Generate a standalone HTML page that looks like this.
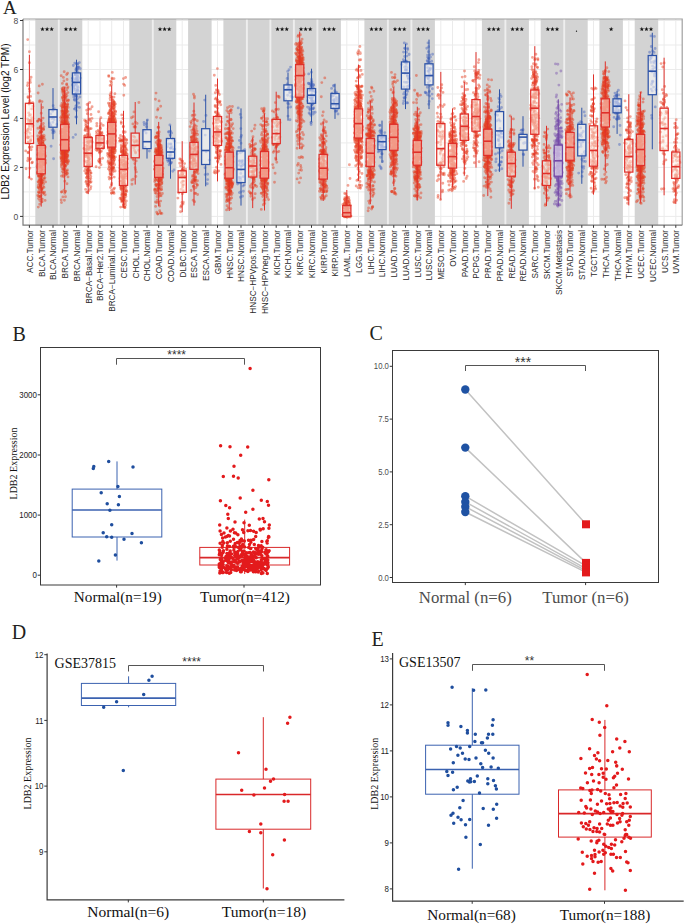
<!DOCTYPE html>
<html><head><meta charset="utf-8"><style>
html,body{margin:0;padding:0;background:#ffffff;width:685px;height:924px;overflow:hidden}
svg{display:block}
</style></head><body><svg width="685" height="924" viewBox="0 0 685 924"><rect x="23" y="19" width="659.2" height="206.2" fill="#ffffff"/><path d="M23 216.4H682.2M23 191.9H682.2M23 167.4H682.2M23 142.9H682.2M23 118.4H682.2M23 94H682.2M23 69.5H682.2M23 45H682.2M23 20.5H682.2M29.4 19V225.2M41.2 19V225.2M53 19V225.2M64.7 19V225.2M76.5 19V225.2M88.2 19V225.2M100 19V225.2M111.7 19V225.2M123.5 19V225.2M135.2 19V225.2M147 19V225.2M158.7 19V225.2M170.5 19V225.2M182.2 19V225.2M194 19V225.2M205.7 19V225.2M217.5 19V225.2M229.2 19V225.2M241 19V225.2M252.7 19V225.2M264.5 19V225.2M276.2 19V225.2M288 19V225.2M299.7 19V225.2M311.5 19V225.2M323.2 19V225.2M335 19V225.2M346.8 19V225.2M358.5 19V225.2M370.3 19V225.2M382 19V225.2M393.8 19V225.2M405.5 19V225.2M417.3 19V225.2M429 19V225.2M440.8 19V225.2M452.5 19V225.2M464.3 19V225.2M476 19V225.2M487.8 19V225.2M499.5 19V225.2M511.3 19V225.2M523 19V225.2M534.8 19V225.2M546.5 19V225.2M558.3 19V225.2M570 19V225.2M581.8 19V225.2M593.5 19V225.2M605.3 19V225.2M617.1 19V225.2M628.8 19V225.2M640.6 19V225.2M652.3 19V225.2M664.1 19V225.2M675.8 19V225.2" stroke="#ebebeb" stroke-width="1" fill="none"/><rect x="35.3" y="19" width="23.5" height="206.2" fill="#d3d3d3"/><rect x="58.8" y="19" width="23.5" height="206.2" fill="#d3d3d3"/><rect x="129.3" y="19" width="23.5" height="206.2" fill="#d3d3d3"/><rect x="152.8" y="19" width="23.5" height="206.2" fill="#d3d3d3"/><rect x="188.1" y="19" width="23.5" height="206.2" fill="#d3d3d3"/><rect x="223.4" y="19" width="23.5" height="206.2" fill="#d3d3d3"/><rect x="246.9" y="19" width="23.5" height="206.2" fill="#d3d3d3"/><rect x="270.4" y="19" width="23.5" height="206.2" fill="#d3d3d3"/><rect x="293.9" y="19" width="23.5" height="206.2" fill="#d3d3d3"/><rect x="317.4" y="19" width="23.5" height="206.2" fill="#d3d3d3"/><rect x="364.4" y="19" width="23.5" height="206.2" fill="#d3d3d3"/><rect x="387.9" y="19" width="23.5" height="206.2" fill="#d3d3d3"/><rect x="411.4" y="19" width="23.5" height="206.2" fill="#d3d3d3"/><rect x="481.9" y="19" width="23.5" height="206.2" fill="#d3d3d3"/><rect x="505.4" y="19" width="23.5" height="206.2" fill="#d3d3d3"/><rect x="540.7" y="19" width="23.5" height="206.2" fill="#d3d3d3"/><rect x="564.2" y="19" width="23.5" height="206.2" fill="#d3d3d3"/><rect x="599.4" y="19" width="23.5" height="206.2" fill="#d3d3d3"/><rect x="634.7" y="19" width="23.5" height="206.2" fill="#d3d3d3"/><path d="M58.8 19V225.2M152.8 19V225.2M246.9 19V225.2M270.4 19V225.2M293.9 19V225.2M317.4 19V225.2M387.9 19V225.2M411.4 19V225.2M505.4 19V225.2M564.2 19V225.2" stroke="#eeeeee" stroke-width="1.9" fill="none"/><path d="M30.5 123.8h0M31.7 122h0M29.9 120.6h0M31.4 179.1h0M28.2 129.3h0M28.5 152.3h0M30.5 140.8h0M30.4 82.4h0M29.8 100.6h0M32.9 125.8h0M32 119.9h0M32.4 162.3h0M29.3 102.8h0M26 132.7h0" stroke="#e5381a" stroke-opacity="0.46" stroke-width="2.9" stroke-linecap="round" fill="none"/><path d="M30.5 114.7h0M27.9 82.9h0M25.7 150.9h0M29.1 177.4h0M30.9 139.5h0M30 147.3h0M29.4 127.1h0M26.1 168.8h0M30.6 158.7h0M29.2 103.5h0M28.1 158.3h0M32 146.9h0M30.1 133.3h0M29.4 51.7h0" stroke="#e5381a" stroke-opacity="0.46" stroke-width="2.9" stroke-linecap="round" fill="none"/><path d="M28.1 131.8h0M27.7 138.1h0M29.6 124.7h0M26.7 130.7h0M29.2 125.2h0M29.8 91.4h0M29.8 120.5h0M28.1 97.6h0M30.8 121.6h0M30.1 79.9h0M30.6 140.7h0M28.9 104.1h0M26.9 134.5h0M27.7 39.6h0" stroke="#e5381a" stroke-opacity="0.46" stroke-width="2.9" stroke-linecap="round" fill="none"/><path d="M31.1 149.7h0M28.3 141.9h0M32.8 102.6h0M27.7 160.7h0M28.3 120.4h0M29.3 147.3h0M28.4 121.9h0M30.6 120.2h0M32.9 106.2h0M29.7 143.5h0M30.9 129.5h0M27.9 137.3h0M27.1 131.1h0" stroke="#e5381a" stroke-opacity="0.46" stroke-width="2.9" stroke-linecap="round" fill="none"/><path d="M28.2 137h0M31.7 108.9h0M31.8 162.9h0M29.2 115.5h0M29.9 168.3h0M32.2 124.8h0M29.6 159.4h0M28.1 142.5h0M27.9 129.3h0M31.6 117.6h0M30.7 96.4h0M32.2 126.7h0M31.1 77.3h0" stroke="#e5381a" stroke-opacity="0.46" stroke-width="2.9" stroke-linecap="round" fill="none"/><path d="M28 152.7h0M28.7 112.9h0M29.2 137.1h0M27.7 119h0M28.1 137.7h0M28 96.8h0M30.1 121.5h0M29.3 62.8h0M30.7 103h0M27.3 137.3h0M29.3 88.9h0M27.5 85.5h0M31.6 136.3h0" stroke="#e5381a" stroke-opacity="0.46" stroke-width="2.9" stroke-linecap="round" fill="none"/><path d="M29.4 103.3V54.8M29.4 143.4V178.4" stroke="#e0302a" stroke-width="1.0"/><rect x="25.4" y="103.3" width="8.2" height="40.2" fill="#fff4ea" fill-opacity="0.5" stroke="#e0302a" stroke-width="1.25"/><path d="M25.4 123.8H33.5" stroke="#e0302a" stroke-width="1.6"/><path d="M42.1 165.4h0M41.8 132h0M44.5 158.1h0M41.3 181.8h0M43.9 159.3h0M39.4 151.4h0M40.3 163h0M42 167.6h0M40 156.9h0M40.9 147.8h0M42.6 157.7h0M41.2 164h0M38.8 141.1h0M40.3 155.2h0M40.7 163.5h0M39.7 178.8h0M42.1 163.4h0M39.2 179.6h0M38.3 153.1h0M41.1 121h0M39.5 189.8h0M42.3 173.9h0M45.3 160.3h0M44.1 137.5h0M37.1 166.5h0M38.2 138.7h0M42.3 138.2h0M39.8 200.5h0M43.6 183.7h0M37.8 195.5h0M45.5 181.9h0M39.9 165.7h0M39 159h0M39.3 176.1h0M43.8 146.8h0M40.5 178.9h0M41.7 160.4h0M40.2 151.4h0M41.1 180.3h0M44.4 159.8h0M42.8 181.2h0M39.8 166.8h0M43.2 165.3h0M39.9 178.1h0M42.6 183.6h0M41.7 175.8h0M39.4 146.8h0M38.3 164.3h0M42.4 188.4h0M42.1 162.5h0M41.4 157.2h0M40.3 147.9h0M41.5 173.3h0M43.9 148.1h0M42.9 162.3h0M39.2 167.2h0M40.2 186.6h0M41.5 175.9h0M38.7 165.8h0M44.8 152.8h0M39 140.8h0M41.2 148h0M39.4 143.1h0M40.5 160.1h0M40.3 163.1h0M39.8 152.2h0M42.1 169.5h0M42.2 154.9h0M42 101.6h0" stroke="#e5381a" stroke-opacity="0.46" stroke-width="2.9" stroke-linecap="round" fill="none"/><path d="M44.2 135.6h0M41.4 158.1h0M39.5 160.3h0M41.6 148.7h0M39.7 188h0M41.4 154h0M41.7 134.9h0M41.4 198.7h0M42.8 154.7h0M44.7 160.4h0M41.3 166.6h0M43.5 163.9h0M39.4 175.9h0M37.4 159.1h0M38.6 181.9h0M41.9 137.1h0M40.1 172h0M41.1 177.7h0M41.2 165.6h0M42 147h0M43.1 141.7h0M41.8 146.1h0M43.4 162.9h0M40.5 137h0M44 187.4h0M40.2 196.9h0M37.8 154.8h0M41.1 131.7h0M42.6 107.5h0M41.3 167.4h0M44 170h0M40.4 181.5h0M42 173.3h0M42.4 151.2h0M40.1 160.1h0M40.8 160h0M40.7 136.6h0M40.5 176.7h0M40.1 185.5h0M44.2 155.8h0M39.3 188.2h0M40.4 130.8h0M38.3 191.9h0M45.1 200.4h0M41.5 160.5h0M42.7 160.5h0M41.8 161.4h0M42.3 171.1h0M41.3 172.5h0M42.8 168.3h0M41 185.3h0M41.2 195.4h0M43.7 164.7h0M43.6 135.3h0M41 151.4h0M41.1 153.6h0M37.8 174.2h0M42 160.3h0M41.3 151.7h0M40.4 196.1h0M41.5 151.3h0M43.8 145.2h0M41.6 170.9h0M39.1 155.1h0M43.2 163.4h0M40.6 173.5h0M41.8 138.2h0M42.8 174.4h0M39.9 100.6h0" stroke="#e5381a" stroke-opacity="0.46" stroke-width="2.9" stroke-linecap="round" fill="none"/><path d="M44.7 159.6h0M38.5 184.7h0M40.9 158.3h0M41.6 174h0M42.9 124.1h0M42.1 160.4h0M38.9 152.3h0M40.5 127.2h0M44.2 164.6h0M39.7 171.7h0M41.6 183.3h0M40.2 156.9h0M43.4 147.4h0M41.2 180.8h0M40.8 152.6h0M41.4 128.1h0M41.8 188.6h0M41.3 170.1h0M40.4 160h0M39.5 158h0M43.8 144.7h0M41.2 113.2h0M40.7 184.2h0M40.2 169.4h0M41.9 190.6h0M38.4 176.2h0M38.3 185.5h0M39.3 146.9h0M39 162.9h0M38.5 139.1h0M38.7 169.1h0M38.1 187.2h0M40.8 180.4h0M38.8 164h0M41.7 182.8h0M39.5 196.6h0M43.2 192.3h0M42.1 174.8h0M42.3 199.1h0M39 158.1h0M42.8 143.9h0M40.7 148.4h0M40.2 180.4h0M40.9 167.7h0M42.6 159.9h0M44.4 172.3h0M38.9 154h0M44.1 154.3h0M40 165.5h0M39.1 167.2h0M42.9 154.3h0M39.6 149.7h0M40.9 146.1h0M40.7 138.5h0M40.5 191.6h0M43.3 123.5h0M39.4 150.4h0M41.6 144.2h0M39.5 181h0M41.5 167.1h0M37.3 172.2h0M41.4 124.5h0M40.7 160h0M40.5 131.8h0M42.9 143.1h0M40.4 192.3h0M43.9 164.3h0M40.3 145.3h0M42.4 84.2h0" stroke="#e5381a" stroke-opacity="0.46" stroke-width="2.9" stroke-linecap="round" fill="none"/><path d="M38.3 207.1h0M44.2 179.6h0M38.9 142.7h0M41 136.8h0M43.6 129.4h0M44.3 157.4h0M39.6 159.2h0M41.7 139.5h0M39.9 163.5h0M37.8 172.9h0M39.8 160.6h0M43.8 193.8h0M40.3 128.1h0M37.7 149.7h0M40.4 186.3h0M44.7 153.8h0M39.1 158.2h0M38.8 153.1h0M38.5 154.9h0M38.8 195.9h0M45.4 162.4h0M44.4 154.7h0M45.1 156.7h0M39.1 148.6h0M42.7 142.9h0M42.4 155.5h0M43.8 179.4h0M41.1 131.8h0M40.2 126.8h0M43.2 186.4h0M42.2 160.2h0M38 160.1h0M38.5 141.7h0M40.7 175.5h0M39.7 161.3h0M40.5 145.8h0M41.2 182.8h0M43 147.2h0M37.5 121.2h0M41 120.3h0M40.9 142.4h0M41.5 182.5h0M41.9 130.9h0M37.5 159.8h0M39.5 132.8h0M40.9 175.3h0M42.5 163.1h0M39.7 159.2h0M39.7 204.3h0M41.9 180.4h0M40.3 156.2h0M40.5 154.1h0M42.6 150.3h0M44.7 154.3h0M38.4 187.4h0M43.9 126.7h0M43.6 151h0M40.5 147.2h0M45.1 194.8h0M41.2 172.2h0M39 159.4h0M37.9 136h0M40.4 140.7h0M40.4 159.8h0M43 137.8h0M39.9 138h0M39.6 136.8h0M41.5 153.8h0M38.1 93h0" stroke="#e5381a" stroke-opacity="0.46" stroke-width="2.9" stroke-linecap="round" fill="none"/><path d="M41.6 202h0M41.7 136.1h0M38 147.8h0M40.6 186.8h0M39.7 169.2h0M40.9 182.6h0M40.6 128h0M38.8 140.4h0M39.5 158h0M40.9 126.5h0M42.9 141.3h0M39 164.2h0M41.3 165.9h0M43.1 118.1h0M40.7 183.2h0M44.4 147.8h0M41.7 129h0M45.2 163.6h0M42.2 160.9h0M43.5 151.2h0M40.6 196.4h0M38.6 176.1h0M39.8 184.2h0M42.7 162h0M43.6 163.3h0M41.7 151.1h0M40.7 142.7h0M40.3 167.5h0M40.3 173.2h0M40.4 137.3h0M41.5 170.8h0M39.9 141.1h0M43.6 170.4h0M45.3 147.1h0M41.6 158h0M41.7 182.7h0M42.1 175.3h0M41.4 175.6h0M39.8 166.1h0M38.1 181.7h0M41.2 180.1h0M41.7 137.9h0M40.7 142.4h0M41.8 160.9h0M38 121.1h0M41.2 160.4h0M44.4 174.9h0M41.7 188.8h0M42.4 157.2h0M42.5 165h0M40.3 162.2h0M39.4 153.3h0M41.9 154.9h0M39 193.1h0M41.3 172.9h0M41.8 161.3h0M39 156.9h0M40.4 137.3h0M40 147.3h0M44 177.9h0M39.5 143.7h0M42.8 152.7h0M39.1 119.3h0M43.6 129.2h0M42.1 192h0M41.7 149h0M41.6 179h0M40.7 179.2h0M39.2 85.9h0" stroke="#e5381a" stroke-opacity="0.46" stroke-width="2.9" stroke-linecap="round" fill="none"/><path d="M38.5 170.7h0M40.1 155.9h0M40.5 154.7h0M42.6 162.1h0M42.8 143.4h0M43 165h0M42.4 171.2h0M41.5 145.5h0M38 128.3h0M40.8 148.8h0M42.8 167.7h0M44.9 177.7h0M40.1 172.2h0M42.2 164.7h0M40.1 133.1h0M38.9 119.4h0M44.9 139.6h0M40.2 154.7h0M44.9 148.8h0M42.2 201.5h0M44.2 167.2h0M40.5 184.6h0M42.8 136.5h0M38.2 167.6h0M38 154.7h0M41.1 167.3h0M40.5 149.7h0M41.5 165.5h0M45.3 155.8h0M42.2 152.2h0M41.7 177.1h0M39.1 192.4h0M42.7 128.6h0M41.4 162.5h0M38.3 139.6h0M38.5 198.5h0M39.9 183.7h0M42.8 150.3h0M42.6 154.1h0M43.6 193h0M41.8 189.4h0M42.6 182.6h0M37.6 167.9h0M39.6 161.1h0M40 162.1h0M41 181.8h0M39.8 179.8h0M41.2 157.7h0M41.6 156h0M41.6 171.1h0M42.6 168.7h0M40.6 151.3h0M44.7 192.1h0M43.6 139.9h0M39.7 133.2h0M37.8 164.4h0M42 138.9h0M43 151h0M40 160.3h0M38.8 166.4h0M41.2 161.8h0M41 152.9h0M43.5 162.6h0M42.2 180.2h0M40.5 179h0M43.1 149.1h0M40.5 177.7h0M39.2 157.6h0M39.5 101.8h0" stroke="#e5381a" stroke-opacity="0.46" stroke-width="2.9" stroke-linecap="round" fill="none"/><path d="M41.2 145.4V103.3M41.2 173.8V206.6" stroke="#e0302a" stroke-width="1.0"/><rect x="37.1" y="145.4" width="8.2" height="28.4" fill="#fff4ea" fill-opacity="0.5" stroke="#e0302a" stroke-width="1.25"/><path d="M37.1 159.1H45.3" stroke="#e0302a" stroke-width="1.6"/><path d="M52.7 111.2h0M54.2 108.8h0M53.2 105.8h0M49.8 123h0" stroke="#4462bd" stroke-opacity="0.46" stroke-width="2.9" stroke-linecap="round" fill="none"/><path d="M53.3 117.9h0M53.1 109.9h0M52.9 117.5h0M51.1 146.3h0" stroke="#4462bd" stroke-opacity="0.46" stroke-width="2.9" stroke-linecap="round" fill="none"/><path d="M52.8 132.9h0M51 125.8h0M54.2 119.6h0M53.6 158.7h0" stroke="#4462bd" stroke-opacity="0.46" stroke-width="2.9" stroke-linecap="round" fill="none"/><path d="M52.9 122.3h0M52.8 130.8h0M52.1 130h0" stroke="#4462bd" stroke-opacity="0.46" stroke-width="2.9" stroke-linecap="round" fill="none"/><path d="M50.4 124.8h0M50.9 113.9h0M53.9 130.8h0" stroke="#4462bd" stroke-opacity="0.46" stroke-width="2.9" stroke-linecap="round" fill="none"/><path d="M56.6 124.4h0M51.7 118.5h0M54.2 132.3h0" stroke="#4462bd" stroke-opacity="0.46" stroke-width="2.9" stroke-linecap="round" fill="none"/><path d="M53 109.6V88.1M53 127.3V139.3" stroke="#2d53a8" stroke-width="1.0"/><rect x="48.9" y="109.6" width="8.2" height="17.6" fill="#ffffff" fill-opacity="0.5" stroke="#2d53a8" stroke-width="1.25"/><path d="M48.9 117H57.1" stroke="#2d53a8" stroke-width="1.6"/><path d="M65.8 135.9h0M62 103.4h0M64.8 181.2h0M63.4 156.8h0M64.5 140.8h0M66.2 149h0M66.5 124.6h0M65.2 120.9h0M62.5 89.7h0M61.5 138h0M64.3 166.2h0M61.2 159.3h0M67.3 145.9h0M66.4 155.9h0M65.1 136.9h0M68.2 149.9h0M64.5 143.1h0M62 147.9h0M67.4 124.7h0M67.8 125.9h0M64.1 119.6h0M66.5 159.6h0M64.6 152.8h0M66.2 146.8h0M66.7 144.8h0M68.4 150.1h0M67.6 126.2h0M63.9 171.6h0M64.5 131.9h0M62.5 106.8h0M65.6 160.3h0M65.6 124.9h0M64 119.8h0M63.6 149.4h0M66.3 112.5h0M64.4 120.9h0M64.1 117.3h0M64.8 98.5h0M65.1 151.8h0M63 133h0M62.7 119.2h0M61.1 156.4h0M63.4 160.5h0M63.8 158.2h0M63 153.2h0M65.5 151.3h0M61.8 137.2h0M64.6 113.9h0M67.8 155h0M61.6 132.7h0M64.4 158.2h0M64.7 104h0M63.6 139.5h0M65.6 134.4h0M65.4 117.2h0M65.6 150.9h0M65.2 131.7h0M67.2 155.7h0M64.4 146.6h0M63.5 147.9h0M63.5 114.2h0M66.2 147.6h0M66.7 109.3h0M63.2 132.8h0M68.7 123.9h0M67 111h0M65.4 145.2h0M67.4 169.9h0M66.5 156h0M62 164h0M63.5 156.8h0M67 149.7h0M66.6 118.8h0M64.3 138.7h0M64.2 123.4h0M62.3 159.8h0M64.7 159.4h0M62.2 121.7h0M66.2 165h0M65.8 109.8h0M65.9 100.5h0M64.7 130.1h0M65.2 131.7h0M62.3 91.4h0M66.6 130.9h0M66 127.6h0M64.6 143.7h0M63.9 139.6h0M64.8 137.2h0M64.3 160.7h0M68.7 100.2h0M62.7 148.7h0M66.8 141.7h0M62.7 103.4h0M65.2 139.1h0M63 141.2h0M67.2 117h0M64.4 146.2h0M66.4 115.3h0M66.6 155.2h0M64.5 154.4h0M67.3 129.1h0M64.7 120.1h0M62.4 144.1h0M63.6 162.7h0M62.7 157.4h0M65.1 153.7h0M64.6 161.9h0M63.2 137.7h0M62 155.8h0M62.1 118h0M67 95.6h0M63.4 119.7h0M63.3 87.6h0M63.3 148.9h0M64.9 137.7h0M61 152.4h0M63.5 115.4h0M64.4 122.6h0M62.2 137.4h0M63.3 94.8h0M64.3 156.6h0M63.4 143.9h0M67.5 150.2h0M66.8 145.9h0M64.9 135.7h0M62 151.2h0M62.5 135.3h0M62.3 134.2h0M66.4 148.3h0M62.7 143.7h0M66.7 150.3h0M68.6 114.8h0M64.6 160.6h0M66.6 84.8h0M65.5 196.7h0M61.9 191.8h0" stroke="#e5381a" stroke-opacity="0.46" stroke-width="2.9" stroke-linecap="round" fill="none"/><path d="M63.4 105.4h0M66.1 154.3h0M63.9 139.8h0M61 105.8h0M62.9 110.8h0M65.1 94.3h0M64.1 141.9h0M63.8 147.4h0M64.8 124h0M63.8 142.4h0M65.7 145.4h0M66 143.3h0M64 144.5h0M62.9 157.2h0M66.4 130.3h0M61.5 140.8h0M66.2 113.7h0M66.7 89.9h0M64.7 135.4h0M67.3 162.3h0M65.5 145.8h0M63.4 154.3h0M64.7 140.7h0M67.9 121.8h0M65.8 147.8h0M65.8 146.2h0M65.2 126.8h0M64.8 111.4h0M67 115.6h0M63.6 136h0M62.3 124.9h0M68 151.7h0M63.7 168.5h0M67.3 88.4h0M63.2 100.3h0M64.6 113.3h0M66.1 150.2h0M66.1 128.6h0M62.3 116.5h0M68.2 137.2h0M62.5 129.3h0M66.8 173.5h0M63.3 157.8h0M63.6 156.4h0M66.6 134.1h0M63.8 114.1h0M62.2 88.4h0M64.2 112.1h0M64 126.7h0M65.2 158.9h0M64.6 131.5h0M65.4 144.4h0M66.2 112.4h0M63.9 134.6h0M65.7 141.2h0M61.1 144.7h0M65.9 124.4h0M63.4 140.1h0M62.5 160.7h0M65.6 121.2h0M64.4 136.9h0M64.5 140.6h0M63.3 129.4h0M63.4 132.7h0M67 155.4h0M62.4 157.1h0M64.7 150.4h0M65.2 141.6h0M63.2 123.8h0M63.1 126.1h0M63.9 151.9h0M63.9 147.5h0M66.8 150.4h0M63.2 152.6h0M65.6 128.8h0M65 134h0M64.9 153.3h0M65.4 148.2h0M63.2 140.9h0M65.3 114.5h0M63.3 133h0M63.6 163.6h0M66.3 150h0M64.4 136.6h0M67.3 148.4h0M63.6 128.7h0M66.5 161.3h0M67.1 145.4h0M64.3 139.3h0M63.4 104.1h0M65 154.3h0M68.4 127.3h0M64.8 141.9h0M63 140.7h0M65.6 154.1h0M64.4 151.7h0M64.9 148.5h0M65.3 113.2h0M63.6 138h0M64 103.8h0M66.2 150.7h0M62.6 125.8h0M66.6 126.8h0M63.5 154.9h0M66.6 107h0M64.6 148.3h0M67.2 136.1h0M65.6 166.1h0M64.7 107.7h0M65.5 157.4h0M64.3 134h0M65 169.5h0M67.5 136.3h0M64.4 117.3h0M60.6 117.6h0M64 150.8h0M64.4 112.3h0M63.5 154h0M67.8 104.2h0M67.1 143.1h0M63.1 124.9h0M66.3 155.2h0M67 116.4h0M63.7 146h0M65.2 146.2h0M63.2 158h0M66.1 114h0M63.6 135.7h0M65.6 113.9h0M65.3 148.9h0M64.9 138.1h0M62.7 151.9h0M65.2 127.5h0M61.1 130.4h0M62.4 83.4h0M63.9 190.2h0M64.7 193.2h0" stroke="#e5381a" stroke-opacity="0.46" stroke-width="2.9" stroke-linecap="round" fill="none"/><path d="M67 142.9h0M63.5 119.2h0M64.9 156.9h0M64.9 137h0M65.1 117.6h0M67.2 139.6h0M68 150.5h0M64.7 130.9h0M66.2 145.4h0M67 171.3h0M66.5 140.4h0M66.6 109h0M65.5 134.5h0M63 153.5h0M64.4 151.4h0M63.6 154.4h0M68.4 147.7h0M65.1 146.1h0M67.9 92.6h0M64.5 141.7h0M64.9 146.6h0M63.3 133.1h0M64.9 112.7h0M63.9 162.6h0M68.3 137.5h0M63.2 157.8h0M67 155.3h0M66.1 147.3h0M64.7 136.7h0M64.5 137.8h0M61 131.8h0M63.1 137.7h0M65.6 123.9h0M65.2 152.7h0M65.4 150.7h0M64.6 153.3h0M64.7 87.6h0M63.2 158.8h0M62.5 136.5h0M62.9 113.4h0M65.2 116.2h0M65.1 116.3h0M63.3 145.4h0M66 124.2h0M67.1 135.2h0M65.1 151.7h0M65.8 131.5h0M67.8 148.7h0M62.4 171.6h0M66.6 126.3h0M62.4 154.8h0M66.2 156.7h0M60.9 120.4h0M66.2 117.1h0M62.4 143.6h0M63.2 90.4h0M64.1 98.5h0M62.5 143.9h0M62.9 105.9h0M65.9 143.5h0M66 142.1h0M67.5 148.6h0M63.3 140.6h0M66.6 107.5h0M65 98.2h0M65.5 145.2h0M62.9 145.8h0M62.3 146.3h0M66.7 137.5h0M63.6 133.1h0M65.2 104.3h0M64.4 164.5h0M62.8 140.9h0M63.5 99.7h0M65.8 97.9h0M65.9 136.3h0M63.1 145.5h0M62 147.5h0M64.6 123.3h0M63.4 134.4h0M61.8 111.2h0M64 118.2h0M63.5 176.8h0M65.3 151.5h0M64.6 146.8h0M65 106.4h0M63.6 145.1h0M62.2 151.3h0M64 150h0M65.4 126h0M68.3 144.4h0M63.7 159.3h0M64.4 95.9h0M61.6 116h0M64.6 112h0M63.5 143.3h0M62.1 134.4h0M61.9 123.9h0M65.7 143.7h0M61.6 154.3h0M66 147h0M65.1 127h0M62.8 98.7h0M62.4 168.9h0M62.9 133.5h0M65 139.6h0M66 97.1h0M61.8 123.1h0M63.9 150.4h0M63.9 161.4h0M66.3 157h0M63.6 131h0M63.9 130.2h0M61.7 116.5h0M64.6 152.3h0M63.5 151h0M64.6 91.6h0M62.7 106.5h0M67.8 156.2h0M66.7 155.2h0M64.8 112.6h0M64 137.5h0M65.7 139.8h0M66.2 122.6h0M63 135.8h0M65.8 109.2h0M66.9 143.1h0M66.1 138.9h0M62.6 133.5h0M64.5 154.2h0M67.6 142.4h0M63.8 101.8h0M67.7 146h0M68 87h0M63.4 77.4h0M65.2 191.8h0M61.4 192.1h0" stroke="#e5381a" stroke-opacity="0.46" stroke-width="2.9" stroke-linecap="round" fill="none"/><path d="M67.7 146.5h0M62.1 159.8h0M66.5 146.9h0M64.7 103.5h0M66.7 139.7h0M66.4 157.9h0M62.2 139.2h0M63.1 111.1h0M61.3 122.5h0M63.5 142.5h0M64.6 137.3h0M67.3 150.9h0M62.9 115.1h0M62 153.2h0M62.2 136.7h0M66 133.4h0M63.9 135.3h0M64.3 148h0M63.9 134.9h0M63.1 140.8h0M64.2 143.7h0M62 136.4h0M65.7 156.3h0M64.9 166.8h0M63.4 173.1h0M61.9 161.2h0M65 152.1h0M63.6 152h0M67.9 111.6h0M67.1 154.1h0M60.9 133.4h0M68 176.9h0M66.4 143.4h0M65.3 150.8h0M65.1 166.7h0M62.2 142.4h0M63.9 138h0M62.8 131.3h0M67.1 157h0M66.1 123.5h0M68 148.3h0M61.4 151.1h0M62.4 131.3h0M64.7 140.9h0M68.2 107.4h0M63 145.4h0M64 152.5h0M63.9 149.6h0M65.8 146.5h0M64.4 142.6h0M65.8 138.3h0M64.7 116.4h0M65.2 123.3h0M64.2 147.7h0M62.9 93.2h0M64.4 135h0M65.6 150.6h0M61.5 176.1h0M66.3 133.7h0M63.6 140.7h0M65.9 144.1h0M64 141.6h0M62.7 89.6h0M65.7 140h0M60.9 144.9h0M66.4 161.5h0M63.5 151.4h0M67 128.5h0M64.7 142.3h0M66 142.2h0M65.9 107.3h0M65.6 139h0M63.5 125.3h0M63.9 124.9h0M62.4 108.3h0M65.5 172.5h0M65.5 131.9h0M63.1 161.3h0M63.7 145.6h0M65.2 167.2h0M63.1 149.2h0M66.7 109.5h0M62.3 121.2h0M64.3 137.4h0M67.4 101.5h0M63.2 140.1h0M65.7 127.9h0M66.6 158.3h0M65.8 155.5h0M64 145.4h0M63.9 115.7h0M63.6 91.8h0M64.4 145h0M66.8 127.9h0M66.5 161.4h0M61.6 128.9h0M61.8 164.3h0M67 183.8h0M64 131.7h0M64.4 133.4h0M67.1 140.5h0M64.9 129.1h0M63.7 169.4h0M64.9 145.7h0M64.3 143.6h0M65.2 142.5h0M62.9 125.4h0M67.1 151.7h0M64.7 145.1h0M64.4 161.8h0M63.1 144.1h0M66.9 132.2h0M64.2 123.9h0M62.9 161.7h0M65.3 141.8h0M64.2 96.6h0M65.8 132.1h0M64.4 107.3h0M64.7 112.7h0M61.4 164.7h0M63.3 147.8h0M67 144.8h0M63.6 144.4h0M66.8 124.9h0M65 146.8h0M66.2 116.9h0M62 152.3h0M64.1 148.4h0M65.9 145.8h0M66.4 112.5h0M64.1 129.2h0M65 144.1h0M64.6 127.2h0M66.6 74.6h0M64.2 71.7h0M65.5 191.3h0M64.4 200.3h0" stroke="#e5381a" stroke-opacity="0.46" stroke-width="2.9" stroke-linecap="round" fill="none"/><path d="M64.9 137h0M63.7 124h0M64.8 103.5h0M64.7 132.1h0M64.1 138.6h0M63.3 147.4h0M64.4 166.6h0M67.6 124.5h0M66.1 130.1h0M63.7 144.3h0M67 158h0M65.8 147.9h0M63 175.1h0M64.9 132.7h0M63.6 101.3h0M67.3 119.5h0M65.1 156.1h0M64.3 148.5h0M64.8 106.6h0M65.1 143.5h0M66.2 143.3h0M64.4 145.6h0M67.4 104.9h0M68 159.9h0M63.8 128.4h0M63.1 155.5h0M61.5 154.1h0M68.1 132h0M66.9 111.2h0M62.9 144.3h0M66.1 174.2h0M67.5 124.4h0M66.3 121.3h0M66.7 144.1h0M65.7 112.9h0M65.7 161.4h0M65.4 149.8h0M62.4 108.3h0M64.8 145.7h0M63.5 164.2h0M63 154.6h0M65.3 144.5h0M64.7 175.6h0M67.7 163.8h0M66.4 146.9h0M63.5 96.3h0M64.7 122.9h0M67 135.7h0M61.9 146.1h0M62.3 149.9h0M65.1 115.4h0M65.5 132.7h0M65.3 128.2h0M67.6 100h0M64.5 144.6h0M68.3 118.3h0M66.4 125.9h0M67.3 126h0M64.4 116.5h0M63.8 141.1h0M65.7 131.9h0M62.5 149.3h0M67.3 132.4h0M63.9 91.7h0M64.5 140.7h0M64.6 136.6h0M65.3 127.6h0M65.6 154.6h0M61.2 131.3h0M65.3 117.2h0M66.2 151.3h0M67.1 159.7h0M65.6 121.1h0M63.7 157h0M67.4 148.2h0M65.3 150.2h0M64.8 142.3h0M63.1 152h0M65.4 134.3h0M62.9 156.1h0M63.3 142.7h0M60.9 157.7h0M61.4 136.2h0M62.8 156h0M65 120.1h0M62.7 97.3h0M63.9 106.5h0M61.5 138.4h0M64.7 161.4h0M65.5 157.8h0M65.1 132.1h0M66.5 151.2h0M61.2 139.9h0M62.9 144.4h0M62.1 112.9h0M64.9 122.7h0M63.8 122.3h0M65.4 138.8h0M65.4 125h0M64.8 113.2h0M62.1 113.5h0M62.9 105h0M63.9 110.4h0M64.3 150.5h0M64.3 150.8h0M68.3 161.8h0M61.7 144.6h0M62.7 138.3h0M66 152.3h0M62.7 129h0M65 143.4h0M66.2 148.8h0M65.9 171.5h0M61.7 141.6h0M64.4 169.6h0M63.9 158.6h0M65 151h0M62.9 138.1h0M65.7 145.6h0M64.5 154.5h0M63.6 141h0M62.8 156.4h0M63.7 136.8h0M62.2 110.3h0M62.8 147.8h0M68 148.7h0M63.6 145.6h0M62.9 196.9h0M65 142.6h0M63.7 140h0M64.6 120.8h0M67 144.3h0M64.6 142.4h0M61.2 75.7h0M67.1 79.5h0M61.2 200h0" stroke="#e5381a" stroke-opacity="0.46" stroke-width="2.9" stroke-linecap="round" fill="none"/><path d="M67 146.9h0M64.1 141.4h0M64.4 157.7h0M65.7 153.9h0M65.3 141.6h0M67.5 122.7h0M66.3 160.7h0M68.3 139.3h0M65.6 153.5h0M63.5 146.8h0M64.1 124.9h0M65.4 114.5h0M63 153h0M64.3 154h0M64.8 132.2h0M66.4 152.8h0M64.7 152.8h0M63.7 142.3h0M66.1 133.4h0M67.7 173.4h0M67.4 130.4h0M64.4 148.7h0M66.6 120.4h0M64.8 146.1h0M64.5 161.9h0M67.5 139.9h0M63 129.4h0M65.1 116.1h0M68.5 141.3h0M62.7 121.9h0M64.1 141.4h0M68.6 150.1h0M63.3 154.2h0M64.6 155.7h0M63.1 114.4h0M63.8 161.9h0M65.3 121.5h0M65.2 147.5h0M63.1 151.6h0M66.8 130.4h0M62 118.5h0M66.4 161.6h0M65 122.5h0M62.5 97.5h0M67.6 116.7h0M61.8 132.5h0M61.5 158.2h0M64.1 139.4h0M64.4 144h0M65.6 161.1h0M67 116.1h0M62.9 114h0M65.6 130.6h0M63.1 141.4h0M65.3 159.7h0M63.2 155.4h0M63.5 132.8h0M67.5 127.4h0M64.9 107.5h0M64.8 139.8h0M65.8 153.7h0M66.1 93.9h0M64.7 141.1h0M65.1 153.5h0M66.6 118.6h0M65 141.3h0M67.1 105h0M63.5 142h0M66.1 143.6h0M62.6 111.9h0M63.6 158.2h0M66 158.7h0M63.3 145h0M65.7 139.7h0M64.6 141.1h0M63.6 137.2h0M62.6 153.6h0M67 124.8h0M65.9 157.2h0M64.6 117.4h0M66.7 139.7h0M68.3 160.9h0M66.2 147.2h0M64 151.6h0M64.5 121.4h0M62.8 154.6h0M68.4 150.1h0M61.5 166.8h0M65.4 96.9h0M66.6 115.9h0M65.1 94h0M66.5 174.2h0M64.9 126.2h0M66.6 138h0M62.4 117.9h0M64 133.2h0M63.8 136.2h0M67.2 162.5h0M66 110.3h0M65.7 123.4h0M64.6 159.9h0M64.2 128.6h0M65.2 143.8h0M63.7 128.4h0M61.7 152h0M65.5 143.9h0M64.9 165.1h0M65.1 149.5h0M66 119.7h0M63.9 80.9h0M65.8 150.5h0M66 136.3h0M65.4 105.9h0M66.9 152.4h0M64.9 142.2h0M63.2 156.2h0M65.7 146.4h0M63.5 125h0M61.9 151.7h0M65.1 106.5h0M64.6 133.3h0M65.4 130.9h0M62.4 142.4h0M63.6 166.2h0M62.9 121.8h0M65.5 120.7h0M62.3 151.7h0M63.7 169.4h0M63.1 141.8h0M65.9 117.9h0M64.1 134.3h0M67.1 106.2h0M61.6 161.8h0M67.6 73.3h0M66.8 84h0M61.5 202.6h0" stroke="#e5381a" stroke-opacity="0.46" stroke-width="2.9" stroke-linecap="round" fill="none"/><path d="M64.7 124.3V87.3M64.7 150.3V189.5" stroke="#e0302a" stroke-width="1.0"/><rect x="60.6" y="124.3" width="8.2" height="26" fill="#fff4ea" fill-opacity="0.5" stroke="#e0302a" stroke-width="1.25"/><path d="M60.6 139.7H68.8" stroke="#e0302a" stroke-width="1.6"/><path d="M76.2 91.8h0M76.3 69.8h0M74.3 88h0M76.7 105h0M75.2 100.1h0M74.8 99.3h0M74.2 82.4h0M77.2 107h0M76.4 110.6h0M76.4 64h0M76.7 78.6h0M72.6 78.2h0M77.6 86.2h0M72.7 80.8h0M74.7 85.1h0M76.5 117h0M74.6 99.3h0M77 78.3h0M75.2 108.4h0" stroke="#4462bd" stroke-opacity="0.46" stroke-width="2.9" stroke-linecap="round" fill="none"/><path d="M76.6 84.1h0M77.9 77.3h0M78.7 103.1h0M75.4 74.8h0M75 80.1h0M77.6 64.5h0M79.1 78.3h0M79.6 81.8h0M74.4 109.1h0M76.2 75.4h0M77.1 79.3h0M80.2 78.1h0M75.1 89.5h0M77.7 69.2h0M77.2 89.7h0M73.3 65.5h0M77.2 72.2h0M75.1 94.4h0M77.6 67.5h0" stroke="#4462bd" stroke-opacity="0.46" stroke-width="2.9" stroke-linecap="round" fill="none"/><path d="M75.8 106.3h0M76.2 78.3h0M77.2 90.5h0M76.3 68h0M74.9 94h0M73.9 90.5h0M73.3 85.9h0M79.9 97h0M78.2 87.6h0M75.7 82.8h0M73.9 82.4h0M78.2 91.8h0M76.5 95.4h0M75.8 73.5h0M77.9 81h0M77.6 63.5h0M78.4 91.4h0M76 106.5h0M75.4 74h0" stroke="#4462bd" stroke-opacity="0.46" stroke-width="2.9" stroke-linecap="round" fill="none"/><path d="M75.1 95.9h0M78.2 73.2h0M78.1 67.3h0M79.4 62.6h0M77.9 80h0M75 100h0M75.6 74.8h0M77.6 90.1h0M73.2 75.7h0M74.3 100.1h0M72.6 85h0M76.4 100h0M73.2 86.2h0M78.6 74h0M77 69.6h0M73.6 87.9h0M80.3 68.8h0M76.1 93h0M76.7 74.7h0" stroke="#4462bd" stroke-opacity="0.46" stroke-width="2.9" stroke-linecap="round" fill="none"/><path d="M75.3 74.2h0M77.1 75.4h0M76.1 85.2h0M73.1 81.7h0M76.9 71.8h0M74.2 85.4h0M77.3 87.8h0M73.1 84h0M77.1 77.3h0M77.5 98.6h0M75.5 73.5h0M77.4 75.5h0M74.8 78.7h0M76.6 80.9h0M76.8 77.8h0M76.7 96.9h0M74.8 63.1h0M73.9 86.2h0M75.6 134.6h0" stroke="#4462bd" stroke-opacity="0.46" stroke-width="2.9" stroke-linecap="round" fill="none"/><path d="M73.5 94.8h0M73.8 97h0M76.3 96.3h0M77.7 67.6h0M79 67.3h0M79.5 107.4h0M73.7 82.4h0M77.3 79.7h0M75.8 69.8h0M77.9 90.4h0M76.8 79.5h0M77.9 76.5h0M77 102.2h0M77.1 68.9h0M74.9 72.9h0M72.8 78.5h0M75.8 117.1h0M77.8 67.8h0M73.1 137.4h0" stroke="#4462bd" stroke-opacity="0.46" stroke-width="2.9" stroke-linecap="round" fill="none"/><path d="M76.5 72.9V59.7M76.5 94V124.3" stroke="#2d53a8" stroke-width="1.0"/><rect x="72.4" y="72.9" width="8.2" height="21.1" fill="#ffffff" fill-opacity="0.5" stroke="#2d53a8" stroke-width="1.25"/><path d="M72.4 82.4H80.6" stroke="#2d53a8" stroke-width="1.6"/><path d="M91.2 128.6h0M91 114.5h0M84.8 153h0M90.8 121.2h0M89.4 141.3h0M91.1 181.7h0M88.4 157.7h0M88.8 131.2h0M87.4 176h0M90.2 171.2h0M85.7 156.8h0M88.2 163.4h0M85.8 149.4h0M86.1 151.7h0M88.1 178h0M91.7 142.7h0M85.6 150h0M88.6 182h0M92 118.4h0M85.9 145.4h0M87.5 173.6h0M89.9 147.8h0M89.3 154.5h0M89.3 164h0M88.5 161.7h0M86.8 183.9h0M86.8 156.1h0M88.9 160.2h0M91.7 153.9h0M89.2 154.3h0M89.7 134.4h0M88.9 132.3h0" stroke="#e5381a" stroke-opacity="0.46" stroke-width="2.9" stroke-linecap="round" fill="none"/><path d="M89.6 161.6h0M89.1 119.7h0M88.8 149.2h0M89.4 145.9h0M86.8 145h0M87.2 171h0M85.8 155.1h0M87 126.9h0M89.7 145h0M86.7 148h0M87.1 147h0M87.3 128.6h0M88.7 137h0M88.7 167.4h0M85.2 153.5h0M90.6 147.4h0M90.9 145.1h0M90.3 141.6h0M85 130.3h0M88.6 144.9h0M92.1 106.8h0M87.3 161.2h0M85.4 128.4h0M89.2 153.5h0M86 173.6h0M86.3 154.8h0M87.9 165.8h0M86.8 168.2h0M88 134.6h0M86.1 162h0M86.3 121h0M85.6 168.7h0" stroke="#e5381a" stroke-opacity="0.46" stroke-width="2.9" stroke-linecap="round" fill="none"/><path d="M87.9 158.2h0M91.2 139.7h0M89.2 164.3h0M90.9 186.6h0M87.5 165.9h0M85.8 121.4h0M88.3 166.2h0M91.6 146.4h0M88.7 149.6h0M87.3 192.2h0M90 128.8h0M90 163.8h0M87.3 134.1h0M88 122.9h0M92.1 141.8h0M87.2 127.6h0M86.2 138.6h0M87.6 155.4h0M86.9 136h0M89.7 158.9h0M87.7 165.2h0M88.7 142.6h0M88.2 159.7h0M89.3 175.1h0M87.4 175.4h0M86.4 177.6h0M88.7 184.2h0M90.3 148.5h0M88.9 190.6h0M88 141h0M87.4 152.2h0M88.3 159.6h0" stroke="#e5381a" stroke-opacity="0.46" stroke-width="2.9" stroke-linecap="round" fill="none"/><path d="M88.2 137.2h0M87.6 148.1h0M91 154.4h0M91.1 173.1h0M87.8 148.1h0M87.7 180.4h0M85.8 154.7h0M89 146.8h0M87.5 171.1h0M88 169.7h0M85.2 135.7h0M86.7 166.3h0M86.4 181h0M87.7 142.5h0M86.8 148.4h0M89.7 179.5h0M90.3 165.6h0M87.3 186.1h0M85.6 189.4h0M87.3 113.7h0M86.5 126.8h0M91.7 147.1h0M88 161.5h0M85.4 130h0M90.7 150.8h0M89.8 136.6h0M90.6 141.1h0M86.9 131.1h0M88.1 146.1h0M88.4 129h0M90.3 182.5h0M84 148.5h0" stroke="#e5381a" stroke-opacity="0.46" stroke-width="2.9" stroke-linecap="round" fill="none"/><path d="M87 163.5h0M86 173.1h0M88.4 157.8h0M88.8 185.2h0M88.4 169h0M85.8 125.5h0M89.1 139.1h0M87.6 155.4h0M87.1 104.5h0M87.4 184.1h0M88.1 127h0M89.8 119h0M88.2 156.1h0M87.6 170.2h0M86.6 192.1h0M86.6 142.4h0M86 150.2h0M84.7 171h0M90.9 156.3h0M84.7 120.3h0M86.7 110.2h0M88.6 109.3h0M89.7 102.5h0M89.4 169.8h0M91 137.5h0M89 158.8h0M89.4 181.5h0M88.3 148.8h0M88 172.7h0M88.4 155.8h0M90.8 176.4h0M90.5 188.7h0" stroke="#e5381a" stroke-opacity="0.46" stroke-width="2.9" stroke-linecap="round" fill="none"/><path d="M88.3 157.2h0M91.7 141.3h0M90.2 147h0M87.3 169.7h0M85.9 182h0M85.9 123.5h0M86.3 154h0M87.1 146.4h0M89.9 173.3h0M90.5 173.2h0M86.7 140.8h0M84.4 136.2h0M88.6 177.4h0M86.6 154.7h0M85.1 160.9h0M89.7 167.1h0M88.2 177.2h0M87 154h0M88.7 143.5h0M85.8 156.2h0M87.4 172.9h0M87.2 140.9h0M89 170.5h0M88.6 165h0M90.6 137.2h0M87.6 153.6h0M86.9 177.5h0M87.3 150h0M90.8 178.6h0M90.5 109h0M87.2 138h0" stroke="#e5381a" stroke-opacity="0.46" stroke-width="2.9" stroke-linecap="round" fill="none"/><path d="M88.2 137.5V102.5M88.2 166.4V194.1" stroke="#e0302a" stroke-width="1.0"/><rect x="84.1" y="137.5" width="8.2" height="28.9" fill="#fff4ea" fill-opacity="0.5" stroke="#e0302a" stroke-width="1.25"/><path d="M84.1 153.2H92.3" stroke="#e0302a" stroke-width="1.6"/><path d="M100.1 144.9h0M102.7 138.3h0M98.7 134.6h0M100.1 136.2h0M96.8 125.9h0M99.3 131.5h0M101.8 139.6h0M99.6 153h0M98.8 142.7h0M102.6 158.3h0M101.4 151.3h0M102.1 133.4h0M100.2 126.2h0M99.6 143.6h0M96.1 166.8h0" stroke="#e5381a" stroke-opacity="0.46" stroke-width="2.9" stroke-linecap="round" fill="none"/><path d="M102.5 147.6h0M96.7 133.8h0M99.4 167.6h0M99.6 143.9h0M102.5 139.2h0M98.3 137.8h0M98.1 140.2h0M100.4 128.7h0M99.1 142.2h0M100.2 151.4h0M102.8 142.1h0M98.2 149.8h0M100.1 143.6h0M96.8 123.4h0M101 164.8h0" stroke="#e5381a" stroke-opacity="0.46" stroke-width="2.9" stroke-linecap="round" fill="none"/><path d="M98.1 130.4h0M99.4 134.6h0M100.1 149.1h0M100.8 142.7h0M99.4 159.3h0M99.8 145h0M97.1 145.6h0M99.4 144.8h0M96 149.4h0M101.8 132.1h0M98.5 160.6h0M103.2 125.4h0M102.7 148.1h0M102.6 144.5h0" stroke="#e5381a" stroke-opacity="0.46" stroke-width="2.9" stroke-linecap="round" fill="none"/><path d="M101.6 134.8h0M100.2 145.3h0M98 144.8h0M101.1 123.8h0M99.4 138.8h0M100.3 133.2h0M103.5 146.6h0M100.2 143.1h0M99.9 132.8h0M97.9 144.1h0M98.9 146.5h0M98.5 147.7h0M99 148.9h0M100 161.7h0" stroke="#e5381a" stroke-opacity="0.46" stroke-width="2.9" stroke-linecap="round" fill="none"/><path d="M99.8 143.2h0M97.2 138.2h0M99.4 141h0M103.6 147.8h0M98.9 146h0M100.5 138.2h0M97.6 142.7h0M99.4 144h0M97.4 148.5h0M103.3 148.3h0M98 148.1h0M100.1 159.4h0M99.2 151.7h0M100.9 117.8h0" stroke="#e5381a" stroke-opacity="0.46" stroke-width="2.9" stroke-linecap="round" fill="none"/><path d="M100.5 144.8h0M100.4 133.7h0M99.8 132.9h0M99.4 139.6h0M97 143.8h0M100.2 141.8h0M96.9 150.6h0M98.1 142.7h0M96.4 131.6h0M99.1 138.8h0M99.1 137h0M99.1 162h0M100.2 128.2h0M98.6 111.8h0" stroke="#e5381a" stroke-opacity="0.46" stroke-width="2.9" stroke-linecap="round" fill="none"/><path d="M100 135.6V118.4M100 148.3V164" stroke="#e0302a" stroke-width="1.0"/><rect x="95.9" y="135.6" width="8.2" height="12.7" fill="#fff4ea" fill-opacity="0.5" stroke="#e0302a" stroke-width="1.25"/><path d="M95.9 142.9H104.1" stroke="#e0302a" stroke-width="1.6"/><path d="M114 123.7h0M110.2 147.9h0M114.5 144.5h0M115.7 122h0M113.1 113.4h0M110.8 164.5h0M114.5 128.6h0M111.8 126.4h0M110.7 160.6h0M109.3 117h0M111 114h0M111.5 150.1h0M112.9 148.6h0M111.9 148.9h0M114 137h0M111 150.1h0M112.8 119.8h0M109.7 110.6h0M112.6 133.3h0M115.3 141.1h0M108.3 160.6h0M110.9 133.5h0M109.3 152.6h0M110.3 114.6h0M112.9 118.7h0M111.6 138.2h0M112.3 121.2h0M111.1 147.9h0M113.8 136.9h0M111.6 160.9h0M112.2 138h0M114.8 106.8h0M113.8 138.8h0M113.5 116.6h0M112.2 140.4h0M115.3 141.3h0M109.1 125.5h0M112.6 150.6h0M111.6 142.9h0M110.2 131.6h0M112.5 129.7h0M110.2 128.2h0M112.5 119h0M110.9 127.2h0M113.9 131.5h0M109.8 156.4h0M114.4 102.2h0M110.3 123.4h0M110.5 136.7h0M110.5 115.4h0M112.5 157.7h0M112.9 119.3h0M110.8 141.4h0M111.4 137.2h0M110.9 121.4h0M113 163.5h0M111.6 130.9h0M115 118h0M115.3 114.4h0M113.9 144.4h0M110.9 119.2h0M111.3 185.2h0M114.2 152.9h0M112.5 129.8h0M112.9 120.6h0M109.7 118.5h0M111.8 134.4h0M109.7 120h0M110.2 135.9h0M111 125.5h0M109.5 131.6h0M108.5 153.6h0M109.8 134.2h0M113.5 158h0M112.7 120.3h0M108.1 122h0M111.6 128.1h0M111.2 162.5h0M112 137.9h0M110.2 125.5h0M110.4 140.3h0M109.4 120.9h0M112 132.8h0M112.4 134.5h0M111 129.5h0M115.4 156.9h0M112.3 122.9h0M114.9 131.8h0M114.5 148.9h0M115.5 130.8h0M109 132.8h0M108.3 113.6h0M110.5 178.1h0M111.6 97.1h0M109 113.5h0M110.1 85.4h0M113.5 188.9h0" stroke="#e5381a" stroke-opacity="0.46" stroke-width="2.9" stroke-linecap="round" fill="none"/><path d="M112.7 122h0M112 152.4h0M110 133.5h0M112.8 137.7h0M113.7 149.3h0M109.7 144.3h0M114 116.7h0M113.3 144.2h0M114.4 104h0M113.3 141.3h0M111.9 128.6h0M108.3 138.3h0M108.4 148.2h0M114.3 118.8h0M113.7 105h0M109.7 139.1h0M108.9 128.5h0M112.4 167.4h0M111.8 143.9h0M110.4 141.4h0M109.1 149.9h0M113.1 130.2h0M112 130.6h0M115 137.6h0M110.2 131.3h0M111.1 130.5h0M109.5 104.8h0M113.4 134.9h0M113 151.1h0M109.9 143.8h0M109.1 166.3h0M115.6 111.4h0M111 142.7h0M110.8 136.9h0M114.8 126.4h0M111.3 151.8h0M111.6 119h0M112.3 113.2h0M110.4 105.5h0M113.6 121h0M114.8 119.3h0M112.4 154.6h0M113.2 100.5h0M112.7 145.5h0M109 141.5h0M112 146.7h0M111.6 115.7h0M108.9 147.8h0M113.7 124.4h0M110.5 164.3h0M109.8 118.7h0M108.7 146.3h0M114.3 145.5h0M113.9 161h0M110.7 142.4h0M109.8 121.3h0M112.5 135.9h0M110.8 119.9h0M112.4 133.9h0M108.1 129h0M113 159.6h0M111.7 136.4h0M114.6 129.7h0M113.7 157.4h0M110.9 153.3h0M113.6 147.1h0M111.6 128.3h0M111 168.6h0M110.9 158.7h0M109.2 126.3h0M112.4 156.7h0M111.6 128.5h0M109.8 155h0M112.9 107h0M113.4 119.9h0M112.1 144h0M110.5 144.1h0M115.1 140h0M115.5 136.3h0M112.2 142.1h0M110.8 122.6h0M113.5 116.1h0M110.8 131.4h0M112.1 129.7h0M112.4 131.5h0M111.3 149.4h0M110 140.4h0M110.4 107.4h0M113.6 120.2h0M111.4 126.1h0M114.3 147h0M111.2 167h0M110.4 170.3h0M109.8 137h0M111.8 131.2h0M111.5 82.4h0M111.4 193.2h0" stroke="#e5381a" stroke-opacity="0.46" stroke-width="2.9" stroke-linecap="round" fill="none"/><path d="M114.7 164.8h0M108 161.9h0M110.7 138.1h0M110.3 99.7h0M112.7 126.9h0M110.9 172.8h0M109.7 112h0M113.7 156.9h0M111.4 108.7h0M112.4 155.5h0M115.7 120.5h0M107.7 135.3h0M113.4 137.5h0M114.3 128.9h0M108.8 112.7h0M112.7 151.7h0M111.4 169.2h0M111.6 130.6h0M112.3 148h0M112.1 135.4h0M108.4 141.4h0M111.3 99.1h0M113.7 131.1h0M109.3 130.6h0M110.2 122.7h0M111.2 135h0M113.9 104.8h0M113.8 102.3h0M112 126.7h0M111.3 140.1h0M110.3 144.4h0M113.8 165.7h0M114.4 124.3h0M113.4 167.4h0M108.9 113.2h0M114.9 129.5h0M112.1 164.8h0M113.9 119.7h0M112.1 162.5h0M110.1 98.5h0M111.3 139h0M111.6 146.4h0M113 135h0M114.2 122.1h0M112.5 142.1h0M112.8 118.4h0M111.5 126h0M110.9 112.9h0M112.2 142h0M109.5 170.5h0M110.1 162.6h0M110.3 124.2h0M114.8 128.6h0M111.3 133.8h0M114.2 109.2h0M114.1 157.7h0M110.7 141.4h0M111.3 113h0M111.3 129.7h0M114.1 124h0M112.8 134.6h0M111.6 127.3h0M110.5 140.1h0M114.6 136.5h0M110.4 128.4h0M110.2 162.3h0M114.7 143.9h0M114.5 149.3h0M108.5 127.7h0M112.1 156h0M111.4 110.9h0M110.3 113.7h0M112.6 128.2h0M111 159.9h0M112.9 139.8h0M110.9 174.3h0M107.5 153.5h0M112.8 124h0M113.2 157.9h0M110.5 123.2h0M111 142.7h0M111.7 126.1h0M111 92.8h0M110.6 156.1h0M110.9 114.2h0M110.1 133.2h0M111.8 132.1h0M112.6 131.1h0M114 132h0M112.5 134.3h0M114 163.1h0M111 131.7h0M114.5 131.2h0M115.2 150.8h0M112.3 72.4h0M112 78.2h0M114.1 193.4h0" stroke="#e5381a" stroke-opacity="0.46" stroke-width="2.9" stroke-linecap="round" fill="none"/><path d="M112 155.8h0M108 131.9h0M114.4 147.3h0M112 103.9h0M111.5 132.9h0M110.1 94.8h0M113.4 116.4h0M113.7 156.1h0M114.4 141.2h0M114.1 128h0M110.1 125.4h0M112.4 112.4h0M110.4 110.2h0M112.8 134.9h0M110.6 133h0M113.7 125.1h0M111.9 131h0M115.1 135.4h0M112.3 79h0M113.6 154.4h0M111 119.4h0M111.7 146h0M113.6 143.1h0M114.9 93.7h0M109 130.9h0M110.5 141.8h0M113.7 112.1h0M111.3 154.9h0M114.5 143h0M111.9 157.1h0M112.3 125h0M113.5 160.4h0M111.7 183.5h0M111.8 125.4h0M112.6 131.3h0M113.1 139.8h0M114.5 124.3h0M108.3 147.9h0M112 169.8h0M114.3 140.6h0M113.2 113.7h0M108.8 164h0M113 138.5h0M110.9 124.3h0M115.4 104h0M108.6 157.6h0M111.4 130.1h0M112.7 143.5h0M111.5 178h0M111.6 128.6h0M114.7 143h0M109.6 122h0M113.2 171.8h0M110.5 144.4h0M109.3 179.1h0M114.6 132.3h0M114 97.1h0M110.1 103.3h0M113.2 192.8h0M111.7 106h0M113.8 101.7h0M110.8 139.9h0M112.8 139.9h0M115.2 125.8h0M112.4 100h0M111.4 124.4h0M111.3 125.8h0M114 109.2h0M108.7 120.6h0M109.9 124.6h0M113.8 114.2h0M110.9 178.4h0M109.4 155.6h0M113.6 148.7h0M111.5 141.4h0M112.5 97.3h0M112.3 140.4h0M107.6 143.6h0M113.3 167.8h0M113.4 140.5h0M110.5 141.6h0M109.2 120.7h0M110.8 133.6h0M110.1 172.7h0M113.9 105.3h0M110.9 174.5h0M112.9 148.3h0M112.8 127.6h0M112 152.7h0M113.9 141.3h0M110.5 147.1h0M109 177.3h0M114.6 132.5h0M112.4 105.2h0M114 78.6h0M111.4 84.8h0M110.4 187.5h0" stroke="#e5381a" stroke-opacity="0.46" stroke-width="2.9" stroke-linecap="round" fill="none"/><path d="M112.3 156.4h0M111 124.3h0M113.4 119.8h0M107.5 141.5h0M112.3 147.5h0M113.3 108h0M111 118h0M108.6 126.5h0M109.5 142.9h0M110.1 174.3h0M114.1 121.4h0M109.4 106.1h0M110.3 128.2h0M108.8 132.1h0M111.8 118.8h0M113.2 133.6h0M110.7 151.1h0M115.1 171h0M114.1 169.2h0M113.6 124.6h0M114.7 125.6h0M112 125.9h0M110.9 124.2h0M112 155.5h0M110.9 121h0M112.5 134.3h0M112.9 152.8h0M112.8 119.5h0M112.2 116h0M110.5 155.8h0M111.1 157.5h0M110.2 127.4h0M114.2 177.1h0M114.5 121.8h0M111.5 124.8h0M111.4 138.6h0M114.2 145.4h0M113.2 156.2h0M109.5 138.9h0M109.9 144.5h0M112.2 133.4h0M113.7 168h0M107.7 155.6h0M112.7 170.6h0M113.7 107.6h0M114.6 148h0M109.8 142.1h0M109.7 151h0M111.8 124.5h0M114.3 126.6h0M113.2 149.3h0M109.5 167.4h0M112.3 121.6h0M110.3 124.2h0M112.4 153.8h0M115.2 151.8h0M111.2 133.7h0M110.7 152.3h0M108.4 103.3h0M113 168.5h0M113.7 111.4h0M111.9 135.2h0M111.7 135.6h0M112.3 143h0M113.2 107.2h0M113.3 129.7h0M111.7 119.6h0M112.4 103.8h0M111.1 162.9h0M109.2 163.3h0M113 146.6h0M112.2 116.8h0M114.8 152.9h0M112.1 140.1h0M112.7 133.3h0M111.8 117.6h0M110.3 138.2h0M111.4 133.5h0M111.9 126.8h0M112.5 163.4h0M111.2 119.2h0M109.3 118.9h0M112 138.5h0M113.7 128.8h0M110.4 127.6h0M112.6 132.6h0M112.3 143h0M113.8 153.1h0M113.5 116.3h0M110.5 125.9h0M112 143.6h0M109.5 154.4h0M110.4 136.1h0M108.9 123.4h0M108.8 76.4h0M111.7 193.1h0M111.6 190.5h0" stroke="#e5381a" stroke-opacity="0.46" stroke-width="2.9" stroke-linecap="round" fill="none"/><path d="M110.1 163h0M114.7 159.4h0M110.4 119.2h0M110.9 136h0M110.7 138.2h0M109.6 112.7h0M110.9 151.6h0M110.4 115.8h0M112.1 135.2h0M111.4 131.4h0M111.3 131.4h0M111.5 126.7h0M112.9 135h0M113.8 105.1h0M109.2 136.3h0M110.6 124.2h0M112.2 132.1h0M111.8 122.8h0M113.4 152.1h0M111.9 143.4h0M114.1 140.5h0M111.2 121.5h0M111.2 116.3h0M112.9 130.1h0M110.7 112h0M113.3 156.1h0M111.8 107.9h0M114 129.1h0M112.1 113h0M113.2 132.4h0M112.9 152h0M112.5 157.2h0M111.5 157.9h0M112.6 138.7h0M115 134.8h0M112.6 118h0M112.2 149.7h0M114.4 133.6h0M114.6 133.7h0M111.5 168.4h0M111.6 108h0M111.9 129.3h0M112.1 117h0M111.6 121.2h0M112 102.7h0M112.9 169.3h0M112 141.7h0M115.4 111.7h0M114 160.3h0M111.5 132h0M109.4 141.3h0M112.8 156.8h0M110.1 121.2h0M111.7 135.5h0M112.9 125.5h0M113.2 142.5h0M110.1 152.9h0M112.8 115.8h0M108.4 168.9h0M109.6 133.1h0M112.5 124.7h0M110.7 81.2h0M114 120.6h0M112.5 114.2h0M110.4 135h0M111.7 125.1h0M114.9 135h0M111.2 129.6h0M112.1 124.3h0M112.6 108.4h0M110.3 96.2h0M108.4 135.1h0M109.9 142.7h0M112.1 133.8h0M108.8 119.8h0M111 129.4h0M111.8 146.1h0M112.1 174.5h0M110.4 149.8h0M111.2 135.6h0M114.4 114h0M111.6 127h0M110.7 141h0M111.4 165.4h0M111.5 144.7h0M110.5 134.1h0M112.3 168.7h0M110.7 109.4h0M110.8 133.6h0M109.9 141.8h0M111.2 133.6h0M112 143.8h0M115.2 149.6h0M110.4 141.1h0M108.7 75.6h0M114.5 188.3h0M113.5 191.8h0" stroke="#e5381a" stroke-opacity="0.46" stroke-width="2.9" stroke-linecap="round" fill="none"/><path d="M111.7 122.4V85.6M111.7 147.1V186.3" stroke="#e0302a" stroke-width="1.0"/><rect x="107.6" y="122.4" width="8.2" height="24.7" fill="#fff4ea" fill-opacity="0.5" stroke="#e0302a" stroke-width="1.25"/><path d="M107.6 133.9H115.8" stroke="#e0302a" stroke-width="1.6"/><path d="M123.1 147.6h0M124.1 137.3h0M124.7 164.4h0M124.2 174.9h0M124 178.6h0M122.6 147.7h0M121 197.8h0M123.3 187.5h0M121.6 166.1h0M123 167.1h0M124.3 137.2h0M124.1 167.6h0M123.2 144.2h0M121.3 199.6h0M120.4 165.4h0M124.9 148h0M123.8 180h0M122.7 137h0M122.5 182.9h0M124.3 140.1h0M120.9 188.9h0M125.4 166.9h0M126.1 148.4h0M123.5 206.9h0M121.4 176.5h0M122.7 156.5h0M122.7 140.2h0M125.3 145.6h0M120.2 181.4h0M122.1 197.1h0M124.4 194.7h0M119.9 160.4h0M123.6 149.1h0M124.3 165.8h0M125.1 158.5h0M124.6 184.6h0M121.5 147.7h0M123.3 165.1h0M120.5 168h0M124.2 177.2h0M121.2 145h0M124.2 201.4h0M124.1 203.7h0M123 180.5h0M125.6 145.5h0M124.4 183.3h0M123.4 174.8h0M123.7 197.8h0M122.5 169.1h0M122.5 168.3h0M125 183.6h0M124.7 85.4h0" stroke="#e5381a" stroke-opacity="0.46" stroke-width="2.9" stroke-linecap="round" fill="none"/><path d="M126.5 162.7h0M125 167.3h0M121.2 176.5h0M123.9 194.2h0M121 161.8h0M124.7 151.3h0M120.2 171.5h0M123.4 178.8h0M122.5 200.9h0M124.5 138.3h0M121.1 158.7h0M125.9 190.3h0M125.5 185.3h0M122.2 177.6h0M123.4 136.3h0M125.5 205.2h0M125.6 194.1h0M120 198.5h0M121 171.4h0M124.4 163.6h0M121.5 146.8h0M123.9 153.2h0M121.4 151.6h0M125.8 161.6h0M124.6 206.4h0M123.5 132.8h0M120.3 140.6h0M122.8 170.8h0M126 169h0M123.3 183.4h0M124.5 176.4h0M124.4 160.7h0M124.4 153.4h0M126.3 190.6h0M125.4 203.1h0M125 175.5h0M124.4 143h0M125.3 175.9h0M122.5 155.3h0M123.5 160.1h0M120.5 135.5h0M123.8 145.8h0M122 175.8h0M123.7 170h0M120.4 174.2h0M120.8 168.4h0M123.5 206.7h0M125.7 164.3h0M125.2 132h0M122.6 199.8h0M121.8 177.6h0M123.6 84.1h0" stroke="#e5381a" stroke-opacity="0.46" stroke-width="2.9" stroke-linecap="round" fill="none"/><path d="M123.6 194.6h0M124.2 162h0M122.9 177h0M124.8 170.5h0M123.2 164.8h0M121.8 152.5h0M125.5 179.1h0M125.5 176.2h0M122.6 181.3h0M126.5 173.3h0M122.1 155.7h0M123.6 188.5h0M120.2 165.1h0M121.2 121.9h0M124.2 199.9h0M121.2 189.5h0M125.3 152.1h0M123.1 182.9h0M124.6 180.7h0M123 166.9h0M119.5 138.1h0M124.7 174.4h0M122.9 201.3h0M123.8 179.2h0M125.7 161h0M124.8 190.9h0M124.6 170.3h0M126.1 187.7h0M122.1 152.2h0M126.3 200.9h0M125 153.7h0M123.7 150.7h0M122 194.7h0M125.9 196.4h0M122.9 170.3h0M123 151.6h0M121.6 162.9h0M120.7 207.1h0M124 172.7h0M124.5 151.3h0M122.9 192.2h0M125.2 150.9h0M124.6 172.6h0M124.4 173.3h0M124.7 146.9h0M120.8 174.2h0M122.6 141.4h0M126.1 165.4h0M122.1 157.1h0M121.8 189.8h0M123.3 140.6h0M123.8 95.3h0" stroke="#e5381a" stroke-opacity="0.46" stroke-width="2.9" stroke-linecap="round" fill="none"/><path d="M124.7 184h0M125.8 194.6h0M121 163.6h0M126.7 140.2h0M123.2 189.3h0M123.2 178h0M124.4 186.8h0M120.7 187.5h0M125.4 177.8h0M121.1 173.4h0M123.1 186.9h0M120.9 159.6h0M123.4 204.4h0M123.1 184.5h0M124.7 207.6h0M121.2 173.2h0M122.9 150.7h0M125.5 186h0M122.6 156.6h0M123.5 170.5h0M125 146.6h0M120.8 177.2h0M124 164.3h0M123.8 164.4h0M124.6 167h0M125.9 157.5h0M127.2 154.2h0M120.7 180.9h0M127.1 163.4h0M122.9 197.5h0M119.9 178.4h0M123 193.9h0M125.2 142.8h0M126.6 177.3h0M126.1 170.1h0M123.9 181.6h0M123.1 183.2h0M126 156.2h0M123.7 154h0M121 141.2h0M122.3 178.9h0M123.6 160h0M121.2 151.8h0M124 155.1h0M125.7 168.3h0M126.7 165.8h0M123.1 160.9h0M122.1 186.8h0M121.7 200.8h0M126.6 143.2h0M124.9 198.2h0" stroke="#e5381a" stroke-opacity="0.46" stroke-width="2.9" stroke-linecap="round" fill="none"/><path d="M122.1 165.1h0M124.1 191.7h0M123.6 165.5h0M123.8 183.3h0M122.4 175.6h0M122.8 178.8h0M121.5 198.6h0M119.5 141.1h0M122.8 177.4h0M122.7 179.3h0M124.7 173.7h0M126.1 163.7h0M125.1 153.1h0M123.3 199.8h0M125.3 162.3h0M123 153h0M121.8 114.9h0M121.4 181h0M120.3 172.1h0M127.2 168.7h0M122.5 181.6h0M123.5 139.1h0M122 183.2h0M121.8 195h0M126.3 192h0M123.2 127h0M125.5 148.7h0M120.1 170.9h0M121.3 123.4h0M127.4 158.9h0M122.2 178.5h0M120.2 165.6h0M123.8 197.6h0M125.3 170.6h0M125.6 163.7h0M121.9 140h0M124.2 156.8h0M121.4 162.8h0M124.9 154.6h0M124.7 171.7h0M125.2 195h0M121.4 186.2h0M121.5 164.2h0M123.5 174.4h0M125.5 152.5h0M123.6 176h0M123.3 131.5h0M123 178.1h0M121.2 150h0M123.5 183.4h0M125.6 77.5h0" stroke="#e5381a" stroke-opacity="0.46" stroke-width="2.9" stroke-linecap="round" fill="none"/><path d="M122 193h0M122.5 188.9h0M120.7 139.8h0M125.8 169.1h0M123.4 150.9h0M122.9 151.1h0M123.9 158.3h0M124.3 181.8h0M121.2 183.9h0M122.8 118.5h0M126.3 165.8h0M120 168.2h0M123.5 196.4h0M121.3 160.6h0M125.9 162.8h0M123.2 160.3h0M126.6 174.3h0M126.5 190.7h0M124.8 170.1h0M123.5 158.4h0M125 207.5h0M125 185.8h0M123.5 192.4h0M123.6 177.6h0M121.2 172.5h0M120.2 168.6h0M124.6 145.5h0M122.1 161.7h0M123.3 126.2h0M124.4 193.4h0M122.9 151.3h0M120.5 185h0M123.1 146.2h0M120.8 186.8h0M124 199.9h0M123.1 140.7h0M126.9 150.3h0M123.6 200.9h0M123.3 205h0M124.7 155.4h0M126.3 153.3h0M122.5 154.7h0M123.7 164.4h0M121.3 148.9h0M126.3 139.5h0M124.2 188.8h0M122.4 190.9h0M125.2 164.9h0M121.8 201.9h0M122.5 185.5h0M123.4 78.6h0" stroke="#e5381a" stroke-opacity="0.46" stroke-width="2.9" stroke-linecap="round" fill="none"/><path d="M123.5 155.4V110.8M123.5 185.5V207.3" stroke="#e0302a" stroke-width="1.0"/><rect x="119.4" y="155.4" width="8.2" height="30.1" fill="#fff4ea" fill-opacity="0.5" stroke="#e0302a" stroke-width="1.25"/><path d="M119.4 169.4H127.6" stroke="#e0302a" stroke-width="1.6"/><path d="M136.5 140.2h0M134.5 150.4h0M136.2 161h0M132.9 123.9h0M138.9 102.5h0M136.3 171.9h0" stroke="#e5381a" stroke-opacity="0.46" stroke-width="2.9" stroke-linecap="round" fill="none"/><path d="M134.8 163.6h0M133.7 160.1h0M131.9 180h0M135.6 169.6h0M131.5 117.7h0M133.2 179.3h0" stroke="#e5381a" stroke-opacity="0.46" stroke-width="2.9" stroke-linecap="round" fill="none"/><path d="M135.2 146.3h0M135.5 122.2h0M137.1 123.4h0M133.7 147.7h0M137.3 144.6h0M134 111.9h0" stroke="#e5381a" stroke-opacity="0.46" stroke-width="2.9" stroke-linecap="round" fill="none"/><path d="M135.4 127.2h0M133.5 136.2h0M135 142.1h0M135.2 167.6h0M135.5 152.2h0M133.6 140.4h0" stroke="#e5381a" stroke-opacity="0.46" stroke-width="2.9" stroke-linecap="round" fill="none"/><path d="M135 126.5h0M135.6 153h0M132.8 158.8h0M135.9 176.5h0M137.2 141.8h0M133.1 116.7h0" stroke="#e5381a" stroke-opacity="0.46" stroke-width="2.9" stroke-linecap="round" fill="none"/><path d="M134.8 137.3h0M132 184.3h0M138.7 150.4h0M134.3 142.3h0M134.1 127h0M136.3 141.1h0" stroke="#e5381a" stroke-opacity="0.46" stroke-width="2.9" stroke-linecap="round" fill="none"/><path d="M135.2 133.1V102M135.2 157.9V184.6" stroke="#e0302a" stroke-width="1.0"/><rect x="131.1" y="133.1" width="8.2" height="24.7" fill="#fff4ea" fill-opacity="0.5" stroke="#e0302a" stroke-width="1.25"/><path d="M131.1 145.4H139.3" stroke="#e0302a" stroke-width="1.6"/><path d="M144.3 130.8h0M146.1 133h0" stroke="#4462bd" stroke-opacity="0.46" stroke-width="2.9" stroke-linecap="round" fill="none"/><path d="M147.5 120h0M146.3 123.7h0" stroke="#4462bd" stroke-opacity="0.46" stroke-width="2.9" stroke-linecap="round" fill="none"/><path d="M144 122.5h0M145.1 147.4h0" stroke="#4462bd" stroke-opacity="0.46" stroke-width="2.9" stroke-linecap="round" fill="none"/><path d="M149.3 151.1h0" stroke="#4462bd" stroke-opacity="0.46" stroke-width="2.9" stroke-linecap="round" fill="none"/><path d="M144.3 124.7h0" stroke="#4462bd" stroke-opacity="0.46" stroke-width="2.9" stroke-linecap="round" fill="none"/><path d="M146.5 126.7h0" stroke="#4462bd" stroke-opacity="0.46" stroke-width="2.9" stroke-linecap="round" fill="none"/><path d="M147 129.7V119.4M147 148.6V158.6" stroke="#2d53a8" stroke-width="1.0"/><rect x="142.9" y="129.7" width="8.2" height="18.9" fill="#ffffff" fill-opacity="0.5" stroke="#2d53a8" stroke-width="1.25"/><path d="M142.9 141.7H151.1" stroke="#2d53a8" stroke-width="1.6"/><path d="M158.8 181.6h0M161.4 187h0M158.8 174.5h0M160.1 152.3h0M162 153.1h0M160.5 140.5h0M157.6 156.1h0M161.9 155.1h0M162.5 174.2h0M159.6 184.5h0M157.3 176.2h0M160.4 174.7h0M157.4 165.9h0M157.6 189.8h0M156.5 162.2h0M157.6 171.4h0M158.2 174.6h0M158 177.6h0M159.1 154.2h0M162.4 193.5h0M159.9 151.4h0M159.4 170.1h0M154.7 181.5h0M160.9 178.7h0M159.4 177.6h0M158.7 177.6h0M157.9 175.5h0M158.6 144.5h0M158.9 163.6h0M157.1 132.9h0M154.5 161.5h0M160.2 145.2h0M159.4 157.2h0M159.2 151.6h0M160 162.2h0M160.9 169.4h0M161.8 183.8h0M159.7 160.9h0M155.4 190.5h0M159.1 155h0M159.5 170.5h0M160.3 176h0M158.8 165.7h0M158.3 155.9h0M160.2 176h0M157 170.8h0M159 154.4h0M156.6 168.6h0M161.1 151.8h0M159.8 192.8h0M159.6 158.7h0M160.5 156.9h0M158.4 158.6h0M159.4 148.2h0M162.8 177.6h0M159 145.1h0M161.4 189.3h0M158.7 178.4h0M157.2 162.3h0M157.4 155.8h0M155.9 185.1h0M156.5 178.3h0M160.1 181.3h0M163.1 168.2h0M154.6 190.5h0M161.7 161.4h0M156.2 178.3h0M155.6 206.4h0M157 150.8h0M161 163.2h0M157.2 177.1h0M159.3 154.1h0M157.1 137.4h0M158.4 179.3h0M157.8 180.6h0M162.5 169.8h0M157.1 190.7h0M158 108.8h0M160.7 213.6h0" stroke="#e5381a" stroke-opacity="0.46" stroke-width="2.9" stroke-linecap="round" fill="none"/><path d="M158 157.9h0M159.3 146.5h0M159.1 149.5h0M158.1 161.1h0M162.2 164.3h0M156 174h0M159.1 163h0M157.9 145.1h0M160.4 153.7h0M156.4 159.7h0M155.3 137.5h0M158.9 180.7h0M159.1 176.9h0M162 163.4h0M160.4 174.3h0M160.4 162.7h0M158.1 176.1h0M157.3 162.8h0M159.1 166.6h0M159.6 158.5h0M159.4 141.3h0M159.2 171.6h0M158.9 165.7h0M158.1 167.3h0M160.6 166.9h0M158.2 164.1h0M156.1 173.1h0M160.6 152h0M158.2 127.1h0M159.8 158.8h0M157.8 157.8h0M159.4 173.3h0M157.7 166.9h0M157 155.4h0M156.6 164.1h0M159.8 168.4h0M160.6 118.1h0M159.4 165.2h0M158.5 171.8h0M160.5 164.4h0M160.4 157.3h0M156.6 155.6h0M157.4 166.3h0M160.6 150.9h0M157.3 150.2h0M159.5 170.2h0M157.5 174.2h0M159.7 149.7h0M160 158h0M159.8 169.4h0M160.5 152.8h0M160 145.2h0M159.5 157.9h0M156.5 166.8h0M156.7 172.5h0M159.7 144.2h0M159.7 189.5h0M159.4 204.1h0M158.7 168.9h0M157 136.4h0M155.2 192.8h0M159.4 185.3h0M160 167.3h0M159.6 152.2h0M157.9 161h0M159.9 161.2h0M154.6 169.4h0M159.2 165.5h0M159.2 166.6h0M160.8 163.8h0M159.2 179h0M161.3 165.2h0M158.4 173h0M158.1 150.6h0M156.5 148.8h0M161.1 180.4h0M160.7 106.2h0M156 93.1h0M159.7 210.8h0" stroke="#e5381a" stroke-opacity="0.46" stroke-width="2.9" stroke-linecap="round" fill="none"/><path d="M158.9 148.1h0M160.8 147.9h0M160.8 146.7h0M155.6 149h0M159.4 185.4h0M157.1 151.7h0M158.1 154.2h0M157.7 162.2h0M158.8 147.2h0M161.4 145.8h0M158.2 165.4h0M156.5 165.7h0M154.7 189.2h0M158.3 132.4h0M160.8 165.2h0M158.1 147.6h0M162.2 171.7h0M158.4 147.4h0M157.4 165.5h0M160.8 169.3h0M158.1 187.9h0M160 170.7h0M159.2 132h0M161.3 174.4h0M158.5 163.5h0M161.8 182.9h0M159.2 167.5h0M158.1 163.2h0M158.8 150.7h0M156 149.6h0M157.5 175.7h0M158.2 164.9h0M161.2 175.2h0M160.6 162.8h0M158.5 175.1h0M159.4 151.3h0M158.5 169.8h0M161.1 155.4h0M158.3 141.5h0M161.7 173.6h0M161 184.2h0M158.1 193.9h0M159.8 175.5h0M158.8 148.3h0M160.4 154.4h0M160.3 152.2h0M159.1 181.1h0M158 165.5h0M158.7 161.3h0M159.6 155.7h0M157.8 144.6h0M155.5 202h0M160.1 152.5h0M158.3 164.4h0M161.4 179.7h0M155.6 180.3h0M160 158.3h0M155.7 165.2h0M159.6 176.3h0M155.8 167.4h0M160.8 162.8h0M159 187.7h0M156.3 184.6h0M158.2 183.9h0M156.3 176.3h0M160.1 175.2h0M160 154.8h0M158.2 166.8h0M160.3 156.3h0M157.6 162.8h0M160.7 160.2h0M158.5 167.4h0M158.7 151.7h0M159 171h0M158.4 162.5h0M160.9 163.3h0M155.4 99.2h0M160.4 212.7h0M156.7 212.3h0" stroke="#e5381a" stroke-opacity="0.46" stroke-width="2.9" stroke-linecap="round" fill="none"/><path d="M157.4 141.3h0M156.3 153h0M158.9 184h0M157.9 150.2h0M159.9 154.8h0M156.2 158.4h0M159.2 164.8h0M155.7 150.5h0M154.8 166.2h0M159.6 173.4h0M159 164.8h0M161.4 179.1h0M157.4 141h0M156.9 202.5h0M161.9 181.8h0M158.7 136.4h0M161.8 175.8h0M157.4 174h0M157.3 138h0M155.7 137.5h0M156.2 142.4h0M159.6 206.1h0M157.7 159.3h0M160 168.8h0M155.6 171.8h0M161.5 158.8h0M160.7 163.1h0M155.3 151.3h0M158.4 150.1h0M158.6 147h0M158.7 127.6h0M160.1 178.5h0M160 169.9h0M156.8 185.6h0M154.9 179.3h0M162 158.9h0M161.6 162.6h0M162 162.4h0M156.5 172.1h0M158.2 145.9h0M157.7 153.8h0M160.3 172.1h0M158.6 172.5h0M159.3 196.2h0M157.8 166.6h0M158 158.3h0M156.5 165h0M157.6 151.2h0M159.7 161h0M159.4 179.4h0M161.3 157.8h0M159.3 159.7h0M157.9 159.5h0M156.1 185.8h0M159.3 169.1h0M156.4 158.2h0M156.4 170.6h0M158.3 163.1h0M156.2 193.4h0M161.1 195.7h0M158.8 155h0M161.3 163h0M157.3 159.7h0M158.7 176.2h0M159.9 160.7h0M159.2 168.7h0M155.8 159.8h0M159.1 187.7h0M161.2 152.3h0M159.3 162h0M161.8 175.1h0M158.6 158.7h0M158.5 139.8h0M155.8 184.2h0M158.1 127.5h0M155.6 164.5h0M157.6 110.1h0M157.7 213.7h0" stroke="#e5381a" stroke-opacity="0.46" stroke-width="2.9" stroke-linecap="round" fill="none"/><path d="M160.4 147.9h0M161.3 153.5h0M162 151.9h0M156.5 152.2h0M161.4 189.7h0M159.7 155.6h0M160.5 149.1h0M160.5 161.6h0M159.8 153.4h0M157 196.6h0M157.7 175.9h0M158.9 145.9h0M158.8 202.1h0M158.6 189h0M158.5 163h0M156.4 175h0M160.3 195.4h0M160.6 167.6h0M158.7 170.5h0M158.1 170.5h0M157.8 164.5h0M159.4 157.4h0M157.9 171.5h0M157.3 154.3h0M158.1 165.2h0M155.2 168.1h0M156.1 168.3h0M158.3 160.1h0M162.3 171.6h0M158.9 155.7h0M156.9 160.5h0M157.8 164.5h0M158.7 166.8h0M159.1 157.5h0M159.6 176.9h0M161.8 150h0M155.9 150.9h0M162.4 174h0M160.2 156.3h0M159.9 169.4h0M157.7 154.1h0M162 163.4h0M161.4 160.6h0M162 173.9h0M156.5 163.2h0M159.9 145.1h0M160 151.3h0M158.8 134.3h0M159 163.9h0M156.5 166.6h0M155.4 177.2h0M157.3 196.5h0M162.4 176h0M158.7 148.7h0M161.2 147.1h0M158.4 144h0M159.3 182h0M161.5 156h0M158.8 172.4h0M157.3 153.4h0M158.4 184.3h0M158 171.3h0M157.9 191.1h0M154.7 169h0M158.1 156h0M159.6 193.7h0M162.2 158.5h0M156.9 157.5h0M159 139.8h0M161.1 173.7h0M158.6 169.4h0M160.3 162.2h0M158.2 175.9h0M159.4 146.9h0M160 141.4h0M159.5 155h0M156.5 117.3h0M157.8 214.1h0" stroke="#e5381a" stroke-opacity="0.46" stroke-width="2.9" stroke-linecap="round" fill="none"/><path d="M162.5 156.2h0M160.6 164.1h0M156.5 161.6h0M156.6 190h0M157.9 152.1h0M155.3 189.3h0M158.9 160.9h0M155.7 157.3h0M160.9 158.6h0M158.7 161.8h0M157.6 161.2h0M158.3 185.4h0M159.9 143.9h0M158.6 146h0M157.7 143.4h0M157.1 160.4h0M157.5 200h0M159.4 155.3h0M160.8 173.3h0M158.4 153.1h0M159.8 166.4h0M157.8 163.8h0M158.4 140.4h0M157.3 156.5h0M159.6 177.4h0M158.4 180.9h0M158 180h0M159.5 169.2h0M162.2 156.3h0M159.8 142.6h0M157.4 163.2h0M158.2 171.5h0M158.8 173.7h0M158.1 187.2h0M156.6 136h0M157.4 186.3h0M158 185.6h0M157.5 179.9h0M156.2 168.4h0M158.2 188.2h0M157.4 135.2h0M157.5 159.1h0M160.4 157h0M158.4 167.6h0M158.4 147.2h0M156.9 159.7h0M157.1 163.8h0M158.3 154.8h0M159.4 149.8h0M158.4 176.8h0M159.2 161.3h0M159 154.9h0M156.1 160h0M156.6 173.5h0M159.8 153.8h0M157.3 133h0M155.3 159.6h0M157.4 151.8h0M159.7 151h0M161.3 150.5h0M158.6 170.7h0M158.2 176.5h0M159.1 163.7h0M156.2 135.9h0M161.9 163.1h0M157 171.2h0M158.1 149.8h0M161.6 149.2h0M161.4 148.1h0M156.8 154.4h0M160.7 201.1h0M161.3 177.3h0M159.4 163.9h0M155.2 152.4h0M161.9 174.8h0M156.9 164h0M159.1 100.9h0M161.9 213.4h0" stroke="#e5381a" stroke-opacity="0.46" stroke-width="2.9" stroke-linecap="round" fill="none"/><path d="M158.7 155.4V121.9M158.7 177.5V206.1" stroke="#e0302a" stroke-width="1.0"/><rect x="154.6" y="155.4" width="8.2" height="22" fill="#fff4ea" fill-opacity="0.5" stroke="#e0302a" stroke-width="1.25"/><path d="M154.6 165.2H162.8" stroke="#e0302a" stroke-width="1.6"/><path d="M167.3 159.9h0M169.1 164.8h0M171.9 146.7h0M168.5 158.7h0M169.7 160.9h0M170.5 163.5h0M170.6 148.4h0" stroke="#4462bd" stroke-opacity="0.46" stroke-width="2.9" stroke-linecap="round" fill="none"/><path d="M169.9 125h0M171 143.9h0M170.4 162.8h0M170.1 152.1h0M171 147.9h0M170.3 135.8h0M167.5 146.8h0" stroke="#4462bd" stroke-opacity="0.46" stroke-width="2.9" stroke-linecap="round" fill="none"/><path d="M170.1 134.6h0M174.3 149.3h0M170.2 163.4h0M171.6 132.9h0M174.2 141.2h0M169.4 158.4h0M169.4 159.7h0" stroke="#4462bd" stroke-opacity="0.46" stroke-width="2.9" stroke-linecap="round" fill="none"/><path d="M172.5 158.6h0M169.8 156.2h0M168.7 158.1h0M170.5 144.2h0M170.4 147.9h0M168.6 144h0M172.6 139h0" stroke="#4462bd" stroke-opacity="0.46" stroke-width="2.9" stroke-linecap="round" fill="none"/><path d="M171 155.3h0M173.3 149.3h0M172.7 171.2h0M170.7 152.7h0M174 169.9h0M169.5 160.9h0M169 131.6h0" stroke="#4462bd" stroke-opacity="0.46" stroke-width="2.9" stroke-linecap="round" fill="none"/><path d="M170.6 131.3h0M168 161.5h0M168.5 132h0M167.5 139.3h0M169.2 155.1h0M171.6 162.4h0" stroke="#4462bd" stroke-opacity="0.46" stroke-width="2.9" stroke-linecap="round" fill="none"/><path d="M170.5 138.5V125.5M170.5 158.4V178.7" stroke="#2d53a8" stroke-width="1.0"/><rect x="166.4" y="138.5" width="8.2" height="19.8" fill="#ffffff" fill-opacity="0.5" stroke="#2d53a8" stroke-width="1.25"/><path d="M166.4 152H174.6" stroke="#2d53a8" stroke-width="1.6"/><path d="M182.6 185.1h0M181.5 182.6h0M182 176.9h0M183.6 191.9h0M180.5 211.7h0M183.5 168.8h0M182.4 193.8h0M184.2 176.4h0" stroke="#e5381a" stroke-opacity="0.46" stroke-width="2.9" stroke-linecap="round" fill="none"/><path d="M183.5 184.7h0M181.8 161.4h0M177.9 198.1h0M178.8 193.1h0M183 173.6h0M185 176.4h0M183.6 181.3h0M181.5 173.3h0" stroke="#e5381a" stroke-opacity="0.46" stroke-width="2.9" stroke-linecap="round" fill="none"/><path d="M181.6 170.8h0M182.8 173.8h0M181.9 174.4h0M180.7 207h0M183 204h0M184.6 171.3h0M182.7 181.1h0M181.8 176.7h0" stroke="#e5381a" stroke-opacity="0.46" stroke-width="2.9" stroke-linecap="round" fill="none"/><path d="M181.2 205.7h0M181.9 171.7h0M183.7 166.8h0M183.1 175.7h0M185.7 169.2h0M179.9 159h0M179.6 176.1h0M182.4 170.8h0" stroke="#e5381a" stroke-opacity="0.46" stroke-width="2.9" stroke-linecap="round" fill="none"/><path d="M183.3 202.3h0M181 159.8h0M182.3 163.5h0M184.6 163.6h0M182.3 169.2h0M180.6 166.1h0M180.9 189.4h0M182 202.5h0" stroke="#e5381a" stroke-opacity="0.46" stroke-width="2.9" stroke-linecap="round" fill="none"/><path d="M181.9 175.5h0M182.6 187.3h0M184.5 177.3h0M179.7 163.2h0M180.2 175.2h0M183.2 190.6h0M183.5 170.4h0M182.6 161.3h0" stroke="#e5381a" stroke-opacity="0.46" stroke-width="2.9" stroke-linecap="round" fill="none"/><path d="M182.2 170.8V141.2M182.2 192.4V212.2" stroke="#e0302a" stroke-width="1.0"/><rect x="178.1" y="170.8" width="8.2" height="21.6" fill="#fff4ea" fill-opacity="0.5" stroke="#e0302a" stroke-width="1.25"/><path d="M178.1 177.5H186.3" stroke="#e0302a" stroke-width="1.6"/><path d="M195.7 193.2h0M194.6 133.3h0M193.3 118.8h0M193.7 133.2h0M195.4 171.3h0M193.2 142h0M190.9 121.8h0M194.5 119.4h0M191.5 156.8h0M194.3 150.8h0M196 156.3h0M193 144.8h0M192.9 136.1h0M194.3 143.2h0M196.2 147.3h0M192.5 179.9h0M192.1 167.9h0M193.5 115h0M197.3 171.3h0M194.7 132h0M191.8 139.3h0M193.5 144.4h0M195.9 138.7h0M193.9 179.6h0M194.9 115h0M190.8 157.7h0M194.3 135h0M191.8 130.5h0M192.5 140.4h0M193.2 164.2h0M197.4 147.2h0M193.5 94.2h0" stroke="#e5381a" stroke-opacity="0.46" stroke-width="2.9" stroke-linecap="round" fill="none"/><path d="M192.2 133.1h0M196.2 134.7h0M196.3 152.8h0M193.6 180.4h0M194 159.8h0M193.6 178.9h0M193.1 159.9h0M193.5 134.9h0M193.3 167h0M197.1 139.2h0M192.1 142.6h0M193.1 175.8h0M195.3 160.8h0M193.6 127h0M196.2 147h0M191.6 162.8h0M191.3 140.4h0M195.1 148.1h0M192.7 182.5h0M196.4 140.9h0M196 165.2h0M194.4 180.2h0M197.6 134.5h0M194.5 133.6h0M195.5 141.8h0M195 143.9h0M195.7 163.4h0M196.6 169.6h0M192.9 175.1h0M196.9 153.1h0M194.3 152h0" stroke="#e5381a" stroke-opacity="0.46" stroke-width="2.9" stroke-linecap="round" fill="none"/><path d="M193.7 129.2h0M195.2 149.3h0M195.3 177h0M196.6 132.7h0M197.5 180.8h0M195.1 119.4h0M192.5 120.4h0M190.8 155.8h0M192.3 161.8h0M191.2 136.9h0M196.6 172.3h0M196.1 128.3h0M194.6 174.5h0M194.6 201.8h0M193.9 143.7h0M194.4 149h0M195 161h0M196.3 126.2h0M192.5 176.4h0M191.1 190.5h0M194 159.5h0M196.1 166.5h0M197.4 152h0M191.6 148.8h0M197.1 184.8h0M195.8 162.8h0M192.1 140.9h0M197 131h0M195.6 179.9h0M193.8 111.3h0M192.8 154.8h0" stroke="#e5381a" stroke-opacity="0.46" stroke-width="2.9" stroke-linecap="round" fill="none"/><path d="M193.5 186.4h0M193.6 140.6h0M194.3 162.7h0M192.2 115.5h0M195 180.1h0M194.4 133.8h0M195.2 133.7h0M194.1 149.1h0M194.3 144.4h0M194.9 130.5h0M192.8 157.8h0M192 165.1h0M197.6 194.5h0M195.2 181h0M192.9 142.5h0M197.7 170.4h0M195.5 176.7h0M194.3 143.9h0M197.3 120.8h0M195.4 154.8h0M190.1 126.6h0M191.8 181.7h0M194 160.9h0M193.2 138.7h0M192.8 152.2h0M194.8 148.7h0M194.2 172.3h0M197.4 185.3h0M191.8 137.1h0M194.8 125h0M193.2 128.9h0" stroke="#e5381a" stroke-opacity="0.46" stroke-width="2.9" stroke-linecap="round" fill="none"/><path d="M194.1 188.5h0M190.7 146.9h0M193.2 186.5h0M192.7 146h0M192.4 158.1h0M195.2 136.9h0M195 172.2h0M194.5 149.2h0M198.1 173.6h0M195.5 141.5h0M195 139.4h0M192 145.7h0M194.6 159.1h0M192.8 147.2h0M191.3 123.4h0M192.9 158.1h0M190.6 168.3h0M193.1 200.2h0M196 187.5h0M192 163.9h0M194.8 193.5h0M195.5 150h0M194.5 148.1h0M191.9 182.8h0M195.8 153.9h0M190.5 167.9h0M193.3 160.8h0M192.5 156h0M195.2 180.8h0M191.4 137.8h0M194.4 96.2h0" stroke="#e5381a" stroke-opacity="0.46" stroke-width="2.9" stroke-linecap="round" fill="none"/><path d="M191.9 150.5h0M194.1 164.7h0M191.4 152.5h0M195.4 178h0M194.9 156.3h0M193 166.8h0M190.4 162.4h0M196.5 169.5h0M194.6 139.8h0M194.9 140.1h0M192.8 153.7h0M197.5 153.2h0M195.4 178.9h0M193.8 130.7h0M197.6 141.8h0M196 164h0M192.2 152.1h0M194.5 146h0M193.1 166.2h0M193.3 156.7h0M193.5 160.7h0M194.8 166.3h0M196.9 151.8h0M193.8 137.1h0M191.2 148.9h0M191.2 151.1h0M194.6 157.8h0M193.9 136.5h0M192.7 142.5h0M196 183.4h0M194.4 98h0" stroke="#e5381a" stroke-opacity="0.46" stroke-width="2.9" stroke-linecap="round" fill="none"/><path d="M194 142.4V102.5M194 169.4V205.6" stroke="#e0302a" stroke-width="1.0"/><rect x="189.9" y="142.4" width="8.2" height="26.9" fill="#fff4ea" fill-opacity="0.5" stroke="#e0302a" stroke-width="1.25"/><path d="M189.9 154.4H198.1" stroke="#e0302a" stroke-width="1.6"/><path d="M207.7 174.3h0M203.6 121.5h0" stroke="#4462bd" stroke-opacity="0.46" stroke-width="2.9" stroke-linecap="round" fill="none"/><path d="M206 115.4h0M205 167.8h0" stroke="#4462bd" stroke-opacity="0.46" stroke-width="2.9" stroke-linecap="round" fill="none"/><path d="M207.3 183.8h0M209.2 160.1h0" stroke="#4462bd" stroke-opacity="0.46" stroke-width="2.9" stroke-linecap="round" fill="none"/><path d="M205.2 135.1h0M205.1 174.6h0" stroke="#4462bd" stroke-opacity="0.46" stroke-width="2.9" stroke-linecap="round" fill="none"/><path d="M207.7 179.6h0M206.1 151.8h0" stroke="#4462bd" stroke-opacity="0.46" stroke-width="2.9" stroke-linecap="round" fill="none"/><path d="M204.7 100.1h0" stroke="#4462bd" stroke-opacity="0.46" stroke-width="2.9" stroke-linecap="round" fill="none"/><path d="M205.7 128.7V94.7M205.7 164.5V186.3" stroke="#2d53a8" stroke-width="1.0"/><rect x="201.6" y="128.7" width="8.2" height="35.8" fill="#ffffff" fill-opacity="0.5" stroke="#2d53a8" stroke-width="1.25"/><path d="M201.6 150.5H209.8" stroke="#2d53a8" stroke-width="1.6"/><path d="M217.7 130.1h0M217.1 134.9h0M221 139.1h0M215.2 106.5h0M215.3 173.1h0M216.4 89.9h0M217.3 136.2h0M217.8 122.7h0M215.9 121.5h0M217 119.1h0M218.4 115.9h0M216.5 120.7h0M217 171h0M221 164.4h0M216.2 134.8h0M218.9 157.3h0M221.3 121.7h0M217.9 132.5h0M218.8 150.9h0M217.5 129.8h0M215.4 144.8h0M217.7 119h0M217.3 126.7h0M217.4 137.5h0M219.6 134.5h0M217.9 147.8h0" stroke="#e5381a" stroke-opacity="0.46" stroke-width="2.9" stroke-linecap="round" fill="none"/><path d="M217.8 155.2h0M214.2 172.4h0M219.8 130.2h0M220.9 122.2h0M219.6 136.8h0M216.3 144h0M217.4 118.1h0M217 139.5h0M217.6 161.2h0M217.2 134.9h0M215.3 92.7h0M216.7 136.1h0M219 120h0M216.2 127.6h0M220 150.9h0M216.4 141h0M219 159.3h0M216 119.5h0M218 91.2h0M215 133h0M217.9 140.2h0M215.5 129.1h0M216.3 152.3h0M217.7 142.6h0M217.6 108.5h0M217.7 130.9h0" stroke="#e5381a" stroke-opacity="0.46" stroke-width="2.9" stroke-linecap="round" fill="none"/><path d="M219.8 121.4h0M217.1 172.6h0M216.1 125.9h0M216 122.9h0M217.3 140.9h0M217.5 114h0M214.8 170.6h0M215.8 139.6h0M217.3 99.8h0M216.6 116h0M215.9 146.2h0M217.9 92.3h0M219.9 152.3h0M215.4 127.8h0M217.9 90.3h0M214.6 134.7h0M215 140.7h0M218.5 135.6h0M217.7 132.3h0M216.8 146.8h0M219.4 141.1h0M215 138.1h0M219.4 94.5h0M220 117.2h0M217.8 132.7h0M218.5 141.7h0" stroke="#e5381a" stroke-opacity="0.46" stroke-width="2.9" stroke-linecap="round" fill="none"/><path d="M217.3 102h0M216.7 133.9h0M216.9 106.9h0M218.6 158h0M214.8 118.6h0M217.6 157.9h0M217.6 129.2h0M219.1 155.6h0M217.8 152.9h0M215.5 131.8h0M220.1 101.4h0M220.9 142h0M215.2 98.9h0M217.2 115h0M218.9 146.4h0M215.1 141.9h0M217.5 114.4h0M216.5 134.8h0M213.9 136.5h0M216.7 150.8h0M219.4 115.5h0M216.5 120.1h0M215.3 112h0M217.2 100.2h0M215.4 157.9h0M214.3 75.3h0" stroke="#e5381a" stroke-opacity="0.46" stroke-width="2.9" stroke-linecap="round" fill="none"/><path d="M218.3 118.1h0M218.5 118.4h0M215.9 133.4h0M218.7 132.1h0M216.4 98h0M217.4 128.9h0M216.3 148.6h0M218.5 119h0M217.6 104.7h0M219.6 102.1h0M220.4 130.2h0M217.2 130.8h0M218.2 92.8h0M215.3 138h0M218.8 145.3h0M214.2 137.1h0M218.2 145.2h0M217.8 149.5h0M218.4 113.4h0M215.9 146.2h0M215.7 85.4h0M216.5 157.9h0M220.8 104.7h0M218.7 170.9h0M217.7 135.9h0M217.4 68.6h0" stroke="#e5381a" stroke-opacity="0.46" stroke-width="2.9" stroke-linecap="round" fill="none"/><path d="M217.4 111.4h0M217.9 102h0M219.9 154.4h0M216.5 167.2h0M216.3 132.6h0M217 138.4h0M218 129.2h0M218.3 145.7h0M221.8 141.1h0M216.6 116.1h0M218 162.2h0M219.5 126.4h0M217.4 132.1h0M220.5 156.3h0M220 132.9h0M219.2 102.8h0M217.6 130h0M213.4 123.5h0M218.8 133.7h0M215.1 105.4h0M220.5 150.8h0M215.9 112.4h0M217.8 161.7h0M218.6 131.4h0M216.8 153.1h0" stroke="#e5381a" stroke-opacity="0.46" stroke-width="2.9" stroke-linecap="round" fill="none"/><path d="M217.5 116.5V78.5M217.5 145.4V181.4" stroke="#e0302a" stroke-width="1.0"/><rect x="213.4" y="116.5" width="8.2" height="28.9" fill="#fff4ea" fill-opacity="0.5" stroke="#e0302a" stroke-width="1.25"/><path d="M213.4 131.9H221.6" stroke="#e0302a" stroke-width="1.6"/><path d="M230.4 143.4h0M225.8 187.8h0M230.3 174.1h0M229.6 188h0M229.2 186.8h0M230.6 191.1h0M232.2 154.1h0M225.6 150.3h0M229.3 155.7h0M231.5 172.7h0M227.5 179.7h0M229.6 169h0M228.7 173.7h0M229.5 191.3h0M227 151.4h0M229.3 182.4h0M228.8 165h0M228.2 165.6h0M229.1 147.7h0M226.2 124.8h0M231.2 183.3h0M229.8 154.7h0M231.3 165.7h0M230.8 143.8h0M227.2 158.7h0M232.4 133.3h0M231.6 155.6h0M228.5 128.6h0M228.2 157.8h0M230.5 172.3h0M231.3 186.2h0M229.1 178.4h0M227.6 175.8h0M226.4 133.8h0M230.7 138h0M229.5 137.5h0M231.4 170.5h0M229.3 129.3h0M229.8 130.2h0M227.6 128.7h0M228 163.8h0M226.7 187.5h0M227.3 147.7h0M230.9 160.2h0M230 142h0M229.4 143.8h0M228.2 160.6h0M228.1 164.2h0M231.2 171h0M231.9 163.9h0M230.2 133.5h0M227.3 200.4h0M229.4 159.5h0M228.6 172.5h0M225.9 163.3h0M227.5 121.4h0M229.5 175.3h0M227.7 173.4h0M232.7 171.7h0M230.7 146.5h0M228.8 164.7h0M229.4 177.3h0M229.9 186.5h0M232.5 170.3h0M229.1 167.6h0M231.7 175h0M227.1 167.8h0M227 205.8h0M228.6 154.2h0M228 162.1h0M226.7 164.2h0M229.5 154.4h0M229 134.6h0M231.4 178h0M228.4 132.4h0M227.4 176.6h0M229.9 147.6h0M228.5 179.2h0M231.5 140.4h0M227.9 149.9h0M230.2 163.6h0M226.4 147.1h0M225.5 178.7h0M229.4 190.4h0M227.7 172.5h0M227.6 175.6h0M229.7 172.1h0M231 110.2h0" stroke="#e5381a" stroke-opacity="0.46" stroke-width="2.9" stroke-linecap="round" fill="none"/><path d="M226.6 173.4h0M230.3 199.7h0M231.1 182.2h0M228.6 181.9h0M227.1 173.6h0M228.8 148.1h0M229.6 183.3h0M229.2 159.6h0M229.8 179.1h0M227.4 163.4h0M226.8 143.5h0M232.2 183.7h0M229.3 134.6h0M231.6 175.6h0M228.2 168.8h0M229.8 135.1h0M229.2 157.2h0M228.8 172.5h0M231.2 167h0M229 180.7h0M229 176.5h0M231 143.3h0M231.3 195h0M230.8 171.9h0M227.2 174.4h0M229.1 170.9h0M230.4 169.6h0M228.7 147.1h0M231 145.8h0M227.6 183.8h0M232.1 167h0M227.2 162.2h0M227.7 162.1h0M227.8 194.4h0M232.3 184.8h0M229 178.4h0M228.1 158.5h0M227.1 174.3h0M226.5 179.1h0M228.9 150.9h0M227.2 174.6h0M227.1 163.8h0M231.6 125.4h0M228.8 168h0M228.6 166.9h0M232.7 152.2h0M230.3 147.5h0M229.5 139.8h0M226.4 201.5h0M228.6 140.9h0M226.8 189.4h0M228.1 172h0M229 185.4h0M226.4 176.2h0M232.7 154.5h0M232.4 141.1h0M227.9 140.4h0M230.5 124.9h0M231.3 180.3h0M229.6 174.4h0M230.4 153.3h0M233.2 128.6h0M225.4 128.7h0M227.3 149.2h0M232 173h0M230.7 165h0M230.6 168.3h0M229.4 184.8h0M233 156.5h0M228.9 172.3h0M228.5 174.5h0M228.7 190.8h0M227.9 174.7h0M228.1 159h0M229.1 159.9h0M231.1 175h0M230.1 188.8h0M228.2 173.8h0M227.4 200.7h0M227.5 199.4h0M226.8 149.2h0M227.3 180.4h0M228.6 164.2h0M230.8 191.5h0M229.6 168.7h0M228.3 169.9h0M228.7 185.8h0M228.2 112.5h0" stroke="#e5381a" stroke-opacity="0.46" stroke-width="2.9" stroke-linecap="round" fill="none"/><path d="M227.1 152.2h0M227 171.8h0M226.9 138.6h0M227.5 107.8h0M228.8 167.2h0M228.4 174.1h0M228.6 160.6h0M233.2 148.1h0M229.6 147.3h0M229.4 138.9h0M232.2 161.5h0M231.7 176.9h0M232.4 174.5h0M226.9 180.2h0M230.2 155.1h0M227.8 168.9h0M228.7 171.3h0M227.7 172.7h0M228 174.9h0M231 158.3h0M232.3 150.3h0M228.7 161.1h0M230 198.3h0M233.5 169.3h0M228.7 179.5h0M230.1 135.2h0M231.1 119.8h0M228.5 157.3h0M229.2 178.9h0M228.4 177.6h0M228.7 187.4h0M228.6 173.2h0M227.2 170.8h0M228 168.5h0M227.5 168.3h0M228.5 174.7h0M225.8 163.9h0M230.3 151.8h0M229.6 179.6h0M230.3 161.4h0M228.8 161.3h0M228.7 131.9h0M227.9 184.2h0M228 178h0M229.2 170.5h0M227.3 170.1h0M231.7 164h0M227.8 167h0M229 192h0M226.6 183.5h0M232.5 184.8h0M230.1 168.7h0M227.3 162.7h0M227 132.6h0M225.9 148h0M228.3 148.5h0M231.9 185.6h0M228.1 187.9h0M229.4 162.5h0M231.9 177.8h0M228.3 189.4h0M231.5 182h0M231.1 140h0M228.4 158.8h0M227 178.9h0M231.4 184.8h0M226.5 148.8h0M229.7 138.2h0M226 194.3h0M229.8 173.5h0M231.1 170.9h0M227.5 143.8h0M233 182.8h0M229 177.5h0M229.4 199h0M227.8 166.8h0M231.6 153.6h0M230.8 183.5h0M226.3 181.4h0M228.8 165h0M231.9 137.6h0M227.6 154.8h0M231 159.8h0M229.2 161.1h0M227.5 153.8h0M229.1 145.1h0M229.7 176.3h0M231.2 112.7h0" stroke="#e5381a" stroke-opacity="0.46" stroke-width="2.9" stroke-linecap="round" fill="none"/><path d="M228.3 154.1h0M230.9 192.2h0M230.9 170.2h0M229.2 183.8h0M229.3 167.1h0M229.4 138.1h0M225.8 137.8h0M228.2 208h0M232.5 140.7h0M231 131.4h0M227.3 159.7h0M227.7 163.9h0M231.2 161.5h0M231.6 146.8h0M226.7 147.1h0M229.7 155.1h0M231.1 137.4h0M230.3 172.8h0M226.7 165.9h0M229.7 150.7h0M230.7 133h0M229.3 156.5h0M229.8 180.1h0M227.1 170.8h0M228 175.3h0M228.3 185.9h0M227.4 165.2h0M230.3 192.9h0M232.9 161.9h0M228.9 187.1h0M228.8 139.1h0M229.4 180.6h0M228.7 179.1h0M232 159.2h0M226.5 163.6h0M232.4 171.5h0M226 156.1h0M225.7 163.4h0M230 142.8h0M228.2 149.7h0M230.1 190.1h0M228.1 157.6h0M229.9 166.3h0M230.9 119.3h0M229.7 145.6h0M229.4 167.4h0M225.9 173.4h0M230.2 175.1h0M229 185.8h0M230.9 141.4h0M229.8 170.6h0M231.2 109.7h0M228.6 159h0M228 154.1h0M225.1 134h0M230.1 137.1h0M228.3 172.4h0M231.7 157.1h0M229.1 187.7h0M231.1 158.4h0M231.1 181h0M227.5 180.8h0M226.2 187h0M227.7 179.3h0M226.6 145.5h0M229.4 167.7h0M225.3 161.1h0M228.9 133.3h0M229.8 181h0M227 175.9h0M229.1 128.8h0M228.9 161.6h0M230.5 119.7h0M229 153.2h0M226.7 171.2h0M230 179.9h0M230.3 157.2h0M229 157h0M231.8 183.3h0M226.9 154.8h0M229.6 158.6h0M228.4 175.1h0M230.7 179.2h0M230.6 169h0M232 187h0M226.1 154.9h0M229.5 173.9h0M230.5 110.6h0" stroke="#e5381a" stroke-opacity="0.46" stroke-width="2.9" stroke-linecap="round" fill="none"/><path d="M228.1 121.1h0M228 169.8h0M232.2 161.2h0M229.6 171.1h0M230.7 154h0M228 159.6h0M227.1 116.9h0M230.7 173.3h0M230.9 165.1h0M229.7 174.6h0M229.6 155.4h0M226.7 157.5h0M229.4 172.1h0M229.4 185.4h0M229.7 193.6h0M230.7 126.9h0M231.2 147.6h0M232.3 193.2h0M230.5 161.5h0M225.9 164.9h0M232.1 177.5h0M229.8 146h0M231.1 191.4h0M232.1 171.2h0M230.5 148.3h0M225.9 178h0M225.9 160.2h0M226.1 158.5h0M226.5 146.6h0M228.6 144.2h0M227.9 140h0M229 175.2h0M228.7 166.4h0M231.3 157.5h0M227.9 175h0M231.6 170.6h0M229.5 135.7h0M228.1 171.9h0M228.5 165.4h0M231.3 187.8h0M229.3 146.6h0M231.6 183.4h0M229.5 179.4h0M231.2 169.8h0M231.9 183.4h0M228.5 194h0M230.7 180.3h0M232.5 169h0M232.2 156.7h0M229.5 158.5h0M230.5 158.1h0M228.6 164.5h0M225.8 173.6h0M230.7 172.1h0M225.5 156.9h0M228.3 190.4h0M230.6 133h0M228.1 171h0M229.9 155.4h0M229.1 139.5h0M228.8 152.9h0M230.4 203.1h0M229.2 123.1h0M227.8 194.6h0M232.7 183.9h0M230.8 179.6h0M228.8 183.2h0M228.6 150.3h0M228.3 140.8h0M228.2 181.8h0M229.1 154.2h0M232.3 170.6h0M229.7 167.2h0M229.8 171.9h0M227.7 181.8h0M226.9 196.4h0M230.6 174.6h0M229.3 136.5h0M228.5 128.5h0M230.2 168.2h0M229.2 193.9h0M231.3 165.5h0M229.4 166.2h0M230.9 208.7h0M231.5 154.1h0M232.5 147.3h0M226.8 110.6h0M229.7 111.1h0" stroke="#e5381a" stroke-opacity="0.46" stroke-width="2.9" stroke-linecap="round" fill="none"/><path d="M232.1 176.9h0M229.4 157h0M230.8 144.3h0M227.7 176.2h0M227.5 194.9h0M229.4 189.7h0M231.1 168.1h0M228.1 159.9h0M230.4 170.7h0M230.8 182h0M229.1 157.9h0M228.3 172.9h0M228.4 180.8h0M228.3 173.6h0M232.1 173.6h0M229.4 172.7h0M227.7 143.3h0M231.5 158.3h0M230.1 159.1h0M229.1 170.8h0M227.7 155.8h0M228.8 185.5h0M227.8 155h0M226.6 163.7h0M228.7 173.7h0M232.1 155.8h0M228.6 176.1h0M225 174.5h0M229.8 163.1h0M230.6 164.5h0M230.1 190.3h0M230 170.9h0M228.7 193.2h0M229.5 161h0M228.4 176.5h0M231.2 163.3h0M230.2 180.4h0M231.7 197.9h0M232.6 123.7h0M228.9 163.2h0M226.5 137.8h0M229.3 182.7h0M227.8 171.8h0M229.3 170.2h0M226.6 150.2h0M230.2 169.4h0M230.8 168.1h0M229.7 174.8h0M227.3 168.6h0M229.4 178.4h0M228.7 170.3h0M230.6 184.2h0M230.2 161.6h0M230.5 179.2h0M228.4 184.7h0M232.3 173.2h0M230.5 152.7h0M231 155.8h0M232.5 172.4h0M226.9 199.4h0M226.2 180.2h0M226.8 184.4h0M225.5 150h0M229.4 181.5h0M229.4 147.4h0M230.2 194.4h0M230.7 177h0M228.8 160.7h0M228.4 140.9h0M226.7 197.3h0M230.9 178.4h0M230.9 154.6h0M227.6 133.7h0M225.4 177.9h0M231.9 186.4h0M229.1 175.9h0M227 160.6h0M231 178.2h0M231.8 176.8h0M226.6 209.9h0M230.2 170.9h0M232.9 150.4h0M228.6 171.8h0M228.4 201.1h0M227.6 172.5h0M228.8 178.4h0M232.4 106.5h0M229.7 106.5h0" stroke="#e5381a" stroke-opacity="0.46" stroke-width="2.9" stroke-linecap="round" fill="none"/><path d="M229.2 152.2V112.8M229.2 178.2V211" stroke="#e0302a" stroke-width="1.0"/><rect x="225.1" y="152.2" width="8.2" height="26" fill="#fff4ea" fill-opacity="0.5" stroke="#e0302a" stroke-width="1.25"/><path d="M225.1 167.7H233.3" stroke="#e0302a" stroke-width="1.6"/><path d="M241.6 161.2h0M237.6 184h0M240.8 128.6h0M240.6 177.6h0M240 182.9h0M240.9 137.3h0M241.1 166.5h0M238.2 107.9h0" stroke="#4462bd" stroke-opacity="0.46" stroke-width="2.9" stroke-linecap="round" fill="none"/><path d="M240.2 114.4h0M237.4 153.8h0M239 165h0M241.5 135.4h0M240.6 179.4h0M239.7 179.8h0M242.6 196.3h0M242.3 165.4h0" stroke="#4462bd" stroke-opacity="0.46" stroke-width="2.9" stroke-linecap="round" fill="none"/><path d="M238.4 182.5h0M243.3 150.7h0M241 143.3h0M243.6 164.6h0M239.4 140.5h0M242.5 160.5h0M241.1 182.2h0" stroke="#4462bd" stroke-opacity="0.46" stroke-width="2.9" stroke-linecap="round" fill="none"/><path d="M241.1 117.6h0M243 186.1h0M239.3 161.3h0M240.4 163.1h0M243.4 191.3h0M242.2 161.4h0M239.1 177.4h0" stroke="#4462bd" stroke-opacity="0.46" stroke-width="2.9" stroke-linecap="round" fill="none"/><path d="M244.8 149.8h0M239.4 192.6h0M241.2 166.1h0M240.4 197.2h0M240.8 173.4h0M240.7 192h0M243.1 176.6h0" stroke="#4462bd" stroke-opacity="0.46" stroke-width="2.9" stroke-linecap="round" fill="none"/><path d="M238.9 147.4h0M244.2 184.9h0M242.4 163.2h0M239.7 160.8h0M241.8 151.9h0M240.4 152.7h0M240.9 170h0" stroke="#4462bd" stroke-opacity="0.46" stroke-width="2.9" stroke-linecap="round" fill="none"/><path d="M241 151V108.4M241 182.6V205.6" stroke="#2d53a8" stroke-width="1.0"/><rect x="236.9" y="151" width="8.2" height="31.6" fill="#ffffff" fill-opacity="0.5" stroke="#2d53a8" stroke-width="1.25"/><path d="M236.9 169.4H245.1" stroke="#2d53a8" stroke-width="1.6"/><path d="M253 136.8h0M250.6 193.3h0M254 145h0M252.3 176h0M255.2 193.8h0M251.9 150.4h0M252.3 164.6h0M252.3 172.3h0M252.4 167.2h0M254.2 148.2h0M254.5 148.6h0M254.9 176.5h0M251.8 184.1h0M255.1 170.5h0M253.5 172.2h0M256.1 169h0M255.1 185.1h0" stroke="#e5381a" stroke-opacity="0.46" stroke-width="2.9" stroke-linecap="round" fill="none"/><path d="M253.4 161.7h0M255.6 143.8h0M249.8 144.4h0M250 165.3h0M254 155.8h0M254.5 197.9h0M249.1 158.8h0M253.4 165.7h0M254.3 179h0M252.5 160.3h0M253.4 153.9h0M252.8 174.9h0M252.7 188.2h0M255.2 149h0M254.9 185.3h0M252.9 183.2h0M254.4 128.8h0" stroke="#e5381a" stroke-opacity="0.46" stroke-width="2.9" stroke-linecap="round" fill="none"/><path d="M251 155.8h0M254.4 181.3h0M255.5 157.5h0M251.5 177.6h0M251.5 152.8h0M252 157.6h0M253.4 171.3h0M255.2 149.5h0M253.1 177.5h0M253 151.5h0M249.2 160.6h0M256.6 186.5h0M254 162.4h0M251.3 145.8h0M253.8 161.1h0M253.7 174.7h0M255 125.3h0" stroke="#e5381a" stroke-opacity="0.46" stroke-width="2.9" stroke-linecap="round" fill="none"/><path d="M253.2 163.3h0M251 193.7h0M254.1 157.5h0M250.2 147.2h0M250.2 167.1h0M250.9 196.2h0M251.7 166.1h0M251.7 172h0M253.5 177.1h0M250.6 171.7h0M254.1 176.8h0M251.8 141.4h0M254 150.2h0M250.9 161.4h0M251.4 167.1h0M254.1 149.1h0" stroke="#e5381a" stroke-opacity="0.46" stroke-width="2.9" stroke-linecap="round" fill="none"/><path d="M255.9 169.8h0M253.4 179.4h0M253.7 178h0M255 154.6h0M250.7 187h0M251.9 164.8h0M251.7 131.1h0M253.3 187.2h0M250.9 176.1h0M254.1 160.8h0M250.5 185.9h0M250.7 162h0M253.3 182.4h0M252.8 155.3h0M253.4 172.3h0M253.6 169.8h0" stroke="#e5381a" stroke-opacity="0.46" stroke-width="2.9" stroke-linecap="round" fill="none"/><path d="M254.1 175.2h0M250.5 192.7h0M250.6 167.4h0M253.5 167.7h0M253.9 159.5h0M252.5 140h0M252.1 171.2h0M250.8 146.3h0M249.1 191.6h0M254.9 163.5h0M253.8 179.3h0M252.5 199.5h0M254.4 156.8h0M252.1 166h0M254.4 167.2h0M252.2 145.4h0" stroke="#e5381a" stroke-opacity="0.46" stroke-width="2.9" stroke-linecap="round" fill="none"/><path d="M252.7 156.2V137.5M252.7 177V208.1" stroke="#e0302a" stroke-width="1.0"/><rect x="248.6" y="156.2" width="8.2" height="20.8" fill="#fff4ea" fill-opacity="0.5" stroke="#e0302a" stroke-width="1.25"/><path d="M248.6 166H256.8" stroke="#e0302a" stroke-width="1.6"/><path d="M262 132.6h0M264.8 168.6h0M267 183.3h0M267 155.5h0M262.7 179.7h0M263.5 147.8h0M265 152.3h0M263.9 177.1h0M264.3 171h0M260.3 175.5h0M265.1 156.1h0M264.5 147.1h0M263.7 141.5h0M264.4 203.3h0M264.8 131.6h0M262.7 132.3h0M263.7 145.3h0M264.6 139.5h0M265.6 181.7h0M264.1 167.7h0M267.3 178.6h0M266.9 121.9h0M267.6 134.4h0M267.2 160.1h0M263.5 154.2h0M263.1 168.9h0M264.9 173.1h0M265.7 136.6h0M263.7 152.9h0M262.7 126.6h0M266.7 172.6h0M265.2 166.3h0M261.2 186.5h0M262.8 125.8h0M266 181h0M260.9 148.9h0M264.2 146.6h0M262.2 162.9h0M262.6 172.3h0M265.5 153.3h0M265.2 135.8h0M263.4 173.4h0M264.7 203.6h0M267.7 190.6h0M265.5 180.6h0M265.9 181.9h0M263.8 157.4h0M264.4 179.3h0M263.2 143.3h0M265 180.4h0M266.3 167h0M263.8 164.9h0M263.1 149.1h0M261.5 180.1h0M265.8 175.2h0M265.5 161h0M262.1 185.6h0M263.2 186.9h0M268.1 171h0M265.7 170.7h0M264.7 165.7h0M263.8 164.7h0M261.7 182.8h0M263.9 152.6h0M261.3 170.3h0M265.6 181.1h0M266.1 164.8h0M264.6 167.3h0M264.1 160.9h0M264.7 124.6h0M261.1 150.3h0M264.1 108.2h0" stroke="#e5381a" stroke-opacity="0.46" stroke-width="2.9" stroke-linecap="round" fill="none"/><path d="M266.8 160.9h0M262.7 151.8h0M263 171.7h0M260.9 142.3h0M265.4 170h0M265.8 131.1h0M265.3 161.6h0M263.7 167.2h0M268.1 138h0M267.5 142.3h0M262.9 150.7h0M263.7 179.2h0M264.7 142.8h0M262.6 151.9h0M263.5 120.9h0M266.5 180.1h0M264.1 143.3h0M264.9 164.8h0M262.5 150.3h0M262.4 187.8h0M267.5 158.7h0M263.6 159.6h0M267.2 174.8h0M263.1 171.6h0M264 169.7h0M264 162.5h0M262.7 187.4h0M265.8 163.2h0M266.4 170.7h0M266.8 187.3h0M265.6 150.4h0M266.1 157.6h0M261.3 118.2h0M262.9 175.7h0M263.3 165.3h0M266.5 170h0M267.7 168.5h0M264 144.5h0M267.5 152.7h0M264.8 179h0M267.9 183.2h0M267.3 158.4h0M264.6 199h0M264.7 191.4h0M265.1 153.6h0M264.8 174.1h0M262.5 174.9h0M266.9 178.3h0M262.5 181.1h0M264.4 174.1h0M267.4 155.5h0M264.7 163.6h0M264.8 151.4h0M265 200.3h0M264.7 186.4h0M265.2 174.7h0M266.3 145.7h0M265.2 132h0M262.9 188.5h0M264.7 149.7h0M264.5 173.4h0M264.4 170.7h0M266.1 152.9h0M263.7 135.4h0M265.4 158.8h0M265.3 180h0M265.1 166.6h0M260.5 141h0M264.5 175.6h0M263.5 155.7h0M263.7 111.6h0" stroke="#e5381a" stroke-opacity="0.46" stroke-width="2.9" stroke-linecap="round" fill="none"/><path d="M261.5 170.3h0M263.6 145.4h0M264.5 163.7h0M265 158.3h0M267.2 171.1h0M266.1 179.4h0M266.1 177.2h0M266.4 151h0M265 160.3h0M266.5 162.7h0M267.6 184.5h0M264.8 185.6h0M263.2 175.5h0M264.9 177h0M264.7 153h0M264 162.3h0M266.3 187.9h0M264.7 153h0M266 148.4h0M267.1 160.1h0M264.3 174h0M260.7 124.6h0M263.2 174h0M264.9 166.9h0M265.1 164.2h0M263.5 116.4h0M263.7 150.1h0M266.3 165h0M263.3 204.8h0M261.3 209.4h0M264.9 184.5h0M261.4 180.6h0M263.8 163.5h0M265.9 160.8h0M260.9 178h0M266 118.8h0M263.9 191.5h0M263.5 190.3h0M265.5 141h0M261.5 171h0M263.9 200.5h0M262.5 138.1h0M262.3 178.6h0M265.2 192.6h0M262.8 161h0M266.4 179.1h0M264.7 140.8h0M264.3 145.7h0M265.7 135.9h0M264.3 178.5h0M268.6 199.6h0M267.5 118.7h0M262 151.9h0M263.3 148.3h0M263.1 175.4h0M263.4 165.4h0M264.6 182.2h0M265.9 170.2h0M263.4 140.6h0M266.9 178.4h0M263.5 167.3h0M262.3 157.3h0M263.9 183.7h0M267.5 163.8h0M265.1 180h0M266.2 150.9h0M264.7 171.1h0M265.4 146h0M265.2 173.6h0M267.2 174.1h0M263.1 111h0" stroke="#e5381a" stroke-opacity="0.46" stroke-width="2.9" stroke-linecap="round" fill="none"/><path d="M263.6 167.5h0M263.6 192.4h0M266.9 140.7h0M266.2 121.9h0M267 152.5h0M262.3 174.4h0M262.5 125.7h0M264.1 169h0M266.4 143h0M264.5 186.5h0M267.7 149.8h0M266.1 148.9h0M262.2 118.3h0M263.9 156.7h0M265.7 159h0M262.6 168.5h0M265.5 139.6h0M265.8 147.7h0M263.5 158.3h0M262.3 154.6h0M264.1 168.4h0M263.1 140.5h0M263.6 160.4h0M267.9 161.9h0M264.5 140.5h0M265.8 166.8h0M266.9 177.1h0M265.3 156h0M263.1 147.5h0M265.7 129.1h0M264.7 152h0M264.4 162.3h0M264.4 181.7h0M265.9 143.7h0M263.5 185.8h0M266.1 178.2h0M261.9 178.9h0M265.6 178.9h0M265.7 141.7h0M264.3 155.8h0M267.3 163.8h0M262.3 145.9h0M267.9 163.7h0M262.4 151.2h0M263.6 148.4h0M263.2 151.2h0M263.6 195.1h0M260.2 172.7h0M267.1 134.4h0M262 153.7h0M266.5 194.7h0M267.5 152.2h0M264.5 170h0M264.1 150.4h0M265.8 156.2h0M265.3 169h0M267 171.9h0M266.4 155.8h0M267.7 174.4h0M264.4 159.7h0M267.3 152.2h0M263.9 167.8h0M260.7 160.8h0M262.9 189.1h0M266 193.4h0M265.7 169.9h0M266.9 188.9h0M265.7 153.4h0M264.2 180.9h0M263.2 150.3h0M264.2 109.7h0" stroke="#e5381a" stroke-opacity="0.46" stroke-width="2.9" stroke-linecap="round" fill="none"/><path d="M265 176.4h0M267.9 162.2h0M263.5 153.2h0M267.2 157.4h0M263.4 159.1h0M263 150.9h0M264.4 139.6h0M265 188.2h0M266.6 147.1h0M261.9 173.8h0M264.8 168.8h0M264.4 145.4h0M261.1 168.7h0M261.8 193.2h0M265.4 178.6h0M265.2 158.3h0M264.4 178.7h0M263.1 152.4h0M262.5 170.3h0M263.2 147.9h0M263.3 143.7h0M264.1 166.2h0M263.9 157.1h0M264.5 169.8h0M263.6 146.7h0M268 124.5h0M260.8 177.2h0M265.9 159.7h0M265.8 155.2h0M263.5 155.4h0M264.1 113.6h0M265 171.5h0M263.2 172.8h0M264.3 171.7h0M264.3 170.1h0M264.1 167.5h0M266.2 121.6h0M266.2 186.3h0M266.4 174h0M265.4 179.8h0M265.7 182.2h0M261.1 172.1h0M262.6 176.9h0M265.9 196.5h0M263.9 137.9h0M264.9 169.4h0M266 162.1h0M262.8 196.5h0M264.6 171.1h0M265.3 187.2h0M264.1 181.2h0M266 153.9h0M264.9 153.1h0M264.8 171.8h0M263.4 177.4h0M262.6 184.1h0M263.6 195.3h0M267 194.3h0M260.6 165h0M262.9 139.4h0M266.7 172.1h0M264.1 130.4h0M265.8 168.8h0M267.3 149.6h0M266.9 170.7h0M264.6 175.5h0M264.9 174h0M266.7 166.3h0M265.8 169.4h0M264.8 175.5h0M261.7 108.8h0" stroke="#e5381a" stroke-opacity="0.46" stroke-width="2.9" stroke-linecap="round" fill="none"/><path d="M262.4 168.5h0M267.7 133.9h0M265 171.3h0M260.8 183.7h0M266.2 125.5h0M264.5 165.6h0M263.4 191.1h0M264.9 147.2h0M264.5 145.9h0M265.3 172.9h0M264.5 183.6h0M261.6 177.6h0M266 162h0M262.1 139h0M266.5 169h0M262.5 173.6h0M266 171.7h0M261.2 175.5h0M264.1 145.9h0M266.1 180.7h0M262.6 157.1h0M263.1 168.5h0M263.3 187.9h0M267.5 139.8h0M261.5 134.8h0M265.1 145.1h0M263.6 192.3h0M265.4 163.3h0M267.1 165h0M266.1 190.9h0M266.4 131.5h0M261.9 181.3h0M262.9 129.1h0M264.8 184h0M265.2 142.7h0M261.7 186.8h0M263.6 147.9h0M265.7 178.9h0M266.1 166.2h0M266 154.3h0M262.9 161.6h0M264.3 184.1h0M267.2 175.8h0M264.7 150h0M265.9 179.1h0M263.7 167.4h0M266.5 155.6h0M262.6 188h0M263.9 154.7h0M265.5 170.1h0M262.3 171.5h0M266.8 175.5h0M265.2 131h0M265.2 174.9h0M264.3 174.1h0M266.6 166.8h0M264.9 175h0M263 186.8h0M267.5 161.2h0M263 163.5h0M261.2 193.3h0M264.9 186.2h0M267.3 197.4h0M262.9 183.8h0M268.1 169.2h0M267.4 177.3h0M263 177.8h0M265.2 173.4h0M267.4 169.8h0M264.2 144.7h0M263.8 111h0" stroke="#e5381a" stroke-opacity="0.46" stroke-width="2.9" stroke-linecap="round" fill="none"/><path d="M264.5 151.5V113.3M264.5 178.2V210.5" stroke="#e0302a" stroke-width="1.0"/><rect x="260.4" y="151.5" width="8.2" height="26.7" fill="#fff4ea" fill-opacity="0.5" stroke="#e0302a" stroke-width="1.25"/><path d="M260.4 168.2H268.6" stroke="#e0302a" stroke-width="1.6"/><path d="M277.1 117.4h0M272.7 164.6h0M277.5 127h0M276.7 133.6h0M272.9 126.8h0M276 159.7h0M277.1 152.1h0M277.6 143.8h0M276.5 146.7h0M273.3 152.3h0M276.8 162.3h0M275.1 173.2h0" stroke="#e5381a" stroke-opacity="0.46" stroke-width="2.9" stroke-linecap="round" fill="none"/><path d="M277 117h0M274.3 112.1h0M278.1 144.8h0M276.4 117.7h0M273.8 144.6h0M277.6 121.9h0M277.2 122.5h0M273.4 144.1h0M275.2 139.3h0M275 139.6h0M276.9 134h0M274.5 182.2h0" stroke="#e5381a" stroke-opacity="0.46" stroke-width="2.9" stroke-linecap="round" fill="none"/><path d="M278.4 109.2h0M279.3 138.1h0M276.9 125.2h0M276.9 145h0M277.4 130.4h0M273.9 118.8h0M278.4 123.7h0M275.6 158.2h0M276.2 146.6h0M275.7 109.7h0M279.2 97.6h0" stroke="#e5381a" stroke-opacity="0.46" stroke-width="2.9" stroke-linecap="round" fill="none"/><path d="M276.4 120.4h0M277.8 96.3h0M275 136.7h0M274.5 123h0M278.6 144h0M277.8 141.9h0M274 144h0M278.3 138.9h0M272.6 120.2h0M274.3 150.9h0M278.9 137h0" stroke="#e5381a" stroke-opacity="0.46" stroke-width="2.9" stroke-linecap="round" fill="none"/><path d="M277.3 133.9h0M278.9 96.5h0M279.9 136.9h0M276 143.6h0M276.5 145.6h0M272.4 111h0M272.7 121.5h0M273.3 167.8h0M275.8 133.5h0M277.6 124.7h0M276.3 135.6h0" stroke="#e5381a" stroke-opacity="0.46" stroke-width="2.9" stroke-linecap="round" fill="none"/><path d="M274.9 130.6h0M278.8 151.5h0M272.3 137.4h0M280 122.6h0M276.3 109.4h0M276.3 114.7h0M277.8 117.9h0M275.3 102.6h0M273 144.7h0M276.6 126.3h0M275.6 148h0" stroke="#e5381a" stroke-opacity="0.46" stroke-width="2.9" stroke-linecap="round" fill="none"/><path d="M276.2 119.4V91.7M276.2 143.7V160.3" stroke="#e0302a" stroke-width="1.0"/><rect x="272.1" y="119.4" width="8.2" height="24.2" fill="#fff4ea" fill-opacity="0.5" stroke="#e0302a" stroke-width="1.25"/><path d="M272.1 133.6H280.3" stroke="#e0302a" stroke-width="1.6"/><path d="M290.7 107h0M288.7 85.4h0M285.6 99.8h0M287.6 103.3h0M289 88.5h0" stroke="#4462bd" stroke-opacity="0.46" stroke-width="2.9" stroke-linecap="round" fill="none"/><path d="M287.8 88.7h0M292.2 97.2h0M287.6 95.2h0M289.8 89.1h0M290.6 67.1h0" stroke="#4462bd" stroke-opacity="0.46" stroke-width="2.9" stroke-linecap="round" fill="none"/><path d="M286.6 89.5h0M289.5 86.2h0M290 119.8h0M288.7 86.9h0M289 69.7h0" stroke="#4462bd" stroke-opacity="0.46" stroke-width="2.9" stroke-linecap="round" fill="none"/><path d="M289.1 104h0M287.1 78.5h0M289.9 91.9h0M288 116.1h0" stroke="#4462bd" stroke-opacity="0.46" stroke-width="2.9" stroke-linecap="round" fill="none"/><path d="M289 87.3h0M288.9 88.4h0M288.1 107.6h0M290.8 96.2h0" stroke="#4462bd" stroke-opacity="0.46" stroke-width="2.9" stroke-linecap="round" fill="none"/><path d="M289.7 92.9h0M287.2 84h0M288.7 88.8h0M287.7 71.4h0" stroke="#4462bd" stroke-opacity="0.46" stroke-width="2.9" stroke-linecap="round" fill="none"/><path d="M288 84.9V72.9M288 100.8V120.6" stroke="#2d53a8" stroke-width="1.0"/><rect x="283.9" y="84.9" width="8.2" height="15.9" fill="#ffffff" fill-opacity="0.5" stroke="#2d53a8" stroke-width="1.25"/><path d="M283.9 89.8H292.1" stroke="#2d53a8" stroke-width="1.6"/><path d="M298.9 72.6h0M299.3 60.5h0M298.6 126h0M298.4 72.8h0M297.2 89h0M301.1 87.8h0M301.6 98.2h0M300.4 68.9h0M300.3 97h0M297.4 45.6h0M299.1 46.5h0M299.4 75.1h0M301.8 42.8h0M298.6 66.9h0M303 57.4h0M299.6 109.3h0M299.4 114.1h0M298.4 111.8h0M300.8 72h0M301.6 114.6h0M300 87.1h0M299.9 112h0M297.8 50.1h0M299 57.9h0M300.2 67.8h0M303.5 85.1h0M301.3 77.9h0M300.5 44.4h0M300.1 60.5h0M301.4 61.2h0M297.9 63.7h0M300.4 82.1h0M297.8 100.4h0M300.9 65.2h0M298.9 93.9h0M297.4 54.7h0M301.7 147.3h0M297.3 77.9h0M300.3 74.7h0M298.8 57h0M299 67.7h0M302.9 51.2h0M299.8 68.4h0M299.8 98.1h0M300.9 75.5h0M301 108.2h0M301 167.6h0M301.1 114.5h0M301.8 69.7h0M297 68.7h0M299 44.5h0M301.1 59h0M297.3 63.3h0M303.2 68h0M300.2 100h0M296.6 53.7h0M300 70.7h0M298.6 113h0M301 63.3h0M301.5 95.7h0M301.2 96.1h0M299.2 67.6h0M299.4 54.3h0M295.7 86.2h0M301.7 47.1h0M296.9 102.1h0M299.9 108.3h0M297.8 69.5h0M300.8 66.5h0M297.3 106.1h0M301 87.8h0M297.7 73h0M297.3 44h0M300.7 68.4h0M301.7 111.6h0M301.3 143.9h0M297.6 52.9h0M300.8 113.4h0M300.9 81.9h0M300.5 66.3h0M300.4 58.6h0M300 52h0M299.1 65.4h0M302.9 75.6h0M296.1 83.9h0M299.4 42.9h0M301 107.3h0M298 85.9h0M301.3 68.2h0M299 157.4h0M300 157.8h0" stroke="#e5381a" stroke-opacity="0.46" stroke-width="2.9" stroke-linecap="round" fill="none"/><path d="M298 100.8h0M302.9 83.8h0M302.3 88.8h0M299.4 94.6h0M297.1 68.9h0M301.9 119.6h0M298.9 101.7h0M300.1 137.5h0M298.3 64.3h0M298.2 69.3h0M299.2 80.5h0M301.3 59.2h0M297.8 121.6h0M302.5 120h0M298 51.7h0M296.4 131.8h0M297 78.7h0M302 54.8h0M298.5 71.9h0M299 70.9h0M296.6 64.9h0M297.6 108.4h0M301.4 118.4h0M299.3 79.2h0M298.5 78.7h0M297.9 75.5h0M295.8 96.7h0M299.9 112.7h0M297.3 75.1h0M299.3 76.5h0M301.7 71h0M300.8 73.9h0M303 79h0M299.7 72.3h0M300.6 89.7h0M301.5 69.6h0M300.3 75.9h0M299.9 122.5h0M296.5 100.5h0M297.2 70.3h0M298.9 74.4h0M301.3 47.8h0M297.6 141.3h0M301.1 67.5h0M299.5 96.8h0M301.3 103.5h0M299.3 52.9h0M300.8 87.2h0M300.1 96.7h0M300.6 60.3h0M297.6 98.7h0M296.9 108.8h0M299.4 65.8h0M301.2 76.4h0M301.6 58.6h0M299.3 81.6h0M296.8 102.3h0M296.2 70.9h0M298.1 71.7h0M298.5 80.9h0M296.5 71.1h0M302.2 62h0M300.6 59.9h0M302.4 138.9h0M296.5 61.3h0M298.2 128.8h0M300.6 165.5h0M297 78.4h0M300.5 69.5h0M299.7 63.2h0M297 74.7h0M299.8 74h0M302.7 98.8h0M299.8 63.3h0M296.2 95.8h0M296.1 101.8h0M299.5 56.5h0M302.4 132.4h0M297.9 95.9h0M298.4 61.4h0M299.7 68.8h0M299.9 111.1h0M297.7 70.5h0M299.3 114h0M300.7 69.3h0M301.5 170.2h0M299.6 111.8h0M298.2 50.1h0M298 144.2h0M299.2 182.6h0" stroke="#e5381a" stroke-opacity="0.46" stroke-width="2.9" stroke-linecap="round" fill="none"/><path d="M298.4 88.7h0M302.6 90.8h0M299.8 134h0M299.2 97.1h0M297.9 81.4h0M297.1 48.4h0M299.5 94.5h0M299.2 75.5h0M300.9 64.3h0M302.1 80.3h0M297.1 58h0M299.3 103.7h0M300.5 34.7h0M300.5 86h0M299.8 105.6h0M300.6 60.7h0M299 96.6h0M300.6 85.6h0M301.8 88h0M301.9 55.7h0M300.1 68.6h0M301.2 116h0M299 52.7h0M298.9 58.1h0M299.8 57.4h0M303.3 63.3h0M297.9 135.3h0M297.2 59.3h0M298.9 109.2h0M298.4 70.1h0M297.4 99.7h0M296.4 59.5h0M299.9 105.4h0M302.2 104.4h0M297.6 50.1h0M299.9 71.6h0M299.9 70.1h0M300.4 51.9h0M297.7 88.5h0M301.1 119.8h0M298.3 111.4h0M301.1 49.7h0M296.2 95.1h0M298.3 77.5h0M302 75.1h0M298.7 173.1h0M300.3 49.9h0M300.1 129.1h0M300.3 78.5h0M299.6 139.6h0M298.4 35.2h0M296.6 101.4h0M299.3 118.5h0M300 75.4h0M296.2 85.9h0M301.5 108.2h0M298 90.8h0M302.4 96.9h0M299.9 64.8h0M297.5 165.3h0M298.4 83.3h0M297.1 148.3h0M299.3 108.9h0M298.7 80.1h0M300 52.4h0M302.1 39.3h0M301.5 78.5h0M299.7 65.6h0M299.4 79.2h0M300.5 127.3h0M300.3 66.8h0M298.4 57.5h0M298.6 84.3h0M298 100.6h0M302.3 89.3h0M299.5 71.6h0M301 85.2h0M299.1 87.6h0M299.3 71h0M299.8 137.8h0M299.2 91.7h0M300.8 62.1h0M301.6 55.3h0M300.1 66.3h0M300.5 68.1h0M298.7 101.8h0M301 62.5h0M300.9 108h0M298.6 72.7h0M301.4 156.7h0" stroke="#e5381a" stroke-opacity="0.46" stroke-width="2.9" stroke-linecap="round" fill="none"/><path d="M300 82.5h0M299.8 82.8h0M302.6 74.9h0M298.3 44.1h0M300.6 68.2h0M300.3 62.4h0M301.5 122.8h0M303 106.4h0M296 85h0M299.1 59.4h0M301.5 91.7h0M301.5 84.9h0M298.8 96.3h0M299.4 74.4h0M299.5 59.5h0M295.8 76.5h0M299.2 74.4h0M297.3 113h0M295.8 79.7h0M298.7 80.8h0M298 117.7h0M295.6 53.3h0M296.1 43.5h0M301.7 95.9h0M301.5 62.1h0M303.3 73.4h0M299.2 66.2h0M299.9 71.4h0M299.2 114.4h0M301.8 64.4h0M302.4 107.9h0M301 74h0M300.4 86.6h0M296.6 107.4h0M299.6 59.3h0M299.8 125.6h0M298.8 103.2h0M300.7 53h0M303.5 134.7h0M298.4 66.1h0M297.8 79h0M302.9 95.7h0M298.6 46.2h0M301.4 85.8h0M298.3 62.7h0M299 57.4h0M299.4 91.5h0M304.1 74.2h0M300.5 116.8h0M297.6 70.2h0M302.1 62.7h0M297.9 138.4h0M299.9 64.1h0M303.1 58.3h0M295.6 44.2h0M298.9 61.9h0M301.1 70.8h0M298.7 74.2h0M298.5 120.1h0M303.3 88.8h0M296.6 67.7h0M302.8 75.2h0M301.3 111.5h0M300.4 57.1h0M299.5 65.4h0M300.3 72.7h0M301.1 74.7h0M300.6 102.7h0M297.2 107.4h0M299.6 93.7h0M298.5 78.1h0M299.9 70.7h0M298.5 101.5h0M300 103h0M297.4 97.9h0M301.5 109.5h0M299.6 73.6h0M303.3 59.7h0M299.6 110.9h0M299.1 82.7h0M298.8 71.1h0M300.1 119.7h0M300.7 95.3h0M299.5 70.5h0M302.8 64.4h0M299.7 42.9h0M297.6 61.5h0M298.9 106.4h0M299.9 93.6h0M299.7 170.1h0" stroke="#e5381a" stroke-opacity="0.46" stroke-width="2.9" stroke-linecap="round" fill="none"/><path d="M301 99.1h0M301.2 76.7h0M296.9 64.7h0M300.2 61.2h0M300.1 103.5h0M300.3 100.1h0M298.5 101.4h0M298.1 108.1h0M301.6 95.7h0M301.6 52.3h0M302 74.4h0M298.3 66.8h0M299.5 59.8h0M297.7 66.4h0M297.8 130.6h0M300.2 59.5h0M302.9 95.3h0M297.9 64.5h0M303.1 145.7h0M296.1 84h0M297.3 70.4h0M300.7 41.3h0M296.7 49.3h0M300.8 75.3h0M297.9 68.8h0M297.2 70.8h0M301.6 66.4h0M301.2 70.4h0M303.2 72.4h0M300.1 47.5h0M296.8 54.8h0M300.6 49.3h0M297.5 55.5h0M296.1 69.5h0M298.1 74.6h0M299.6 129.3h0M302 68.3h0M300.1 93.8h0M302.7 86.6h0M298.2 130.3h0M299.3 81.3h0M298.6 99.4h0M298.4 115.2h0M299.6 124h0M300.8 122.7h0M301.1 86.1h0M300.9 102h0M298.3 75.5h0M300.8 75h0M300.3 63.5h0M302.6 59.7h0M301 66.7h0M301.1 71.3h0M299.5 107.5h0M298.8 89.9h0M300.6 50.2h0M298.6 75.1h0M299.3 94.4h0M296.8 68h0M301.6 148.3h0M299.3 74.2h0M299.8 94.8h0M302.1 62.3h0M300 90.5h0M299.9 56h0M299.6 79.8h0M296.3 120.8h0M302.5 70.4h0M302.4 66.7h0M300.7 63h0M299.2 100.5h0M299.3 90.5h0M300.7 69.9h0M300.9 123.4h0M298.2 62.1h0M302.1 93h0M303.1 87.4h0M300.2 63.2h0M296.6 60.7h0M300.7 50.9h0M302 58.5h0M301.4 79.9h0M297.5 61.9h0M297.3 62.8h0M300 44.7h0M299.9 104h0M297.1 98h0M298.6 74.2h0M299 106.3h0M297.1 178.9h0" stroke="#e5381a" stroke-opacity="0.46" stroke-width="2.9" stroke-linecap="round" fill="none"/><path d="M299.1 58.1h0M302.6 76.1h0M299.2 108.6h0M296.3 67.7h0M299.3 77.6h0M303.9 121.4h0M299.5 74.5h0M301.4 85.5h0M298.9 46.8h0M301.7 92h0M300.5 89.8h0M302.6 90.2h0M300.3 49.5h0M301.7 59.7h0M300.7 73.1h0M300.7 125.6h0M298 86.3h0M300.9 67.7h0M300.4 124.9h0M298.1 57.3h0M302.2 72.2h0M301.4 64.1h0M298.8 105.4h0M297.1 93.7h0M299.1 76.7h0M300.2 76.7h0M302.7 106.4h0M299.7 57h0M298.9 49.8h0M298.9 99.7h0M301.8 70.1h0M299.4 83.7h0M297.7 47.7h0M299.5 72.8h0M299 71.8h0M297.3 136.3h0M298.4 68.3h0M300.8 43.8h0M301.2 126.5h0M299.9 72.9h0M299.9 74.5h0M300.4 75.2h0M301.4 99.1h0M296.4 65.6h0M299.7 125.1h0M301.1 58.9h0M301.9 69.3h0M299.5 48.9h0M297.3 82.4h0M298.8 114h0M300.2 71.2h0M299.5 98.3h0M299.6 72.3h0M300.6 114.1h0M303 71.1h0M302.7 157.5h0M299.2 83.6h0M297.4 72.3h0M298.9 70.8h0M301.7 67.3h0M295.6 84.9h0M297.8 111.2h0M298 95.8h0M299.9 79.5h0M300 129h0M299 100h0M299.8 77.8h0M299.6 61.1h0M298.4 88.4h0M300.1 60.2h0M302 68.6h0M302.8 73.1h0M299.1 116.2h0M303.7 75h0M302.3 49.6h0M301.5 72.3h0M300.7 81.4h0M297.3 135.4h0M298.6 82.4h0M300.6 75.3h0M302.3 54.6h0M299.9 82.4h0M301.3 69.3h0M300 76.9h0M298 95.4h0M299 58.3h0M297.9 36.4h0M299.4 108h0M300.6 177.9h0M298.3 163.5h0" stroke="#e5381a" stroke-opacity="0.46" stroke-width="2.9" stroke-linecap="round" fill="none"/><path d="M299.7 64.6V31.5M299.7 97.1V149.1" stroke="#e0302a" stroke-width="1.0"/><rect x="295.6" y="64.6" width="8.2" height="32.6" fill="#fff4ea" fill-opacity="0.5" stroke="#e0302a" stroke-width="1.25"/><path d="M295.6 75.6H303.8" stroke="#e0302a" stroke-width="1.6"/><path d="M310 97.7h0M311.1 85.1h0M315 92.3h0M314.1 101.9h0M312.5 84.9h0M308.9 83.5h0M312.6 97.2h0M310.1 89.9h0M312.8 108.9h0M313.4 85.5h0M312.7 101.4h0M311.1 115.5h0M311.2 122.2h0" stroke="#4462bd" stroke-opacity="0.46" stroke-width="2.9" stroke-linecap="round" fill="none"/><path d="M309.7 108.9h0M313.3 88.1h0M311.6 89.4h0M307.7 100.8h0M312.2 98.3h0M312.1 101.3h0M311.9 83.8h0M308.9 107.8h0M312.2 104.3h0M312.1 90.6h0M307.6 107.1h0M311.5 79.4h0M311 122.7h0" stroke="#4462bd" stroke-opacity="0.46" stroke-width="2.9" stroke-linecap="round" fill="none"/><path d="M310.6 87.9h0M312.1 104.5h0M310 110h0M309.4 103h0M311.9 81.7h0M310.8 84h0M311.3 95.3h0M314.2 95.4h0M311.9 83.1h0M311.7 98h0M312.3 86.7h0M309.8 89.3h0" stroke="#4462bd" stroke-opacity="0.46" stroke-width="2.9" stroke-linecap="round" fill="none"/><path d="M310.2 89.1h0M311.6 86h0M313.6 84.7h0M311.5 81.6h0M311.1 124.6h0M311.4 89.5h0M313.4 103.2h0M311.8 100.3h0M313 108.6h0M313.2 112.1h0M310.7 107.9h0M311.8 89.9h0" stroke="#4462bd" stroke-opacity="0.46" stroke-width="2.9" stroke-linecap="round" fill="none"/><path d="M310.7 85.9h0M311.2 106.1h0M308.7 83.7h0M308.7 73.9h0M308.3 83.2h0M311.3 100.2h0M313.3 114.1h0M309.1 113h0M311.5 89.3h0M311.9 93.8h0M313.9 90.9h0M315.2 112.3h0" stroke="#4462bd" stroke-opacity="0.46" stroke-width="2.9" stroke-linecap="round" fill="none"/><path d="M311.7 85h0M311.4 72.3h0M310 114h0M313.8 108h0M311.5 104.3h0M311.7 104.3h0M310.4 97.9h0M309.7 90.7h0M310.9 83.6h0M312.4 90.9h0M313.3 101h0M308 96.8h0" stroke="#4462bd" stroke-opacity="0.46" stroke-width="2.9" stroke-linecap="round" fill="none"/><path d="M311.5 88.6V68.7M311.5 103.3V121.9" stroke="#2d53a8" stroke-width="1.0"/><rect x="307.4" y="88.6" width="8.2" height="14.7" fill="#ffffff" fill-opacity="0.5" stroke="#2d53a8" stroke-width="1.25"/><path d="M307.4 95.2H315.6" stroke="#2d53a8" stroke-width="1.6"/><path d="M323 169.3h0M325.1 184.1h0M323 158.8h0M324.1 198.9h0M319.7 163.4h0M323.3 184.5h0M325.2 176.6h0M322.4 195.4h0M321.5 185.1h0M323.1 153.5h0M322.7 167.4h0M321.6 157.7h0M320.8 173.2h0M322.7 152.4h0M321.2 185.4h0M323.2 174.5h0M320.5 172.5h0M323.7 129h0M324.2 156.5h0M326.6 168h0M322.3 177.6h0M325 183h0M327.1 168.7h0M326 141.3h0M324 182.9h0M325 153.9h0M324.1 187.4h0M320.2 158.2h0M321.5 175.9h0M321.2 189.8h0M325.1 153h0M322.6 143.6h0M322.3 175.9h0M321.1 177.1h0M326 191.9h0M326 147.5h0M322.5 146.4h0M322.8 168.3h0M322.2 176.2h0M321.4 199.3h0M324.5 191.6h0M325.3 154.7h0M324.3 142.5h0M323.2 172.2h0M320.7 140h0M322.4 178.6h0M324.6 175.3h0M321.3 158h0M325.1 156.5h0" stroke="#e5381a" stroke-opacity="0.46" stroke-width="2.9" stroke-linecap="round" fill="none"/><path d="M325.4 174.9h0M322.5 165.6h0M324.6 173.6h0M323.8 150.2h0M324.3 179.5h0M327.3 170.1h0M322.6 152.2h0M325.9 161.6h0M326.4 177.9h0M322.3 152.3h0M324 156.5h0M322 154h0M322.8 152.4h0M323 174h0M324.4 139.1h0M321.9 154.2h0M324.9 151.1h0M322.3 156h0M321.8 183.3h0M324 130.8h0M322.8 170.5h0M323.6 191.8h0M324.7 127.4h0M321.4 169.2h0M321.8 168.8h0M320.5 178.4h0M322.4 156.1h0M324.2 197.7h0M321.4 154.3h0M322.6 164h0M327.1 188.1h0M321.1 175.4h0M325.8 175.3h0M324.9 169.7h0M322.8 169.4h0M326.7 186.1h0M323.8 142.9h0M320.7 177.1h0M322.3 195.7h0M327.2 154.9h0M324.1 167.4h0M323.1 169.2h0M326.7 177.8h0M320.4 173.3h0M322 176.8h0M324.3 161.3h0M323.4 175.9h0M320.7 197.3h0M325.7 149.6h0" stroke="#e5381a" stroke-opacity="0.46" stroke-width="2.9" stroke-linecap="round" fill="none"/><path d="M321.5 191.5h0M322.5 115.6h0M323.3 185.6h0M321.5 190.6h0M323.9 170.9h0M322.6 150.6h0M323.3 155.6h0M323.4 142.7h0M325.4 173.9h0M324.5 179.8h0M323.2 130.6h0M324.2 183.8h0M326.1 170.5h0M321.5 188h0M323 167.4h0M324 155h0M322.2 165.5h0M320.7 180.4h0M320 180.9h0M320.6 151.7h0M321.3 153.4h0M321.5 198h0M323.7 186.6h0M324.5 143.4h0M324.1 170.7h0M321.4 179.7h0M324.2 161.1h0M324.3 164.5h0M320.5 188.6h0M323 159.8h0M319.8 145.4h0M324.8 180.9h0M324 163.3h0M321.3 173.5h0M322 169.9h0M321.3 124h0M323.5 138.6h0M321.9 135.6h0M319.4 179.3h0M324.9 133.1h0M325.3 171.9h0M324.7 173.4h0M322.2 152.4h0M322.3 165.2h0M323.1 191.7h0M319.8 182.3h0M320.6 163h0M323.9 150.8h0M324.8 77.9h0" stroke="#e5381a" stroke-opacity="0.46" stroke-width="2.9" stroke-linecap="round" fill="none"/><path d="M322.5 184.6h0M323.8 154.6h0M319.5 191.3h0M322.3 141.7h0M322.1 136.7h0M322.6 189.5h0M323.1 184.8h0M324.7 144.9h0M322.3 156.3h0M320.9 173.8h0M324.7 166.3h0M323.7 166.2h0M326.5 173.8h0M325.9 181.1h0M321.1 171.1h0M326.2 185.9h0M323.5 152.5h0M323.4 139.1h0M320.7 172.2h0M324 179.6h0M320.7 163.9h0M324.5 176.2h0M321.7 173.2h0M325.7 187.1h0M321.9 157.4h0M326.1 175h0M323.1 153.7h0M323 152.8h0M322.4 168.5h0M321.7 178.8h0M326.3 195.7h0M323.6 191.7h0M325.2 167.8h0M322.8 169.8h0M321.2 160.8h0M321.9 177.5h0M320.5 158.6h0M325.2 131.3h0M323.7 176.6h0M326.4 170.4h0M323 178.5h0M323 150h0M326.3 135.9h0M321.9 167h0M323.7 159.8h0M320.5 145h0M319.5 166.5h0M323.2 177.2h0M321.8 82.6h0" stroke="#e5381a" stroke-opacity="0.46" stroke-width="2.9" stroke-linecap="round" fill="none"/><path d="M321 163.2h0M323.3 177.7h0M324.8 171.8h0M326.6 163.5h0M324.2 179.1h0M323.4 163.4h0M322.6 171.9h0M320.6 179.5h0M322.2 168.5h0M321.5 171.5h0M322.5 174.4h0M322.2 156.9h0M322.2 171h0M324.7 185.7h0M322.8 143.5h0M324.1 120h0M326.4 121.8h0M323.3 180.9h0M323.6 161.5h0M324 179.2h0M323.5 149.3h0M325.5 167.6h0M323.5 176.7h0M323.2 130.6h0M323.5 189.9h0M322.7 153.1h0M323.4 167.7h0M325.4 167.8h0M320.6 177.4h0M324.5 188.7h0M321.8 162.8h0M321.7 150h0M322.9 144.4h0M322.4 153h0M321.3 167.5h0M323.3 185.2h0M323.3 167h0M320.7 168.1h0M320.6 168.5h0M320.6 150.7h0M321.3 134.7h0M319.8 171.8h0M322.7 154.5h0M326.8 173.5h0M321.2 167.3h0M325.7 132.9h0M321.8 156.9h0M326.9 190.5h0M321.3 96.8h0" stroke="#e5381a" stroke-opacity="0.46" stroke-width="2.9" stroke-linecap="round" fill="none"/><path d="M324.1 170.2h0M326.7 191.4h0M323.9 168.4h0M324 172.9h0M325.1 153.6h0M320.1 188.6h0M321.1 166.4h0M324.8 176.5h0M325 185h0M324.5 196.7h0M325.4 172.2h0M323.6 142.2h0M324 164.3h0M323.2 154.6h0M325.4 175.7h0M324.2 190.1h0M322.3 151h0M321.1 150.3h0M322.8 142.5h0M322.7 167.6h0M322.5 180.2h0M322.3 172.1h0M324.7 183.6h0M323.3 122.7h0M319.3 159.2h0M322.4 178.7h0M322.5 147.1h0M322 138.8h0M325.7 184.8h0M322.1 182.8h0M324.3 154.9h0M319.4 170.5h0M325.2 151.3h0M321.1 163.9h0M323.2 169.6h0M325.9 152.4h0M323.8 160.6h0M322.4 172h0M323.5 184.5h0M324.6 187.2h0M322.9 137.6h0M319.8 137.7h0M323.6 183.3h0M324.3 150.1h0M323.5 158.8h0M320.6 182.5h0M324 173.2h0M323.3 180.9h0M323.2 112h0" stroke="#e5381a" stroke-opacity="0.46" stroke-width="2.9" stroke-linecap="round" fill="none"/><path d="M323.2 154.4V121.4M323.2 179.2V201" stroke="#e0302a" stroke-width="1.0"/><rect x="319.1" y="154.4" width="8.2" height="24.7" fill="#fff4ea" fill-opacity="0.5" stroke="#e0302a" stroke-width="1.25"/><path d="M319.1 168.2H327.4" stroke="#e0302a" stroke-width="1.6"/><path d="M335.6 104.1h0M337.4 104.1h0M337 101h0M338.5 108.2h0M335.6 92.9h0M333.8 85.4h0" stroke="#4462bd" stroke-opacity="0.46" stroke-width="2.9" stroke-linecap="round" fill="none"/><path d="M331.6 88.4h0M336.2 106.5h0M336.4 111.3h0M334.4 101h0M334.1 100.8h0M332.2 96.2h0" stroke="#4462bd" stroke-opacity="0.46" stroke-width="2.9" stroke-linecap="round" fill="none"/><path d="M333.3 105h0M333.8 103h0M337 98.7h0M333.4 99.7h0M338 114h0" stroke="#4462bd" stroke-opacity="0.46" stroke-width="2.9" stroke-linecap="round" fill="none"/><path d="M334.9 90.8h0M333.1 94.4h0M333.4 95.8h0M336.8 110.5h0M335.9 105.3h0" stroke="#4462bd" stroke-opacity="0.46" stroke-width="2.9" stroke-linecap="round" fill="none"/><path d="M333.5 108.4h0M333.8 101h0M336.3 97.1h0M335.3 111.2h0M335.1 99.3h0" stroke="#4462bd" stroke-opacity="0.46" stroke-width="2.9" stroke-linecap="round" fill="none"/><path d="M333.6 86h0M336.6 92.5h0M337.1 104.8h0M332.1 93.1h0M335.2 93.7h0" stroke="#4462bd" stroke-opacity="0.46" stroke-width="2.9" stroke-linecap="round" fill="none"/><path d="M335 93.5V83.7M335 108.4V118.9" stroke="#2d53a8" stroke-width="1.0"/><rect x="330.9" y="93.5" width="8.2" height="14.9" fill="#ffffff" fill-opacity="0.5" stroke="#2d53a8" stroke-width="1.25"/><path d="M330.9 103.7H339.1" stroke="#2d53a8" stroke-width="1.6"/><path d="M350.1 217.1h0M348.7 212.8h0M344.9 197.7h0M346.2 212.8h0M344.8 199.6h0M346 215h0M346.1 213.8h0M347.5 197.8h0M348.7 211.7h0M347.9 210.2h0M346.7 207.2h0M347.5 213.9h0M349 201.8h0M345.4 206.4h0M348.9 199.2h0M345.5 207.8h0M346.3 212.9h0M344.1 207.8h0M346.6 210.8h0M346 212.6h0M344.7 210.8h0M350.1 205h0M345.9 213h0M347.9 207.6h0M346.7 206h0M344.7 193.4h0M347.6 200.1h0M349.5 208h0M346.3 213h0M348 185.4h0" stroke="#e5381a" stroke-opacity="0.46" stroke-width="2.9" stroke-linecap="round" fill="none"/><path d="M348.7 202.7h0M348.4 213.6h0M345.4 201.5h0M346.3 208.7h0M349.1 216h0M348.8 197.5h0M348.5 212.9h0M344.3 204.1h0M348.1 216.1h0M347.4 207.9h0M349 212.5h0M345.8 208h0M346.4 215.7h0M346.9 198.3h0M348.5 213.6h0M345.5 206.6h0M345.6 213.4h0M346.7 212.4h0M346.2 202.5h0M346.3 200.7h0M344.3 202.8h0M344.4 213.7h0M347.8 214.5h0M346.9 200.2h0M347.1 200.5h0M347.6 216.9h0M345.7 216.4h0M344.1 214.5h0M347.2 203.7h0M349.4 164.8h0" stroke="#e5381a" stroke-opacity="0.46" stroke-width="2.9" stroke-linecap="round" fill="none"/><path d="M346.4 207.4h0M345.8 213.9h0M345.5 200.6h0M347.4 213.1h0M347.7 208.9h0M345.9 205.7h0M346.8 215.4h0M347.3 213.2h0M345.8 213.6h0M347 203.7h0M347.6 209.3h0M347.1 211.4h0M344.6 211h0M345.2 208.5h0M345.8 206.2h0M348.1 215.5h0M345.6 198.7h0M346.5 207.8h0M347.3 213.3h0M350.3 215.8h0M346.3 202.7h0M345.9 213.8h0M346.1 204.9h0M344.5 215.8h0M345.7 213.4h0M349.6 215.3h0M347.4 213.4h0M348.8 205.3h0M345.6 216.1h0" stroke="#e5381a" stroke-opacity="0.46" stroke-width="2.9" stroke-linecap="round" fill="none"/><path d="M342.9 204.5h0M349.9 215.8h0M347.7 207.2h0M346.1 216.5h0M346.8 202.6h0M346.2 212.5h0M347.2 214.1h0M345.9 215.4h0M346.7 213.3h0M348.5 215.9h0M349.3 205.8h0M346.3 212.1h0M346 216.8h0M349.6 207.7h0M347.2 202.3h0M347.4 207.5h0M344.8 214.4h0M345.5 202.2h0M349.3 214.1h0M346.2 210.1h0M346.7 214.7h0M348.6 213.1h0M347.7 201.1h0M345.9 214.9h0M344.7 216h0M347.8 206.9h0M348.1 211h0M345.7 215h0M346.2 205.8h0" stroke="#e5381a" stroke-opacity="0.46" stroke-width="2.9" stroke-linecap="round" fill="none"/><path d="M349.7 203.1h0M349 202h0M347.4 211.2h0M348.9 215.1h0M346.7 196.1h0M347.2 205.4h0M345.1 209.2h0M346.5 214.8h0M344.1 216.5h0M348.9 211.7h0M346.3 214.6h0M346.6 217.1h0M347.6 211.7h0M345.9 194h0M344.4 214.8h0M347.6 209.6h0M343.5 214h0M346.3 215.5h0M344.4 199.4h0M344.6 210.3h0M348.2 214.3h0M349.4 200.6h0M345.9 204h0M347.7 217h0M346.8 214.4h0M347.8 210.6h0M343.7 213.9h0M347.3 216.5h0M346.4 208.1h0" stroke="#e5381a" stroke-opacity="0.46" stroke-width="2.9" stroke-linecap="round" fill="none"/><path d="M346.8 197.9h0M344.3 205.8h0M346.2 214.7h0M347 214.3h0M343.3 214.1h0M348.1 214.6h0M348.7 210.4h0M342.9 214.8h0M349.5 213.5h0M344.6 216.9h0M344.1 207.8h0M345.3 203h0M343.9 204.9h0M346.3 214.7h0M346 215.8h0M349.7 209.7h0M349.9 213.5h0M350.2 205.6h0M347.2 215.1h0M347.7 216h0M345.8 216.6h0M343.2 215.8h0M348.4 207.7h0M349.7 209.1h0M345.1 216.7h0M345.7 205.5h0M349.8 216.3h0M351 216.1h0M350 178.5h0" stroke="#e5381a" stroke-opacity="0.46" stroke-width="2.9" stroke-linecap="round" fill="none"/><path d="M346.8 205.6V190M346.8 216.4V217.1" stroke="#e0302a" stroke-width="1.0"/><rect x="342.7" y="205.6" width="8.2" height="10.8" fill="#fff4ea" fill-opacity="0.5" stroke="#e0302a" stroke-width="1.25"/><path d="M342.7 212.7H350.9" stroke="#e0302a" stroke-width="1.6"/><path d="M361.4 112.4h0M362.3 130.5h0M359.2 118.8h0M356.2 156.2h0M358.9 98.7h0M358.8 85.8h0M359.8 132h0M355.8 134.8h0M359.7 97.9h0M358.5 164h0M358.4 141.9h0M358.9 108.3h0M359.6 141.1h0M357.2 118.4h0M359.5 98.6h0M356.6 111.7h0M361.8 149.5h0M360.2 103.6h0M356.7 128.3h0M359.7 128.7h0M355 111.8h0M362.1 125.9h0M359.3 158h0M356.2 150h0M354.6 120.8h0M359.2 159.8h0M359.2 106h0M359.2 94.3h0M358.1 98.1h0M358.4 143h0M355 93h0M359.6 148.6h0M359.9 105.4h0M355.2 129.9h0M357.6 151.7h0M359.5 94.6h0M354.5 150.2h0M359.4 131.6h0M359.2 111.2h0M356.3 135.6h0M355.4 111h0M361.4 120h0M358.1 71h0M358.8 152.1h0M360.1 129.5h0M358.6 106.4h0M359 104.4h0M355.8 148.9h0M357.1 117.1h0M359 127.5h0M355.5 158.1h0M358.6 118.2h0M358.5 117h0M357.3 140.1h0M358.9 137.3h0M361.1 109.3h0M357.9 92.8h0M356.7 135.6h0M356.1 123.7h0M358.5 117.4h0M359.5 136.7h0M361.7 108.5h0M357 128.2h0M357.8 87.7h0M361.7 147.3h0M359.5 130.4h0M359.3 75.3h0M359.1 107.3h0M357.2 122.6h0M360.2 137.9h0M357.1 131.3h0M360.6 149.8h0M356.6 137.6h0M360.1 124.1h0M354.7 122.2h0M358.4 105.9h0M356 115h0M355 139.6h0M356.2 116.6h0M356.8 141.1h0M357.7 107.6h0M357 137.3h0M357.6 149.4h0M356 150.4h0M360 128.5h0M355.6 92.2h0M359.3 60h0M358.7 50.7h0M359.6 185.1h0" stroke="#e5381a" stroke-opacity="0.46" stroke-width="2.9" stroke-linecap="round" fill="none"/><path d="M357.3 113.9h0M358.3 149.4h0M359.5 150.4h0M359.2 95.6h0M358.3 167.8h0M361.3 138.5h0M358 118.8h0M361.7 132.5h0M360.4 122h0M358.3 119.7h0M357.6 135.4h0M356.6 116.2h0M360.9 97.8h0M360.2 120.9h0M356.9 126.2h0M354.6 140.3h0M362.1 86.2h0M360.1 145.7h0M359 90.4h0M357.4 106.1h0M359.3 107.5h0M357.9 133.8h0M358.6 99.9h0M359.1 139.8h0M358.7 116.9h0M360 115.2h0M358.5 129.4h0M359.8 114.1h0M362 110.6h0M360.1 108.4h0M357.9 123.4h0M355.8 97.6h0M357 86.3h0M361 158.2h0M361.9 165.2h0M358.6 161.2h0M356.5 138h0M358 169.1h0M357.5 116.2h0M360.8 123.8h0M360.6 103.5h0M359.8 115.3h0M356.9 146.7h0M359.3 96.9h0M359.3 108.3h0M355.9 133.2h0M359.1 109.1h0M356.2 70h0M357.5 164.4h0M358.9 128.7h0M358.4 134.2h0M358.3 168.8h0M356.5 146.5h0M358.2 115.8h0M360.9 130.9h0M357.8 95.1h0M358.2 124h0M358.9 137h0M358.2 103.3h0M359.2 113.8h0M358.3 77.5h0M354.7 127h0M358.1 152.3h0M358.9 116.4h0M361.5 124.1h0M358.1 129.1h0M360.7 106h0M359.1 66.5h0M359.7 112.4h0M359.7 138.1h0M360.7 121.2h0M357.8 89h0M359.2 163.1h0M357.6 151.1h0M358.8 108.8h0M355.4 146.7h0M358.9 97.2h0M360.7 122.6h0M358.6 135h0M358.3 86.7h0M358.8 91.9h0M356.5 126h0M357.8 103.6h0M361.7 123.3h0M361.2 112.9h0M361 70.5h0M360.2 52.8h0M360.4 53.5h0M360.4 188.2h0" stroke="#e5381a" stroke-opacity="0.46" stroke-width="2.9" stroke-linecap="round" fill="none"/><path d="M359.6 136.3h0M357.5 139.4h0M360.7 132.6h0M358.2 115.7h0M358.6 121h0M356.3 117.6h0M359.9 128.4h0M357.9 153.4h0M358.7 148.2h0M360.1 92.2h0M358.1 118.2h0M358.1 132h0M358.7 101.7h0M359.1 123.3h0M360.1 145.9h0M359.2 144.8h0M355.9 109h0M356.7 112.8h0M357.2 102.2h0M360.8 138.4h0M357.7 96.6h0M356.2 133.8h0M360.2 147.8h0M361.1 86.9h0M360.4 139h0M359.3 120.6h0M359.3 95h0M361.2 96.9h0M358.4 138h0M360.6 105.7h0M362 173.5h0M359.2 117.8h0M358.2 146.5h0M359.9 124.3h0M356.2 81.1h0M360.8 133.3h0M357.8 126.3h0M360.1 77.1h0M357.1 138.3h0M354.8 118.5h0M356.4 159.1h0M357.3 110.8h0M359.1 129.7h0M359.6 149.3h0M357.8 139.8h0M361.6 130.7h0M357.5 139.3h0M356.5 111.6h0M358.2 113h0M359 89.2h0M361.7 152.8h0M357.5 157.2h0M356.7 160h0M362.1 152h0M360.4 114.3h0M356.1 85.8h0M358.8 116.1h0M358.6 105h0M359.5 105.5h0M360.1 135.1h0M357.4 97.7h0M358.7 117h0M361.9 140.9h0M359.2 120.9h0M358.6 155.3h0M360.7 123.4h0M357.7 108h0M361.6 152.6h0M359.4 124h0M360.9 97.8h0M356.8 125.2h0M357.4 138.5h0M356.7 144.1h0M359.8 127.8h0M358 113.9h0M361.5 147.2h0M357.4 111.1h0M355.3 124.1h0M359.1 133h0M357.1 127.7h0M358.4 146.6h0M356.7 157h0M361.1 125.1h0M359.9 76.6h0M356.9 180.4h0M360.9 110.1h0M358.1 54.3h0M360 181.5h0M361.7 185.4h0" stroke="#e5381a" stroke-opacity="0.46" stroke-width="2.9" stroke-linecap="round" fill="none"/><path d="M357.3 86.2h0M355.9 156.2h0M357.6 137.4h0M357 157.2h0M362.2 142.2h0M356.4 106.1h0M359.3 172.4h0M357.1 149.6h0M362.4 95.2h0M356.5 131.9h0M361.8 139.2h0M358.8 130.1h0M360.2 131h0M355.2 105.5h0M356.6 111.3h0M355.7 129.3h0M358.6 120.6h0M359.2 149.3h0M359.7 153.2h0M361.5 164h0M357.7 118.6h0M359.8 103.5h0M359 131.1h0M354.7 100.3h0M358.6 92.3h0M359.4 94.1h0M357.4 77.9h0M358.9 110.6h0M355.8 123.1h0M359.1 148.8h0M361.4 101.2h0M358.2 114.8h0M359.2 125.3h0M360.3 139.4h0M355.1 126.4h0M358 117.6h0M358.2 114.3h0M361.2 132.5h0M359 159.3h0M361.5 95.5h0M357.2 110.5h0M361.8 98.7h0M356 131.4h0M359.6 66.8h0M357 120.9h0M357.8 152h0M358.5 114.1h0M355.5 108.4h0M360.4 115.1h0M357.8 129h0M357 121h0M357.9 102h0M360.4 90.4h0M355.9 153.3h0M358.3 135.3h0M361.3 166.4h0M357.7 144.1h0M356.8 101.2h0M358.1 99.1h0M360.2 113.9h0M358.3 118h0M358.5 157.5h0M358.3 106.6h0M358.3 136.5h0M358.3 102.3h0M355.7 165.8h0M358.2 146h0M356.6 146.8h0M359.6 121.5h0M357.6 131h0M356 110h0M360.8 157.1h0M360.1 146.5h0M356.3 109.4h0M358.6 136.1h0M360.4 127.8h0M361.4 148.1h0M360.6 101.3h0M356 94.7h0M359 137.8h0M359.6 133.1h0M359.2 141.5h0M360 129.3h0M358.6 121.7h0M362.2 150.4h0M357 115.2h0M357.7 52.7h0M358.1 187.8h0M360.1 187.2h0" stroke="#e5381a" stroke-opacity="0.46" stroke-width="2.9" stroke-linecap="round" fill="none"/><path d="M359.3 119.1h0M357.9 119.2h0M357 102h0M359.6 94.2h0M357.8 129.3h0M356.2 110.2h0M358.3 101.8h0M359.9 162.3h0M357.2 130.5h0M354.9 137.3h0M358 103.4h0M355.5 130.7h0M358.7 88.4h0M358.3 132.3h0M354.6 125.5h0M361 127.8h0M355.6 118.7h0M358.5 102.3h0M361 138.7h0M356.9 143.3h0M358.2 128.1h0M357.7 91.3h0M358.2 111h0M358.4 143h0M357.5 131.9h0M358.1 179.4h0M358.6 104.5h0M359.4 138.4h0M361.5 91.7h0M362.2 145h0M358.3 124.1h0M359.2 116h0M359.3 133.4h0M356 139.6h0M357.7 143.8h0M358 141.8h0M358.9 122.8h0M356.6 130h0M356.1 127.5h0M362.4 126.9h0M356.7 119.7h0M356.4 124h0M361.4 107h0M358.8 138.2h0M360.4 123.3h0M358.4 126.7h0M357.5 95h0M357.6 69h0M357.6 140.5h0M356.6 127.1h0M359.2 170.8h0M361.9 152.3h0M357.1 135.7h0M355.9 146.2h0M355.6 103.4h0M361.7 86.1h0M360.1 103.3h0M354.9 107h0M359.1 120.6h0M359.1 141.7h0M355.3 151.9h0M361.6 156h0M354.3 133h0M359.2 97.2h0M356.2 137.1h0M358.8 147.1h0M361.2 104.3h0M359.3 129.4h0M359.6 114.9h0M361.2 141.6h0M359.3 103.8h0M359.5 164.5h0M355.3 102.1h0M357.1 120.4h0M360.8 94.8h0M359.9 141.2h0M355 103.3h0M360.7 92.2h0M360.1 114.1h0M358.7 124.3h0M357.8 89.9h0M355.9 142.8h0M357.8 103.8h0M358.9 112.5h0M357 136.6h0M355.4 109h0M360.7 59.8h0M356.2 186h0" stroke="#e5381a" stroke-opacity="0.46" stroke-width="2.9" stroke-linecap="round" fill="none"/><path d="M358.5 128.4h0M356.3 125.3h0M359.1 155.6h0M360.8 91.1h0M361.3 157.5h0M355 114.6h0M356.9 137.1h0M359.6 113.4h0M361.7 157.8h0M358.9 129.5h0M356.5 144.7h0M357.3 87.1h0M358.3 174.7h0M355.7 127.7h0M361.3 135.8h0M355.3 122.6h0M359.8 177.4h0M356.4 135.2h0M359.8 119.5h0M358.7 127.7h0M355.4 107.8h0M355.7 95h0M357.3 152.3h0M361.8 120.7h0M358.3 105.9h0M360.6 111.6h0M360.4 106.1h0M359.4 146.2h0M356.9 160.4h0M358.5 120.1h0M359 133.5h0M356.9 114.2h0M359.5 87h0M361.3 133.3h0M358.7 110.1h0M359.4 113.9h0M354.4 138.3h0M359.5 117.9h0M356.5 140.9h0M356.5 160.8h0M358.1 135.4h0M358.4 123.9h0M355.3 99.6h0M355.7 99.6h0M357.7 121.7h0M355.8 134.3h0M362 128.2h0M357.3 140.9h0M354.9 142h0M357.7 127.5h0M359.5 147.9h0M359.3 123.9h0M355.3 112.5h0M356.5 137.3h0M358.9 138h0M358.2 161.7h0M359.5 108.8h0M358.1 131.9h0M358.6 138.8h0M360 118.1h0M358.8 150.1h0M355 121.2h0M361.7 111.2h0M360.3 154.7h0M358.7 112.2h0M356.1 133.9h0M358.5 96.6h0M359 144.7h0M358.9 106.9h0M355.3 117.6h0M356.2 141.6h0M355.1 124.6h0M358.3 118.7h0M360.2 100.9h0M359 116h0M358.3 110.4h0M360 137.9h0M359.3 128.4h0M360.2 114.2h0M357.4 109.2h0M362.3 74.4h0M359.1 126.1h0M358.1 129.6h0M356.4 128.1h0M362.3 129.6h0M359.5 91.1h0M359.9 46.5h0M359.5 184.9h0" stroke="#e5381a" stroke-opacity="0.46" stroke-width="2.9" stroke-linecap="round" fill="none"/><path d="M358.5 108.9V64.6M358.5 138V180.9" stroke="#e0302a" stroke-width="1.0"/><rect x="354.4" y="108.9" width="8.2" height="29.1" fill="#fff4ea" fill-opacity="0.5" stroke="#e0302a" stroke-width="1.25"/><path d="M354.4 123.6H362.6" stroke="#e0302a" stroke-width="1.6"/><path d="M373.1 191.8h0M369.5 161.4h0M370.5 171h0M368.2 112.2h0M372.8 127.2h0M373 195.1h0M368.9 188.2h0M368.8 152h0M372.2 130.9h0M372.7 190.6h0M371.1 144.9h0M368.7 201.1h0M371.4 177.4h0M371.9 189h0M370.8 158.9h0M370 148.5h0M370.1 145.5h0M369.4 171.8h0M373.2 176.6h0M366.6 134.8h0M371 154.2h0M368.7 186.5h0M369.1 168h0M369 155.3h0M370.3 161.1h0M367.5 149h0M371.6 151.1h0M373.2 175.1h0M373.8 167h0M370.1 131.9h0M370.4 141.5h0M373.2 140.6h0M370.4 176.6h0M369.4 156.8h0M372 135.5h0M369.9 151.8h0M374 189.3h0M371 139.4h0M368.7 138.4h0M369 157.2h0M372.8 141.4h0M370 110.1h0M368.2 174.4h0M369.9 130.3h0M368.7 164.5h0M370.1 133.4h0M367.9 169.9h0M369.5 146.7h0M368 163.3h0M367.4 151.8h0M366.8 183.4h0M369.9 137.1h0M374.6 133.3h0M368.5 144.1h0M368.7 155h0M367.5 157h0M370.9 118.4h0M368.4 118.3h0M368.8 138.5h0M371.1 165.1h0M370.8 133.7h0M368.2 135.8h0M372.4 99.7h0M368.6 207.9h0" stroke="#e5381a" stroke-opacity="0.46" stroke-width="2.9" stroke-linecap="round" fill="none"/><path d="M370.8 158.5h0M372.2 113.4h0M373.5 147.9h0M367.1 136.5h0M369.3 142.5h0M368.7 148.5h0M368.6 142.2h0M367.8 147.3h0M370.1 153.9h0M368.3 161.1h0M372.2 161.1h0M373.6 174.9h0M373.2 132.1h0M370.3 177.6h0M371.6 174.2h0M371.6 141.9h0M367.8 146.7h0M369.8 184.7h0M368.4 154.8h0M370.2 118.2h0M368 125.3h0M371.6 181.4h0M372.6 160.4h0M372.1 161.5h0M368.4 162.9h0M370.8 137.5h0M373 175.8h0M369.4 129h0M372.9 186h0M371.1 157.2h0M368.2 171.8h0M373.8 146.7h0M372.5 196.4h0M372 145.3h0M370.7 135.1h0M370.2 100.9h0M371.4 139.5h0M369.2 173.7h0M372.3 171.6h0M370.8 162.8h0M370.2 153.3h0M373.3 162.8h0M374.4 174.6h0M369.6 117.8h0M372.1 144.6h0M373.7 169.2h0M371.9 137.6h0M369.6 138.3h0M372.2 109.2h0M368.6 134h0M368.6 190.1h0M369.3 160h0M370.5 182.1h0M370.2 142.2h0M374.6 125h0M369.7 137.1h0M372.3 158.7h0M369.8 142h0M371.1 126.9h0M374 136.2h0M369.8 161h0M368.8 151.5h0M371.5 87.2h0M368.1 210.7h0" stroke="#e5381a" stroke-opacity="0.46" stroke-width="2.9" stroke-linecap="round" fill="none"/><path d="M371.4 131.9h0M368.7 161.7h0M367.5 143.3h0M370.9 138.7h0M373.5 135.6h0M374.1 145.9h0M371.5 107h0M368.7 179.3h0M371.3 131.2h0M371.4 179.7h0M370.9 154.5h0M368.9 129.8h0M371.5 155.4h0M368.9 136.5h0M370.6 166.5h0M370.8 148.6h0M370.7 171.5h0M370.1 164.3h0M373.8 138.9h0M368.8 173.1h0M373.2 155.8h0M369.8 135.9h0M369.9 177.8h0M369.2 142.9h0M370.4 179.2h0M369.6 125.3h0M368.7 135h0M368.5 165.6h0M367.2 176.1h0M374 130.7h0M368.2 181.2h0M371.4 158h0M371.1 152.2h0M371 116.1h0M372.4 174.2h0M366.8 166.3h0M367.6 133.6h0M368.8 153.6h0M371.5 101.7h0M369 169.8h0M370.5 136.8h0M371.4 124.1h0M367.9 165.9h0M369.2 173.1h0M369.5 148.4h0M370.2 186.9h0M368.8 158.9h0M368.6 151.6h0M370.1 119.7h0M371.2 162.9h0M371.1 162.1h0M373.2 150.4h0M370.8 122.6h0M374.4 182h0M369 156.7h0M368.4 143.4h0M369.8 150.1h0M368 157.5h0M368.7 149.3h0M368.5 108.7h0M370.3 153.3h0M370.2 119.5h0M373.9 91.3h0M372.6 207h0" stroke="#e5381a" stroke-opacity="0.46" stroke-width="2.9" stroke-linecap="round" fill="none"/><path d="M369 135.5h0M370.5 153.6h0M368.5 131.1h0M370.4 200.5h0M372.3 161.1h0M370.2 171.4h0M367.2 115.7h0M372.4 167.7h0M369.3 163.6h0M368.9 162.5h0M368.3 128.4h0M370.5 170.3h0M373.3 165.7h0M373 177.8h0M371.7 147.7h0M368.4 141.5h0M366.9 187.3h0M370.5 145.9h0M371.1 154.7h0M374.4 170.6h0M369.9 185.2h0M370.9 150.5h0M370.6 158.2h0M370.4 129.6h0M371.4 152.2h0M371.7 190.2h0M366.5 134h0M370.7 190.5h0M373.1 156.6h0M368.7 156.9h0M372.1 172.9h0M373 135.5h0M367.2 176.1h0M370.3 149.8h0M368.2 139.4h0M369.9 160.1h0M369.9 116h0M366.8 161.5h0M370.6 136.6h0M371.1 123.2h0M369.5 166.5h0M373.3 155.6h0M373.9 140.3h0M371.2 131.5h0M369.7 163.9h0M367 175.1h0M372.4 160.8h0M373.1 119.6h0M372 174.9h0M373 185.8h0M372.7 189.9h0M370.2 138.8h0M369.4 165.2h0M370.3 170.5h0M369.1 132.7h0M372.9 139.7h0M370.4 157.8h0M369.4 147.1h0M370.3 136.9h0M373 159.2h0M368.6 110.5h0M368.5 184.3h0M372 88.3h0M372.7 206.6h0" stroke="#e5381a" stroke-opacity="0.46" stroke-width="2.9" stroke-linecap="round" fill="none"/><path d="M368.8 184.7h0M370.2 158.2h0M371 170.4h0M374.1 124.7h0M369.9 129.7h0M370 145.2h0M369.8 175.3h0M370.5 124h0M368.6 163.4h0M371.5 150.3h0M368 156.4h0M371.8 174.4h0M370.6 193.5h0M372.1 142.6h0M369.2 172.8h0M370.7 145.4h0M367.6 152.6h0M371.8 135.2h0M372.5 131.8h0M370.3 139.6h0M372.5 172.3h0M370 127.4h0M370 157h0M371 131.1h0M373 154.1h0M368.9 166.3h0M371.4 142.8h0M373.8 151h0M369.4 203.3h0M367.8 175.8h0M366.6 128.3h0M371.4 170.4h0M368.3 179.1h0M367.5 143.8h0M371.6 146.7h0M369.6 151.4h0M370.6 164.6h0M369.3 149.5h0M366.4 165.8h0M373.9 132.4h0M371.9 107.1h0M371.4 117.2h0M367.6 145.3h0M368.3 103h0M369.5 154.8h0M366.9 149.5h0M368.9 148.7h0M371 177.4h0M374 162.3h0M371.2 139.8h0M370.1 143.9h0M371.5 157.2h0M371 163.6h0M372.3 145.8h0M371.4 129.5h0M369.7 170.1h0M371.5 133.9h0M372 128.6h0M373.4 121h0M367.6 143.1h0M370 137.9h0M371.8 150.7h0M370 92.4h0M372.1 207.5h0" stroke="#e5381a" stroke-opacity="0.46" stroke-width="2.9" stroke-linecap="round" fill="none"/><path d="M373.1 175h0M367.8 147h0M368.4 134.1h0M368.2 112.3h0M368 147.8h0M372.5 148h0M370.7 179h0M374.2 148.1h0M368.5 171.8h0M370.9 149.7h0M370.2 152.8h0M369.2 132.5h0M371.9 124.8h0M372.4 154.3h0M370.8 140h0M370.4 135.7h0M370.6 132.9h0M372.3 159.9h0M370.1 163.5h0M366.7 142.7h0M369.7 124.4h0M373.3 174.3h0M367.1 134.9h0M369.7 147.7h0M371.4 117.9h0M373.8 158.2h0M369.8 138.9h0M371.4 144.5h0M369.5 131.4h0M368.3 139.9h0M371 159.6h0M370.9 154.7h0M374.1 141h0M373 177h0M371 157.8h0M374 157.1h0M369.2 178.3h0M367 162.3h0M371.7 172.5h0M371.3 174.8h0M366.7 151.9h0M372.9 157h0M371.7 150.9h0M370.7 165.5h0M368.7 118.3h0M371.1 168.8h0M372.6 121.7h0M370.2 175.3h0M369.8 141.3h0M367.9 126h0M369.9 176h0M370.8 173.1h0M371.3 144.6h0M366.5 145.1h0M374 145.6h0M369.9 143h0M373.9 193.5h0M369.7 145h0M368.7 140.8h0M369.4 143.6h0M367.1 165h0M371.2 96.4h0M371.6 209h0" stroke="#e5381a" stroke-opacity="0.46" stroke-width="2.9" stroke-linecap="round" fill="none"/><path d="M370.3 138.5V100.8M370.3 166.4V204.2" stroke="#e0302a" stroke-width="1.0"/><rect x="366.2" y="138.5" width="8.2" height="27.9" fill="#fff4ea" fill-opacity="0.5" stroke="#e0302a" stroke-width="1.25"/><path d="M366.2 153.2H374.4" stroke="#e0302a" stroke-width="1.6"/><path d="M381 132.8h0M380.1 139.8h0M381.1 137.3h0M380.7 146.7h0M382.1 146.2h0M379.1 150.7h0M382.7 147.5h0M385.5 139.1h0M382 146h0" stroke="#4462bd" stroke-opacity="0.46" stroke-width="2.9" stroke-linecap="round" fill="none"/><path d="M379.4 144.5h0M382.3 136.9h0M379 136.6h0M381.7 153.7h0M380 125.5h0M382.7 136.1h0M383.2 147.2h0M380.7 129.9h0M381.2 168.8h0" stroke="#4462bd" stroke-opacity="0.46" stroke-width="2.9" stroke-linecap="round" fill="none"/><path d="M381.5 137.4h0M384.8 132.6h0M382.4 145.9h0M381.5 145.4h0M381 137.9h0M380.4 157.3h0M382.8 142.6h0M382.1 154h0M379.8 166h0" stroke="#4462bd" stroke-opacity="0.46" stroke-width="2.9" stroke-linecap="round" fill="none"/><path d="M382.6 144h0M384.4 135.8h0M381.1 148.1h0M384.6 147.1h0M378.3 151.9h0M382.1 142.4h0M379.8 131.2h0M380 131.7h0M380.9 167.5h0" stroke="#4462bd" stroke-opacity="0.46" stroke-width="2.9" stroke-linecap="round" fill="none"/><path d="M379.6 125.2h0M381.7 142.1h0M380.2 144.3h0M383 136.5h0M381.2 131.3h0M385.2 136.8h0M382.6 161.5h0M381.1 151.2h0" stroke="#4462bd" stroke-opacity="0.46" stroke-width="2.9" stroke-linecap="round" fill="none"/><path d="M378.6 140.6h0M383.3 141.3h0M383.4 137.7h0M385.5 147.4h0M381.7 145.7h0M379.7 135.3h0M380.8 134.6h0M382.5 139.1h0" stroke="#4462bd" stroke-opacity="0.46" stroke-width="2.9" stroke-linecap="round" fill="none"/><path d="M382 135.6V120.6M382 149.5V162.8" stroke="#2d53a8" stroke-width="1.0"/><rect x="377.9" y="135.6" width="8.2" height="14" fill="#ffffff" fill-opacity="0.5" stroke="#2d53a8" stroke-width="1.25"/><path d="M377.9 141.7H386.1" stroke="#2d53a8" stroke-width="1.6"/><path d="M397.1 112.6h0M393.7 150.4h0M393.3 116.7h0M392.6 110.7h0M395.7 144.2h0M393.1 153.2h0M394.9 124.9h0M394.6 120.7h0M394.2 151.5h0M392.9 151.9h0M390.4 166.7h0M394.6 131.4h0M394 125.2h0M391.5 150.5h0M392.7 154.8h0M392.6 129.3h0M395 155h0M392.9 126.9h0M392.8 134.9h0M395.2 103.2h0M394.2 112.2h0M394.6 125.7h0M392.7 157.7h0M393.2 135.6h0M391.4 174h0M395.9 132.6h0M391.9 135.1h0M392.7 163.5h0M391.1 163h0M395.3 126.5h0M391.7 127.7h0M392.9 130.5h0M390 140.9h0M392.9 112.1h0M395.1 137.6h0M391.8 191.6h0M394.5 118.5h0M395 127.4h0M393.6 109.4h0M395.3 116.1h0M392.3 161.8h0M393.1 155.6h0M393.7 151.2h0M392.6 170.7h0M394 98.2h0M391.2 165h0M392.1 110.1h0M396.6 116h0M390.6 141.1h0M392.6 119.1h0M394.2 125.8h0M392.9 147.8h0M391.3 158.6h0M396.6 101.2h0M393.8 150.9h0M396.2 145.5h0M393.2 158.4h0M393.2 168.8h0M395.4 100h0M392.8 148.4h0M391.5 140.5h0M392.8 135h0M396.8 150.1h0M393.4 145.4h0M392.4 120.6h0M393.8 114.4h0M394.1 111.7h0M392.7 135.7h0M392.7 157.2h0M392.7 155.7h0M391.6 124.8h0M392.6 130.6h0M395.9 132.5h0M393.2 139.1h0M391.1 163.9h0M396.6 159h0M391.4 137.4h0M391.9 112.2h0M396.3 130.6h0M395.6 120.6h0M395.1 129.6h0M393.7 122h0M393.7 136.2h0M393.1 158.7h0M392.4 100h0M393.6 138.6h0M392.4 77.5h0M392.9 82.3h0M395.9 194.3h0" stroke="#e5381a" stroke-opacity="0.46" stroke-width="2.9" stroke-linecap="round" fill="none"/><path d="M391.1 128.9h0M393.9 113.6h0M396.8 133.2h0M394 143.2h0M393.7 124.6h0M393.6 152.3h0M395.2 130h0M395.6 130.3h0M391.1 127.4h0M395.1 148.1h0M392.5 149.1h0M392.6 125.5h0M393 104.6h0M392.3 108.3h0M393.2 123.8h0M392.4 150.2h0M394.7 136h0M393.8 149.9h0M394.9 124h0M392 174.3h0M395.5 128.8h0M394.3 125.4h0M391.2 124.3h0M393.5 137.6h0M395.9 125.3h0M395 144.9h0M396 128.8h0M394.2 132.5h0M393.4 120.3h0M397.3 168.3h0M391.9 146.6h0M394.1 135.6h0M391.5 159.4h0M395.3 101.8h0M393 92.9h0M395.8 148.7h0M392.6 130.5h0M391.7 191.8h0M394 128h0M394.4 126.9h0M391.6 125.5h0M391.1 129.1h0M394.6 119.4h0M393.8 137.9h0M395.6 141.9h0M395.6 152.1h0M393.7 117.2h0M397.1 132.5h0M393.4 131.4h0M396.6 137.8h0M392.1 138.2h0M390.4 109.8h0M392.5 110.7h0M391.3 137.1h0M390.8 132h0M392.5 126.9h0M392.4 123.9h0M395 117.7h0M393.6 139.7h0M393.7 114.1h0M394.7 148.7h0M396.6 137h0M390.9 127.2h0M393.7 159.8h0M393.3 150.9h0M392.6 143.7h0M395.2 149.9h0M391.5 119.3h0M395 133.1h0M397.4 134.1h0M391.2 130.5h0M393.1 176h0M394.2 112.8h0M392.3 149.5h0M396.9 138.8h0M391.5 140h0M393 145h0M394.5 164.7h0M393.8 147.4h0M393.7 115.6h0M393 141.2h0M394.4 127.6h0M391.5 107.7h0M393.7 116.1h0M393.8 137.5h0M391.3 170.7h0M391.5 72.4h0M394.9 188.5h0M393.8 191.3h0" stroke="#e5381a" stroke-opacity="0.46" stroke-width="2.9" stroke-linecap="round" fill="none"/><path d="M394 170.9h0M396.3 136.6h0M394.1 155.4h0M393.8 141.6h0M392.2 131.7h0M395 147h0M395.1 123.3h0M392.5 148.4h0M396.2 154.6h0M394.7 138.8h0M396.5 103.5h0M395.7 148.2h0M390.2 118.5h0M394 145.8h0M392.8 162.5h0M394.9 122h0M393.9 106.9h0M395.9 136h0M392.6 150.2h0M393.1 162.1h0M390 138.6h0M395 169.6h0M394.3 117.1h0M393 153.5h0M397 164.2h0M394.4 99.7h0M391.3 143h0M395.4 141.7h0M396.8 126.8h0M393.3 138.7h0M390.3 116.4h0M394.2 126.8h0M395.1 127.3h0M395.7 114.3h0M393.2 138.3h0M392.9 106.2h0M396 134.4h0M392.7 137.5h0M394.4 135.8h0M391.2 116.6h0M396.2 141.1h0M395.3 109.7h0M391.7 156.1h0M395.7 155.1h0M392.5 137.8h0M397 144.9h0M394.2 143.2h0M394.1 81.5h0M390.5 122.1h0M394 124.7h0M394 101h0M393.6 167.7h0M391.7 172.8h0M395.8 148.4h0M395.4 159.9h0M396 114h0M395.3 131.4h0M395.7 140.1h0M393.9 123.7h0M395.5 134.2h0M393.7 146.6h0M393.1 128.3h0M394 149.3h0M391.7 109.2h0M391.2 156h0M394.8 120.4h0M394.5 100.2h0M395 167h0M393.2 132.5h0M394.9 148.5h0M396.2 113h0M390.6 156.3h0M395.4 142.7h0M396.5 105.5h0M395.1 124h0M390 122.3h0M392.9 125h0M396.1 110.4h0M393.8 124.9h0M392.4 129.6h0M392 142.5h0M394.4 134.1h0M396 162.4h0M392.1 126.5h0M394.4 147.7h0M394.8 175.8h0M395 74.6h0M395.1 193.2h0M391.9 191.5h0" stroke="#e5381a" stroke-opacity="0.46" stroke-width="2.9" stroke-linecap="round" fill="none"/><path d="M393.8 144.4h0M393.4 133.3h0M394.8 148.1h0M394.3 103.6h0M394.4 152.3h0M396.6 161.2h0M391.6 165.3h0M394.9 115.9h0M394.5 140.6h0M392.7 140.1h0M395.8 138.6h0M395.9 116.6h0M397 137.7h0M394.2 181h0M395.1 132.7h0M394.7 146.9h0M396.7 113.4h0M394.6 163.5h0M395.2 167.4h0M393 131.1h0M392.6 148.2h0M391.5 152.1h0M392.3 102.5h0M393 122.1h0M392.5 159.6h0M393.2 160.9h0M393 119.1h0M395.1 129.7h0M391.2 172.1h0M392.9 142.5h0M392 138.2h0M393.8 151.8h0M392.8 153.3h0M390.3 124.3h0M393.4 104.4h0M391.9 107.5h0M396.2 117.4h0M393.2 92h0M393.9 115.4h0M393.5 142.4h0M394.4 131.3h0M391.9 151.2h0M396.9 137.3h0M393.7 152.1h0M394.8 156.8h0M395.4 129h0M393.6 169.2h0M392.8 122.5h0M390.4 113.7h0M396.3 110.6h0M395.3 149h0M394.2 161h0M392.7 116h0M393.1 131.3h0M396.5 149.3h0M393 105.8h0M396.6 136.4h0M394.6 135.7h0M393.9 167.7h0M392.1 135h0M396.6 144.5h0M395.6 157.7h0M395.2 159.3h0M396.8 136h0M392.3 139.9h0M394.2 139h0M393.6 160.6h0M393.5 137.1h0M395.7 155h0M396.3 139.7h0M396.4 155h0M395.1 129.8h0M396.6 150.5h0M394.4 141.2h0M397.8 141.3h0M393.4 156.7h0M394.8 145h0M396.2 145.3h0M393.7 116.8h0M396.1 130.9h0M394.2 180.5h0M393.9 141.8h0M393.2 147.5h0M393.7 138.8h0M393.2 115.7h0M393.5 136.4h0M394.5 77.7h0M394.8 192.4h0" stroke="#e5381a" stroke-opacity="0.46" stroke-width="2.9" stroke-linecap="round" fill="none"/><path d="M393.4 182.8h0M394.1 123.5h0M394.2 142h0M394.9 77.4h0M394.2 111.9h0M393 122.1h0M392.4 134.7h0M392.6 111.3h0M396.6 123.2h0M395.6 160.3h0M396.5 144.7h0M395.2 143.6h0M391.4 157.5h0M395.6 130.1h0M393.2 140.4h0M392.1 135.1h0M395.6 150.4h0M395.6 125.3h0M394.8 161.7h0M392.4 136.5h0M395.8 140.9h0M395 150.6h0M391.4 147.5h0M396 176.2h0M395 137.7h0M392.1 153.1h0M393.4 130.7h0M396.8 155.5h0M396 129.7h0M394.6 168.7h0M392.7 84.2h0M395.7 149.7h0M392.6 135.6h0M396.2 126.3h0M393.2 139h0M394.9 148.6h0M392.8 161.5h0M394.7 136.1h0M392.1 143.1h0M394.4 102.8h0M395.4 134.4h0M392.2 98.5h0M394.1 156h0M393.7 172.9h0M396.6 144h0M393.5 141.5h0M394 138.8h0M393.6 152.9h0M394.4 106.6h0M393.8 154.2h0M390 154.5h0M397.5 129.7h0M395.9 153h0M393 99.6h0M395.6 147h0M395.6 168.7h0M390.9 146.4h0M395.1 130.1h0M395.2 143.8h0M393.4 134.8h0M395.8 139.8h0M395.3 154.2h0M393.3 164.3h0M391.2 153.3h0M392.8 122.5h0M390.8 127h0M392.1 130.3h0M392.1 117.2h0M391.6 110.9h0M391.3 131.6h0M393.3 134.8h0M392.9 125.1h0M394.3 107.6h0M390.7 151.4h0M390.9 145.7h0M394.3 109.6h0M390.4 131.6h0M395.1 130.2h0M396.5 146.9h0M392.4 126.8h0M396.6 170h0M391.5 125.4h0M397.2 140.8h0M392.5 111.5h0M390.9 126.4h0M391.9 118.2h0M393.3 86.8h0M394.1 193.4h0" stroke="#e5381a" stroke-opacity="0.46" stroke-width="2.9" stroke-linecap="round" fill="none"/><path d="M392.3 163.5h0M393 154.3h0M392.9 126h0M393.7 133.8h0M391.1 89.7h0M391.9 164.5h0M395.9 132.2h0M390.5 111.9h0M395 164.5h0M394.3 139.9h0M394.3 107.6h0M395.6 120.8h0M395.5 143.1h0M393 121.9h0M395.4 131.4h0M395.3 110.3h0M394.4 149.2h0M394.2 168.1h0M390.5 174h0M392.7 117.7h0M392.9 119.3h0M391.9 147.8h0M394.9 139.3h0M395.4 146.6h0M390.9 157.4h0M394.3 126.4h0M393.6 111.9h0M391.7 121.7h0M394.5 174.7h0M393.8 173.1h0M395.6 103.2h0M393.6 105.3h0M394.7 115.1h0M393.8 131.1h0M396.4 113.3h0M394.1 138h0M395.7 105h0M392 164.9h0M392.4 137.7h0M392.9 162.7h0M396.9 138.1h0M396.6 104.7h0M395.4 145.2h0M394.3 134.1h0M393 151.4h0M395 129.6h0M393.6 133.6h0M393.4 154.7h0M395.8 109.3h0M395.2 122.6h0M394.7 136.5h0M395.6 121.3h0M391.4 145h0M394.3 134.7h0M394.5 123.7h0M391.5 137.2h0M392.8 154.8h0M390.9 121.1h0M393 149.9h0M392.8 140.6h0M391.2 172.2h0M392.9 121h0M397.4 148h0M391.7 107.8h0M395.3 163.1h0M395.5 124.1h0M394.3 123.3h0M392 135.9h0M392.7 146.3h0M393.2 144h0M394.6 131.2h0M394.2 135.4h0M391.7 124.4h0M389.9 111.9h0M395.2 127.7h0M395.1 139.9h0M396.1 112.1h0M393.7 134h0M395.1 136.3h0M393 142.4h0M391.9 129h0M391.5 143.7h0M395.5 172.5h0M394.5 154.9h0M391.2 132.5h0M397.5 80.6h0M395.6 82.2h0M394.5 188.8h0" stroke="#e5381a" stroke-opacity="0.46" stroke-width="2.9" stroke-linecap="round" fill="none"/><path d="M393.8 124.3V87.3M393.8 150.3V186.3" stroke="#e0302a" stroke-width="1.0"/><rect x="389.7" y="124.3" width="8.2" height="26" fill="#fff4ea" fill-opacity="0.5" stroke="#e0302a" stroke-width="1.25"/><path d="M389.7 137.3H397.9" stroke="#e0302a" stroke-width="1.6"/><path d="M401.9 64.4h0M406.5 52.3h0M404.2 61.3h0M409.1 54.2h0M406.6 69.3h0M407 67.8h0M409.1 54.6h0M409.1 78.4h0M406 61.7h0M407.2 74.8h0" stroke="#4462bd" stroke-opacity="0.46" stroke-width="2.9" stroke-linecap="round" fill="none"/><path d="M406.5 90.2h0M407.4 76.2h0M406.7 70.4h0M406.4 44h0M403.3 103.5h0M405.7 95.2h0M406.6 61.6h0M404.6 56.5h0M408.8 85.6h0M404.7 48.1h0" stroke="#4462bd" stroke-opacity="0.46" stroke-width="2.9" stroke-linecap="round" fill="none"/><path d="M404.3 42.9h0M405.9 89.4h0M406 62.6h0M408.4 79.3h0M406.2 82.4h0M405.9 65.8h0M403.6 52.1h0M404.4 62.1h0M407.6 91.2h0M404.9 48.6h0" stroke="#4462bd" stroke-opacity="0.46" stroke-width="2.9" stroke-linecap="round" fill="none"/><path d="M407.7 49.5h0M404 97.6h0M403.4 59.8h0M406.8 94.2h0M408.2 77.9h0M405.1 97.5h0M404.8 92.1h0M406.3 62.6h0M407.7 76.3h0M404.7 67.3h0" stroke="#4462bd" stroke-opacity="0.46" stroke-width="2.9" stroke-linecap="round" fill="none"/><path d="M405.3 97.6h0M407.7 86.7h0M404.3 82.1h0M407.6 82.2h0M406.9 86.6h0M405.5 69.9h0M406.8 102.8h0M403.8 100.9h0M407.5 48.3h0M406.8 63.4h0" stroke="#4462bd" stroke-opacity="0.46" stroke-width="2.9" stroke-linecap="round" fill="none"/><path d="M406 61h0M403.7 93.9h0M405.1 62.2h0M404.8 73.2h0M403.8 87h0M404.4 98.2h0M407.6 102.9h0M406.8 56.1h0M405.4 69.9h0" stroke="#4462bd" stroke-opacity="0.46" stroke-width="2.9" stroke-linecap="round" fill="none"/><path d="M405.5 61.9V44M405.5 89.1V109.1" stroke="#2d53a8" stroke-width="1.0"/><rect x="401.4" y="61.9" width="8.2" height="27.2" fill="#ffffff" fill-opacity="0.5" stroke="#2d53a8" stroke-width="1.25"/><path d="M401.4 73.1H409.6" stroke="#2d53a8" stroke-width="1.6"/><path d="M418.6 166h0M415.4 157.7h0M420.8 148.5h0M418 156.8h0M418.9 125.1h0M415.5 157.6h0M419.6 165.2h0M420.2 138.7h0M417.5 147.7h0M419.3 138.5h0M418 131.9h0M415.8 126.3h0M419.5 147.7h0M414.8 144.9h0M416.9 144.2h0M417.8 129.4h0M417.4 167.6h0M415.4 144.7h0M417.2 124.6h0M417 150.4h0M415.3 141h0M417.8 158.1h0M419.2 186.9h0M419.1 147.1h0M415.9 132.2h0M418.3 176.2h0M414.9 139.6h0M418.1 170.1h0M415.5 185.4h0M417.2 127.7h0M416.3 184.6h0M417.8 146.7h0M417.5 167.3h0M417.1 174.8h0M421 140.7h0M418.1 155.8h0M419.5 138.5h0M416 145.4h0M416.8 161.9h0M417.1 128.6h0M416.9 134.3h0M417.2 173.8h0M416.1 128.2h0M417.3 164.2h0M414.9 152.5h0M415 146.4h0M416.6 172.1h0M416 178.6h0M417 123.3h0M416 133.9h0M414.4 176h0M417.2 135.5h0M417.9 159.2h0M417.4 148.9h0M417.7 149.7h0M416 165.2h0M420.8 157.7h0M417.5 139.4h0M418.4 176.5h0M416.9 134.5h0M416.5 150.9h0M419.6 148h0M421.1 134.2h0M414.7 129.7h0M415.8 142.6h0M417 181.9h0M420 158.5h0M418.5 139.4h0M418.1 132.8h0M418.8 154.8h0M415.7 126.3h0M416.3 140.2h0M421.3 148.3h0M416.5 196.5h0M417.8 190.5h0M417.9 135.3h0M417.4 192.4h0M419 160h0M413.5 133.2h0M417.4 134.7h0M419 184.5h0M418.9 172h0M416 134.1h0M419.3 132.7h0M414.6 90.3h0" stroke="#e5381a" stroke-opacity="0.46" stroke-width="2.9" stroke-linecap="round" fill="none"/><path d="M414.3 158.2h0M417.6 149.3h0M417.6 151.3h0M419.2 133.7h0M416.8 180.2h0M417.4 148h0M418.5 135.3h0M416.8 166h0M417.4 158.2h0M418 152.8h0M420.1 136.4h0M415 150.3h0M419.9 166.7h0M414.4 173.5h0M416.7 144.8h0M417.3 159.5h0M417.5 166.6h0M416.8 157.7h0M415.7 119.5h0M419 151.9h0M418.8 120.4h0M416.2 160.6h0M418 140.2h0M420.1 153h0M415.9 140.7h0M418 188.7h0M418.4 150.7h0M417.5 161.9h0M415.6 176.9h0M414.8 131.4h0M416.1 146h0M419.3 132.5h0M416.9 148.1h0M414.2 183h0M418.2 170.6h0M418.4 127.5h0M420 186.9h0M416 186.8h0M416.4 131.8h0M415 151h0M415.1 139.6h0M417.9 167.5h0M417.3 122.3h0M415.8 112.3h0M414.7 196.1h0M417.1 171.2h0M417.9 146.8h0M418.1 147h0M416.8 143.7h0M416.8 151.1h0M417.3 116.1h0M419.2 172h0M414.6 156.8h0M416.7 149.1h0M416.2 172h0M417.4 129.8h0M417.3 170.3h0M414.3 150.8h0M417.4 160.5h0M416.6 164.8h0M416.5 160.7h0M419 143.9h0M418.9 116.3h0M414.6 177.8h0M417.5 157.3h0M415.9 141.5h0M415 162.4h0M416.7 162.4h0M414.9 158.3h0M420.6 144.2h0M417.5 172.5h0M416.4 166.3h0M415.4 136.6h0M419 173.2h0M416.7 177.5h0M416.8 172.7h0M414.7 132.5h0M416 191.2h0M414.9 172.9h0M419.5 137h0M418.2 147h0M417.8 151.1h0M415.2 138.6h0M416.2 146.4h0M420.5 95.1h0" stroke="#e5381a" stroke-opacity="0.46" stroke-width="2.9" stroke-linecap="round" fill="none"/><path d="M416.7 164.1h0M419.3 185.2h0M413.5 162.4h0M415 166.6h0M418.1 153.5h0M418.4 130.1h0M419.6 179.2h0M413.7 128.8h0M416.9 123.9h0M417.2 156.9h0M415.6 127.7h0M417.6 128.3h0M418.1 176.7h0M413.9 153.1h0M415.9 166.1h0M418.3 118.9h0M420 157.1h0M415.7 175.4h0M417.8 147h0M416.3 126.1h0M418.2 180.9h0M415.9 177.3h0M421 124.6h0M417.3 132.6h0M420.1 160h0M417.2 179.1h0M419.8 163h0M416.7 146.2h0M418 174.7h0M418.4 136.8h0M413.4 133.4h0M416.8 160.5h0M414.1 139.5h0M417.4 93.4h0M417.3 153.8h0M416.6 161.6h0M418.2 194.8h0M414.8 158.3h0M414.8 150.3h0M415.5 145.4h0M414.4 146.3h0M420.7 135.7h0M416.4 136.9h0M417.4 144h0M417.3 160h0M416.8 172.6h0M414.2 147.5h0M419.8 150.9h0M416.8 140.7h0M414.5 145.2h0M419.6 132.3h0M417.5 151.3h0M415.3 133.5h0M416.7 195.3h0M415.5 150.4h0M415.8 156.4h0M419.3 138.9h0M417.9 131.7h0M417.4 150.6h0M419.9 149.1h0M416.7 159.6h0M416.6 160.4h0M415.6 145.3h0M418.1 146.2h0M416.7 168.3h0M416.1 150h0M419.5 156.7h0M418.5 139.3h0M416.7 187.2h0M420.6 197.7h0M415.1 135.9h0M419.1 187.6h0M416 135.1h0M415.8 149.8h0M420.3 175h0M418.7 165.8h0M417 141.1h0M416.8 150.9h0M417.3 157.1h0M415.3 162.8h0M419.4 153.9h0M417.1 163.6h0M415.9 167.3h0M416.7 145.6h0M416.4 75.5h0" stroke="#e5381a" stroke-opacity="0.46" stroke-width="2.9" stroke-linecap="round" fill="none"/><path d="M421.2 132.9h0M417.2 162h0M416.7 134.7h0M418.1 142h0M419.5 172.1h0M420.6 148.7h0M415.1 147.3h0M417.4 160.2h0M416.7 171.4h0M416.1 175.9h0M413.9 145.6h0M416 181.5h0M417.3 153.5h0M415.9 168.5h0M417.5 126.3h0M417.4 137.7h0M417.7 129.1h0M415 179.7h0M414.8 138.7h0M419.5 153.5h0M418.7 131.8h0M415.6 115h0M418.6 144.2h0M419.9 170.1h0M417 186h0M416.8 170h0M417 152.9h0M416.2 169h0M419.2 166.2h0M420.2 153.8h0M418.1 147h0M417.1 187.1h0M418.5 109.1h0M419.5 139.9h0M418.9 156.2h0M417.8 159.8h0M415.7 127.4h0M415.2 126h0M416.4 146.5h0M417.7 154.1h0M416 152.3h0M419.4 144.4h0M414.4 114.4h0M420 144.1h0M418.3 171h0M419.1 138h0M419.3 136.8h0M419.8 158.1h0M419.8 146h0M415.2 157.5h0M416.4 136h0M413.4 149.4h0M416.3 131.1h0M416.6 168.3h0M416.9 153.5h0M417 133.4h0M419.2 177.6h0M417.6 116.1h0M419.5 151h0M413.9 171.8h0M417 184.8h0M416.5 154.6h0M415.1 161.2h0M416.7 165.9h0M419.2 155.7h0M421 151.8h0M414.6 150.1h0M418.2 151.1h0M418.3 138.7h0M418.8 138.7h0M420.3 112.8h0M416.9 147h0M416 145.2h0M415.4 143.1h0M415.7 164.3h0M413.4 163.5h0M418.9 141.8h0M418.5 152.6h0M416.4 166.6h0M417 196.8h0M416.2 144.8h0M417.4 172.7h0M414.8 188.9h0M417.2 94.4h0M413.5 102.6h0" stroke="#e5381a" stroke-opacity="0.46" stroke-width="2.9" stroke-linecap="round" fill="none"/><path d="M415.8 135.7h0M417.5 149.8h0M418.3 169.4h0M418.4 141.8h0M416.1 135.7h0M416.6 154.5h0M415.7 148.4h0M415.5 135.1h0M415.3 163.8h0M420.6 157.1h0M417 165.3h0M417.2 161.2h0M415.8 194.7h0M414.6 158.5h0M418.2 146.6h0M417.5 154h0M416.3 148.9h0M416.7 127.7h0M418.7 158.5h0M415.9 136.4h0M417 163.4h0M419.5 136.8h0M418.2 184.2h0M419.1 163.9h0M417.6 136.8h0M417 172.8h0M414.8 177.5h0M416.8 178.9h0M416.3 154.9h0M416.9 148.4h0M417.7 152.8h0M420.3 143.7h0M416.9 138.5h0M417.9 165.1h0M418.6 143.8h0M415.3 150.8h0M415.7 137.7h0M415.8 140.7h0M417 147.6h0M414.6 147h0M416.7 165h0M416.3 179.9h0M416.4 165.3h0M416.1 144.9h0M419.3 137.4h0M416.7 156.3h0M419.3 169.2h0M416.2 135h0M420.7 164.5h0M414.9 135.8h0M415.7 144.9h0M419.5 133.8h0M418.5 147.3h0M417.1 172.8h0M415.2 144.4h0M417.1 168.5h0M417.8 147.3h0M414.5 164.8h0M416.9 137.8h0M414.7 155h0M416.6 164.4h0M420.3 145.7h0M417.9 148.1h0M415.4 160.4h0M415.1 171.8h0M420.5 172.1h0M418 160.6h0M418.9 162.9h0M415.7 134.9h0M415.7 139.7h0M414.3 195.7h0M417.1 149.5h0M418 176.4h0M415 153.2h0M415.1 164.4h0M416 164.3h0M419.1 151.2h0M421.1 178.6h0M415.5 123.7h0M413.5 152.2h0M415 180.4h0M418.3 129.1h0M417.8 149.7h0M418.1 96h0M416.6 99.5h0" stroke="#e5381a" stroke-opacity="0.46" stroke-width="2.9" stroke-linecap="round" fill="none"/><path d="M417.7 167.8h0M417.6 178h0M415.3 145h0M418.3 133.1h0M414.1 129.2h0M417.6 182.5h0M417.9 152.3h0M416.8 162.9h0M418.9 127.6h0M419.2 146.1h0M415 158.5h0M413.2 166.9h0M420.9 163.1h0M416.3 148h0M419.8 164.2h0M416.9 161h0M416.5 153.4h0M417.4 157.1h0M416.3 154.2h0M418.6 149.7h0M415.8 148.3h0M416 156.2h0M417.4 161.6h0M417.1 199.1h0M415.1 178.8h0M416.2 132.9h0M419 145.2h0M418.3 134.3h0M413.6 161.9h0M417.3 163h0M420.7 137h0M419 136.6h0M417.3 156.1h0M417.3 158.6h0M417.9 137.1h0M419.4 157.3h0M417.8 165.9h0M417.2 114.3h0M416.2 138.5h0M419.6 167.9h0M418.2 170.5h0M418.4 170.9h0M420.7 144h0M417.1 164.9h0M417.7 127.6h0M417.7 156.2h0M415 151.6h0M417.9 175.7h0M421 161.7h0M416.1 139.2h0M416.9 151.7h0M418.5 174.6h0M417.2 131.9h0M418.5 143h0M415.9 162h0M417.8 155.7h0M421 193h0M415.4 151.4h0M416.8 142.9h0M418.5 153.7h0M419.6 163.4h0M416.9 169.1h0M421.2 131.5h0M416.5 147.2h0M416.3 121.6h0M417 161.4h0M420.3 144.4h0M415.9 144h0M420.1 173.5h0M415.7 138.2h0M420.8 159.6h0M417.3 166.5h0M414 158.6h0M416.6 153h0M419 114.8h0M415 163.1h0M420.1 144.9h0M418.3 196.4h0M417.6 182h0M419.1 154.7h0M418.1 167.9h0M418.4 163.6h0M420.1 141.4h0M416.6 102.7h0" stroke="#e5381a" stroke-opacity="0.46" stroke-width="2.9" stroke-linecap="round" fill="none"/><path d="M417.3 140.5V106.7M417.3 165.2V200.5" stroke="#e0302a" stroke-width="1.0"/><rect x="413.2" y="140.5" width="8.2" height="24.7" fill="#fff4ea" fill-opacity="0.5" stroke="#e0302a" stroke-width="1.25"/><path d="M413.2 152.2H421.4" stroke="#e0302a" stroke-width="1.6"/><path d="M426.7 64.3h0M430.6 68.2h0M429.1 92.3h0M428.3 58.1h0M430.3 86.1h0M429.9 69.7h0M428.8 71.8h0M432.6 54.2h0M432.4 88.8h0" stroke="#4462bd" stroke-opacity="0.46" stroke-width="2.9" stroke-linecap="round" fill="none"/><path d="M429.5 74h0M428.1 58.1h0M425.5 92.7h0M427.6 57.3h0M430.4 69.1h0M428.2 62.7h0M428.8 70.6h0M432.3 98.6h0M431.4 64.6h0" stroke="#4462bd" stroke-opacity="0.46" stroke-width="2.9" stroke-linecap="round" fill="none"/><path d="M427.6 94.9h0M428.7 104.3h0M427.9 71.1h0M428.3 51.8h0M427.6 61.3h0M429.7 76h0M426.8 48.3h0M429.7 62.1h0M431.4 75.4h0" stroke="#4462bd" stroke-opacity="0.46" stroke-width="2.9" stroke-linecap="round" fill="none"/><path d="M427.2 60.6h0M428.3 82.8h0M428 42.9h0M429.6 80.9h0M432.1 94.1h0M426.4 93.1h0M426.4 76.9h0M428.2 78.8h0" stroke="#4462bd" stroke-opacity="0.46" stroke-width="2.9" stroke-linecap="round" fill="none"/><path d="M430.5 56.9h0M427.3 87.2h0M425.2 92.2h0M427.6 55.1h0M429.2 101.4h0M429.7 55h0M429.5 91.1h0M429.3 58.9h0" stroke="#4462bd" stroke-opacity="0.46" stroke-width="2.9" stroke-linecap="round" fill="none"/><path d="M428.4 78h0M428.9 77.1h0M428.6 46.8h0M429.8 96h0M427.6 67.6h0M431.7 61.2h0M428.2 78.2h0M428.7 68.2h0" stroke="#4462bd" stroke-opacity="0.46" stroke-width="2.9" stroke-linecap="round" fill="none"/><path d="M429 63.8V39.6M429 84.9V109.1" stroke="#2d53a8" stroke-width="1.0"/><rect x="424.9" y="63.8" width="8.2" height="21.1" fill="#ffffff" fill-opacity="0.5" stroke="#2d53a8" stroke-width="1.25"/><path d="M424.9 75.6H433.1" stroke="#2d53a8" stroke-width="1.6"/><path d="M437.8 87.5h0M443.1 123.9h0M437.2 113.3h0M442.3 138.6h0M441.6 150.5h0M438.1 176h0M437.8 142.4h0M442.7 160.7h0M439.5 125.8h0M437.7 164.4h0M441.1 137.1h0M440.7 162.3h0M443 92.4h0M438.4 94.5h0M440.3 169.1h0" stroke="#e5381a" stroke-opacity="0.46" stroke-width="2.9" stroke-linecap="round" fill="none"/><path d="M438.2 165.4h0M437.8 130.3h0M438.7 179.2h0M443.1 162.2h0M438.1 142.4h0M438.1 195.4h0M439.2 174.9h0M443.4 148.6h0M441.8 84.7h0M442.4 191.9h0M443.3 132.2h0M440.6 163.4h0M437.2 180.8h0M441.4 149.5h0M440.2 154h0" stroke="#e5381a" stroke-opacity="0.46" stroke-width="2.9" stroke-linecap="round" fill="none"/><path d="M441.3 168.5h0M439.9 127h0M440.4 172h0M437.7 95.7h0M442.7 131.1h0M439.4 135.7h0M440.8 144.6h0M437.9 121.4h0M441.8 164.2h0M440 95.6h0M442.6 158.5h0M439.3 98.3h0M444.1 173.1h0M443.5 154.4h0M437.5 148.9h0" stroke="#e5381a" stroke-opacity="0.46" stroke-width="2.9" stroke-linecap="round" fill="none"/><path d="M442.8 106.5h0M442.8 183.2h0M438 197.4h0M441.2 139.7h0M444.2 104.7h0M440.6 141.8h0M440.8 149.9h0M440.5 90.7h0M440.3 121.6h0M442.7 137.2h0M440.5 199.6h0M443.8 166.8h0M442.8 174.6h0M441 163.3h0" stroke="#e5381a" stroke-opacity="0.46" stroke-width="2.9" stroke-linecap="round" fill="none"/><path d="M443.2 156h0M441.3 117h0M439.9 167.5h0M440.5 118.4h0M440.8 124.8h0M438.1 131.1h0M440.3 152.5h0M440.9 132.4h0M439.8 136.4h0M443 122.6h0M441.8 135.4h0M444.3 174.8h0M440.6 133.4h0M440.2 105.3h0" stroke="#e5381a" stroke-opacity="0.46" stroke-width="2.9" stroke-linecap="round" fill="none"/><path d="M442.6 190.2h0M439.5 163.4h0M438.2 107.2h0M443.4 134.8h0M440.7 114.1h0M442.5 173.4h0M443.6 136.1h0M437.9 116.9h0M441.5 87.9h0M439.5 132.2h0M441.6 149.6h0M439.8 122.8h0M440.5 126.8h0M440.6 163.3h0" stroke="#e5381a" stroke-opacity="0.46" stroke-width="2.9" stroke-linecap="round" fill="none"/><path d="M440.8 123.6V71.9M440.8 165.2V199.7" stroke="#e0302a" stroke-width="1.0"/><rect x="436.7" y="123.6" width="8.2" height="41.6" fill="#fff4ea" fill-opacity="0.5" stroke="#e0302a" stroke-width="1.25"/><path d="M436.7 148.6H444.9" stroke="#e0302a" stroke-width="1.6"/><path d="M454 170.5h0M450.3 142.6h0M456.4 146.5h0M452.7 164.7h0M450 162.8h0M452.7 149.7h0M450.7 157.5h0M450.8 133.1h0M452.1 158.4h0M452.2 174h0M452.3 134.7h0M455.1 153.2h0M452.8 179h0M456.2 141.5h0M450.2 154.1h0M451.6 155h0M454 154.8h0M454.4 148.4h0M454.2 147.2h0M450 154.8h0M453.6 182.7h0M451.8 166.2h0M452.4 131.3h0M451.9 166.9h0M451 173h0M451.4 165.6h0M450.7 132.6h0M453.6 156.1h0M452.9 168.5h0M453.1 166.7h0M455.9 158.8h0M451.2 181.1h0M454.7 182.1h0M449.3 167.7h0M455.2 150.1h0M451.8 133.6h0M452.8 179.2h0M451.3 133.8h0M451.9 165.4h0M451.3 129h0M454.1 166.1h0M451.7 172.9h0M452.1 156h0M452.5 131.5h0M454.7 144h0M451.4 130.5h0M451.9 125.8h0M450.2 166.4h0M451.1 168.7h0M453.4 132.9h0M451.5 166.1h0M452 190.8h0" stroke="#e5381a" stroke-opacity="0.46" stroke-width="2.9" stroke-linecap="round" fill="none"/><path d="M454 150.8h0M450.3 151h0M453.7 171.7h0M451.8 160.4h0M452.9 142.7h0M456.7 139.4h0M453.9 152.7h0M454.1 179.1h0M451.2 135.4h0M455.5 166.1h0M451.9 174.5h0M450.6 170.5h0M455.1 164.1h0M453.8 164.2h0M452 117.6h0M449.6 134.7h0M450 152h0M452.9 149.1h0M452.4 137.9h0M449.1 185h0M453.5 149.8h0M453.7 162.4h0M453.9 166.1h0M451.8 143.6h0M451.1 168.2h0M454 152.1h0M453.5 164.2h0M450.7 164.4h0M451.3 125.4h0M452.1 134.7h0M453 148.6h0M454.3 164.8h0M455.4 157.5h0M452.4 142.9h0M450.8 173.5h0M452.7 144.3h0M455.5 132h0M456.8 144.3h0M455 163.5h0M452.5 131.8h0M452 114.2h0M452.4 160.3h0M451.6 144.6h0M454.8 178.1h0M456.8 173.7h0M453.8 141.1h0M453.3 146.5h0M454 154.5h0M453.1 150.4h0M451.1 139.2h0M455.2 159.1h0M454.9 188.5h0" stroke="#e5381a" stroke-opacity="0.46" stroke-width="2.9" stroke-linecap="round" fill="none"/><path d="M453.7 151.8h0M455.5 164.7h0M452.3 160h0M451.9 161.1h0M456 143.6h0M453.2 160.1h0M454.2 123.6h0M452.7 176.1h0M453.6 156h0M450 168.2h0M452.9 145h0M454.9 138.7h0M450.1 158.9h0M451.6 163.9h0M454.5 165.1h0M452.2 146.3h0M453.8 163.8h0M448.5 175.2h0M452.6 158.3h0M452.9 179.6h0M450.9 119h0M450.4 134.7h0M454.3 169.2h0M452.7 164.9h0M455.9 120.3h0M452.6 177.4h0M450.8 160.4h0M452.9 167.8h0M450.3 140.8h0M452.9 142.6h0M451.6 168.7h0M451.6 139.7h0M453.7 158.5h0M454.2 144.3h0M451.2 140.3h0M450.6 169.5h0M453.2 168.3h0M450.7 177.5h0M451.9 169.9h0M449.8 140.8h0M451.3 177.7h0M453.2 151.3h0M450.9 167.6h0M455.9 171.3h0M455.2 141.5h0M454 127.1h0M449.7 132.8h0M451.2 162.3h0M452 172.2h0M456 146.9h0M453.5 173.2h0" stroke="#e5381a" stroke-opacity="0.46" stroke-width="2.9" stroke-linecap="round" fill="none"/><path d="M454.1 161.8h0M453.4 142.9h0M454.7 145.1h0M451.1 155.3h0M451.2 174.7h0M453.1 132h0M454.1 175.3h0M450.7 122.7h0M454.8 174.9h0M452.3 146h0M451.1 140.3h0M450.5 181.5h0M454.7 140h0M454.6 153.2h0M455.9 135.9h0M454.8 164.5h0M454 166.3h0M452.8 156.8h0M452.2 139.7h0M449.6 136.7h0M451.7 131.6h0M454.5 181h0M450.9 137.8h0M451.9 144.3h0M450.7 150.6h0M455.9 157.4h0M454.4 151.6h0M455.2 129.4h0M453.6 187.2h0M453.4 171.3h0M452.5 131.3h0M452.7 152.7h0M452.7 167.6h0M454.2 155.3h0M454.2 117h0M454.5 158.3h0M451.4 150.8h0M452.1 161.1h0M453 157.6h0M452.3 144.3h0M451.9 150.4h0M454 146.9h0M453.2 179.5h0M449.5 150.6h0M448.3 181.4h0M454 181.6h0M451.4 177.8h0M453.2 176.8h0M448.7 157.1h0M450.7 178.4h0M450.6 189.5h0" stroke="#e5381a" stroke-opacity="0.46" stroke-width="2.9" stroke-linecap="round" fill="none"/><path d="M452.9 113.5h0M455.5 134.7h0M450 156.4h0M453.7 125h0M455 166.8h0M454.6 166.1h0M453 145.2h0M454.3 131.5h0M451.4 158.6h0M450.4 137.1h0M452.3 148.1h0M453.2 145.6h0M452.7 140.6h0M452 162.3h0M452 153.5h0M450 158.2h0M452.4 156.6h0M455.6 147.9h0M451.8 142.7h0M452.5 136.1h0M455.1 116.6h0M449.4 145.4h0M455 135.7h0M451.7 154.9h0M449.9 159.8h0M449.4 161.1h0M450.6 167.1h0M452.2 154.6h0M452.2 144.8h0M451.5 157h0M452.9 128.1h0M452.7 157.7h0M450.3 141.1h0M452.1 152.2h0M453.9 149.1h0M455.6 166.5h0M451.7 164.1h0M456.2 154h0M455.7 143.6h0M454.4 108.5h0M452.1 159.6h0M451.4 144.9h0M453.2 140.1h0M449.8 173.3h0M451.6 164.5h0M452.2 171.9h0M449.5 176.1h0M452.6 152.3h0M453.2 143.8h0M451.2 171.5h0M452.8 189.3h0" stroke="#e5381a" stroke-opacity="0.46" stroke-width="2.9" stroke-linecap="round" fill="none"/><path d="M452.1 159.4h0M453.2 156.2h0M453.7 170.5h0M453 151.9h0M454.1 175.1h0M449.3 161.8h0M453.1 154.7h0M450.2 135h0M450.9 160.8h0M449.9 134.3h0M453.2 172.4h0M453.1 163.7h0M454.3 132h0M452.7 184.6h0M452.4 146.8h0M451.4 160.4h0M452.4 186.8h0M452.1 137.1h0M453.4 158.7h0M453 170.5h0M452.5 140.2h0M454 163.7h0M450.3 150.9h0M449.6 141.7h0M452.2 172.2h0M448.7 190.3h0M455.6 186.6h0M453.8 169.5h0M453.6 165.3h0M453.1 144.2h0M451.6 168h0M455.5 153.2h0M452.2 168h0M455.9 149h0M450 161.2h0M452.5 136.5h0M452.2 149.1h0M451.2 119.6h0M452.8 173.6h0M451.1 174.8h0M451.7 172.7h0M453.9 155.3h0M454.6 145.6h0M453.7 136.3h0M454.1 152.2h0M452.7 151.2h0M452 164.3h0M456 181h0M454.7 127.3h0M450.5 171.8h0M452.5 188h0" stroke="#e5381a" stroke-opacity="0.46" stroke-width="2.9" stroke-linecap="round" fill="none"/><path d="M452.5 143.4V108.4M452.5 168.2V187.5" stroke="#e0302a" stroke-width="1.0"/><rect x="448.4" y="143.4" width="8.2" height="24.7" fill="#fff4ea" fill-opacity="0.5" stroke="#e0302a" stroke-width="1.25"/><path d="M448.4 156.6H456.6" stroke="#e0302a" stroke-width="1.6"/><path d="M466.9 149.2h0M464.3 142.7h0M462.5 158.9h0M464.2 123.3h0M465.7 141.1h0M464.3 108.4h0M463.7 120.1h0M461 134.6h0M466.9 127.6h0M463.3 140.7h0M464.9 112.9h0M465.6 161.3h0M466.7 125.4h0M463.1 103.4h0M463.5 126.1h0M461.9 128.3h0M464.4 106.8h0M463 93.6h0M467 151.8h0M466.1 152.8h0M464.9 120.3h0M464.5 121.6h0M465.6 134.6h0M463.9 96.1h0M466.5 83.4h0M462.6 136h0M464.8 141.7h0M464.3 138.6h0M464.2 156.1h0M468 127.4h0M465.1 76.5h0" stroke="#e5381a" stroke-opacity="0.46" stroke-width="2.9" stroke-linecap="round" fill="none"/><path d="M465.1 122.5h0M463.6 130.9h0M464.2 101.5h0M460.4 104.6h0M464.1 103.6h0M464.2 98.2h0M468.5 139.4h0M467.2 157.4h0M464 124.3h0M465.1 163.7h0M464.7 136.9h0M467.1 137.3h0M464 117.3h0M461.3 139.3h0M464.5 127.5h0M465.1 123.2h0M467.9 157h0M461.8 131.4h0M467 117.8h0M464.2 140.8h0M467.8 115h0M464.4 158h0M464 122.4h0M461.5 104.9h0M463.8 111.8h0M463.4 99.8h0M464.2 119.4h0M464.5 128.4h0M460.9 128.3h0M463.3 136h0M467.1 176.2h0" stroke="#e5381a" stroke-opacity="0.46" stroke-width="2.9" stroke-linecap="round" fill="none"/><path d="M466.5 136.7h0M461.2 143.2h0M466 89.7h0M464.2 117h0M465.4 121.2h0M466.1 123.8h0M466.2 129h0M467.7 89.4h0M462.6 149.5h0M462.3 136.6h0M463.9 135.5h0M464.9 95.8h0M464.2 127.3h0M464.6 133.4h0M466 136.7h0M461.9 104.7h0M465.4 134.1h0M464 129.9h0M466 138.9h0M464.9 123.2h0M463.7 99.7h0M462.1 143.4h0M466.6 133.2h0M465.1 137.8h0M464.6 127.8h0M464.6 162.4h0M464.9 111.8h0M465.4 126h0M465.5 108.8h0M465.1 126.2h0M463.6 181.4h0" stroke="#e5381a" stroke-opacity="0.46" stroke-width="2.9" stroke-linecap="round" fill="none"/><path d="M464.9 168.4h0M464.2 105.2h0M461.2 130.8h0M465 139.6h0M463.3 131h0M464.6 139.1h0M463.8 150.3h0M464.7 124.8h0M467.6 106.5h0M461.9 131.4h0M466.8 127.5h0M465.7 118h0M465.4 128.1h0M461.7 114h0M466.9 159.4h0M465.9 145.8h0M468.2 137.4h0M463.7 156.5h0M461.9 136.2h0M466 129.1h0M461.1 145.7h0M463.3 126.7h0M464 153.4h0M462.4 145.1h0M463.9 137.6h0M464 110.7h0M464.3 81.7h0M462.8 133.5h0M466.3 152.5h0M465.2 114.5h0M466.2 178.5h0" stroke="#e5381a" stroke-opacity="0.46" stroke-width="2.9" stroke-linecap="round" fill="none"/><path d="M463.3 142.3h0M461.9 86.8h0M463 120.2h0M464.7 137.1h0M465.2 112.5h0M467.2 151.3h0M463.7 103.1h0M464.1 172.9h0M464.4 116.6h0M464.4 151.5h0M462.2 97.5h0M465.5 104.5h0M461.7 101.5h0M461.9 117.8h0M463.2 135.5h0M466.6 120.6h0M464.8 133.8h0M467 154.1h0M464.3 129.8h0M463.1 144.3h0M463 109.9h0M468 127.8h0M462 133.9h0M464.9 127.3h0M462.3 148.5h0M460.4 133.5h0M462.7 129.2h0M464 161.6h0M466.8 129.2h0M464.5 71h0" stroke="#e5381a" stroke-opacity="0.46" stroke-width="2.9" stroke-linecap="round" fill="none"/><path d="M464.4 160.3h0M465.8 118h0M465.4 107.4h0M464.6 132.2h0M461.5 125.5h0M464.6 95.5h0M463.3 121.5h0M464.2 138.9h0M465.9 126.2h0M466.8 121.8h0M465.2 101.6h0M468.1 134.4h0M463.1 130.4h0M466.2 109.6h0M462 108.4h0M463.6 138.4h0M463.2 138.3h0M462.4 142.4h0M466.2 145.6h0M463.1 98.7h0M465.1 122.3h0M466 99.5h0M466.8 125h0M464.6 138.3h0M465.3 128.6h0M462.2 112.9h0M465.1 128.7h0M464.3 121.8h0M464 123h0M462.2 77.1h0" stroke="#e5381a" stroke-opacity="0.46" stroke-width="2.9" stroke-linecap="round" fill="none"/><path d="M464.3 114V81.9M464.3 140.5V175.7" stroke="#e0302a" stroke-width="1.0"/><rect x="460.2" y="114" width="8.2" height="26.4" fill="#fff4ea" fill-opacity="0.5" stroke="#e0302a" stroke-width="1.25"/><path d="M460.2 126.3H468.4" stroke="#e0302a" stroke-width="1.6"/><path d="M475.3 94.1h0M474.9 102.6h0M474.3 148.1h0M476.7 102.2h0M474.4 112.4h0M477 115.5h0M477.9 104.9h0M477.5 111.7h0M474 106.7h0M476.4 144.5h0M476.6 141.1h0M473.8 131.9h0M473.1 124.8h0M475.3 104.3h0M478.5 125.3h0M478.3 72.7h0M478.7 85h0M475.6 136.2h0M475.3 131.2h0M473.6 104h0M479.1 118.1h0M477.5 113.7h0M477.4 142.4h0M476.4 118.5h0M476.1 117.8h0M475.6 142.4h0M477.5 136.3h0M477.6 109.4h0M476.3 74.4h0M475.6 102.8h0" stroke="#e5381a" stroke-opacity="0.46" stroke-width="2.9" stroke-linecap="round" fill="none"/><path d="M475.2 150.6h0M474.4 112h0M476.7 103.5h0M477.6 136.6h0M477.4 110h0M476.2 139.3h0M475.8 115h0M478 96.8h0M478.9 59.8h0M473.2 129h0M475.9 73.1h0M476.1 87.9h0M476.2 91h0M475.7 78h0M476 118.8h0M478.1 107.4h0M475.6 111.3h0M475.6 78.9h0M474.6 144.1h0M473.9 144.8h0M476 116.7h0M475 95.4h0M476.9 112.9h0M477.2 99.1h0M477.8 119.1h0M477 74.6h0M474.3 137.8h0M479.3 127.7h0M474.7 135.3h0M475 123.3h0" stroke="#e5381a" stroke-opacity="0.46" stroke-width="2.9" stroke-linecap="round" fill="none"/><path d="M475.7 95.7h0M476.5 136.3h0M477.6 122.4h0M472.6 114.5h0M474.8 99.7h0M475 109.2h0M474.8 116.8h0M478 135.2h0M471.9 107.3h0M478.8 124.8h0M476.7 113.4h0M475.6 94.3h0M472.8 117.7h0M474.8 143.1h0M474.9 122.2h0M478.2 73.9h0M476.6 75.2h0M479.3 119.3h0M475.8 151.5h0M474.6 150.4h0M476.2 88.4h0M478.8 70.5h0M477.7 112.5h0M476 105.1h0M472.6 128.6h0M475.3 73.7h0M476.8 153.3h0M475.1 127.7h0M478.3 129.4h0M477.5 77.3h0" stroke="#e5381a" stroke-opacity="0.46" stroke-width="2.9" stroke-linecap="round" fill="none"/><path d="M478.1 120h0M478.2 123.3h0M479.4 127h0M476.6 104.8h0M474.2 156.3h0M474.3 66.8h0M475.4 148.6h0M479.1 161.8h0M474.8 120.5h0M475.8 108.3h0M478.4 115.6h0M475.3 115.8h0M476.6 133.3h0M474.8 122.3h0M472.3 122.4h0M477.7 112h0M476 132.4h0M474.8 102.1h0M479.7 134.9h0M478.1 111h0M477.5 94h0M474.4 162.8h0M478.2 72.5h0M476.3 125.9h0M475.4 129.8h0M480 75.2h0M475.2 123h0M475 117.5h0M474.2 126.6h0M475.2 156.1h0" stroke="#e5381a" stroke-opacity="0.46" stroke-width="2.9" stroke-linecap="round" fill="none"/><path d="M478.5 111h0M473 80.8h0M479 109.8h0M478.7 88.3h0M474.2 81.4h0M476.4 128.6h0M472 105.3h0M474.6 113.4h0M476.9 132.6h0M474 114.5h0M474.9 123.3h0M476.4 92.8h0M475.4 76h0M476.2 91.5h0M475.5 105.4h0M476.3 72.2h0M476.8 125.4h0M476.5 89.8h0M475 131.6h0M474.7 71h0M477.2 125.1h0M477.4 146.2h0M474.3 80.5h0M475.7 98.5h0M477 114.2h0M479.6 86.8h0M475.9 153.1h0M472.7 102.1h0M474.6 120.6h0M475.2 109.8h0" stroke="#e5381a" stroke-opacity="0.46" stroke-width="2.9" stroke-linecap="round" fill="none"/><path d="M474.1 141.4h0M478.1 78h0M479.6 78.4h0M478.1 117.4h0M477.1 107.8h0M477.4 150.9h0M477.8 99.9h0M478.4 62.6h0M472.8 80.6h0M473.4 147.8h0M476.5 108.6h0M477.4 119.2h0M475.3 119.7h0M479.1 122.1h0M477.9 113.2h0M475.7 118.4h0M476 105.5h0M477.5 100.2h0M474.8 132.6h0M476.6 135.5h0M473.4 92.6h0M476.7 144.8h0M476.4 108.4h0M478.2 126.7h0M472.6 118.5h0M475.3 118h0M476.4 113.3h0M478.9 123.4h0M475.5 110.9h0" stroke="#e5381a" stroke-opacity="0.46" stroke-width="2.9" stroke-linecap="round" fill="none"/><path d="M476 99.6V52.1M476 131.2V167.7" stroke="#e0302a" stroke-width="1.0"/><rect x="471.9" y="99.6" width="8.2" height="31.6" fill="#fff4ea" fill-opacity="0.5" stroke="#e0302a" stroke-width="1.25"/><path d="M471.9 116.5H480.1" stroke="#e0302a" stroke-width="1.6"/><path d="M485.8 134.3h0M489.4 140.1h0M489 126.6h0M490.9 158.3h0M485.5 126.4h0M488.3 169.1h0M488.7 156.1h0M487.9 187.4h0M488.3 176.8h0M488.1 138.7h0M488.6 157.5h0M488.3 127.5h0M485 133.6h0M484.9 164.5h0M487.1 130.2h0M486.4 148.2h0M488.4 127.7h0M490.5 142.9h0M489.9 92.3h0M487.7 159.1h0M485.4 154.1h0M485.8 137.2h0M488.2 154.5h0M486.8 130h0M489.6 152.4h0M488.1 145h0M490 146.2h0M487 129.4h0M487.1 137.3h0M484.2 166.6h0M487 120.7h0M486 131.5h0M490.4 140.4h0M490.4 135.4h0M486.6 133.5h0M490 136.1h0M486.9 138.5h0M486.8 141.2h0M489.8 134.7h0M491.6 150.9h0M488.9 151.6h0M486.3 173.5h0M485 129.5h0M488 157.2h0M485.5 167.5h0M485.4 155h0M487.5 157.4h0M487.4 168h0M484.9 152.3h0M488.4 108.3h0M489.5 170.4h0M488.4 142.8h0M489.2 182.2h0M489.9 152.8h0M490.1 135.1h0M489.5 148.7h0M486 152.5h0M486 162.3h0M488.6 154.3h0M488.3 139.5h0M486.6 158.4h0M485.5 130.9h0M488.4 155.2h0M486.4 122.4h0M488.1 161.1h0M488.4 152.8h0M486.1 112.7h0M485.4 134.5h0M491.1 156.9h0M487 119.9h0M490.9 125.4h0M490.6 98.4h0M489 137.2h0M485.6 168.7h0M485.6 150.7h0M489.6 155.6h0M488.3 180.2h0M488.5 139.4h0M488.3 134.4h0M486.4 123.1h0M484.5 147.8h0M487.8 128.4h0M492.1 174.4h0M487.4 88.6h0" stroke="#e5381a" stroke-opacity="0.46" stroke-width="2.9" stroke-linecap="round" fill="none"/><path d="M486.2 153.3h0M489.3 162.4h0M488.2 145.9h0M487.2 164.9h0M486.6 161.3h0M487.8 176.9h0M487.2 103.9h0M486.4 127.7h0M488.6 136.9h0M489.8 129.7h0M486.7 124.8h0M485.8 141.3h0M487 173h0M485.8 122h0M486.9 137.6h0M488.4 142.6h0M485.4 147.5h0M486.6 125.4h0M489.2 123.4h0M486.2 126.1h0M486.8 116.9h0M487.7 141.8h0M488.3 140.2h0M487.7 185.6h0M485.1 161.1h0M488.4 157.5h0M486.7 131.9h0M487.7 140.6h0M484 186.1h0M488.5 135.9h0M486.1 131.6h0M490.1 142.8h0M484.7 124.7h0M489 117.9h0M487.6 98.7h0M489.5 116.1h0M489.6 156.6h0M488.1 173.8h0M487.8 145.7h0M487.8 140.2h0M488.1 136.2h0M486.3 133h0M488.8 145.9h0M488.2 144.5h0M490 119h0M486.7 151.4h0M483.7 195.5h0M486.7 124.9h0M487.2 142.1h0M489.5 150.1h0M486.9 169.6h0M488.6 153.3h0M490.9 172.1h0M484.9 152.8h0M486.3 124.6h0M489 143.7h0M486.5 182.2h0M487.9 122.3h0M491.1 132.2h0M485.9 130h0M489.5 134.2h0M486.2 139.6h0M484.4 136.8h0M489.8 140.6h0M486.7 133.1h0M488 180.2h0M488.7 116h0M486 112h0M489 177.4h0M490.1 188.9h0M489.5 135.2h0M489.1 163.4h0M487.6 149.5h0M486.4 145.9h0M488.7 107.2h0M487.5 157.7h0M489.5 140h0M486.1 138.3h0M488.4 136.4h0M491.2 159.7h0M489.1 124.3h0M485.5 142h0M488 135.9h0M488.4 79.6h0" stroke="#e5381a" stroke-opacity="0.46" stroke-width="2.9" stroke-linecap="round" fill="none"/><path d="M488.7 121.8h0M488.3 165.1h0M487.9 131.2h0M486.2 138.1h0M484.7 145.3h0M487.6 116.1h0M491 133.2h0M484.5 138.1h0M490.8 144.6h0M487.8 134.4h0M486.9 142.1h0M486.7 141.8h0M486.3 135.5h0M489.3 163.9h0M487.8 99.9h0M489.9 153.4h0M488.2 143h0M487.8 170.9h0M491.4 110.7h0M489 162.4h0M488 97h0M489.7 152.5h0M487.5 115.2h0M489.5 154.3h0M486.3 152h0M485 124.6h0M484.2 144.9h0M488.3 132.1h0M487.3 147.8h0M487.1 137.2h0M489.7 91h0M489.5 116.7h0M484.5 151.5h0M488.7 131.6h0M488.2 119.1h0M490 133.8h0M486.4 132.5h0M487.4 123.6h0M486 115.9h0M489.7 128.2h0M489.5 156.6h0M489.7 155.3h0M488 134h0M488.3 161.9h0M490.8 177.5h0M487.1 120.3h0M486.2 120.8h0M487.1 154.9h0M487.1 110.9h0M486.2 182h0M486.2 187.2h0M485.2 144.5h0M487.1 141.4h0M486.1 146.4h0M488.5 139.9h0M486.7 135.9h0M485.3 152.6h0M486.3 142.4h0M489.9 136.5h0M490.8 165.3h0M485.8 117h0M490.3 178.8h0M487.3 141.8h0M488.1 148h0M491.6 79.9h0M486.9 128.2h0M488.3 119.6h0M491 165.1h0M490.4 117.4h0M487.1 164.1h0M489 165.5h0M489.6 157.1h0M487.7 120.3h0M488.5 159.4h0M486.9 165.6h0M485.2 129.8h0M485.8 153.3h0M487.8 151.3h0M486.3 119.8h0M487.9 134.3h0M490 151.3h0M485.6 165h0M487.8 118.7h0M488.6 90.7h0" stroke="#e5381a" stroke-opacity="0.46" stroke-width="2.9" stroke-linecap="round" fill="none"/><path d="M485 127.6h0M487.8 144.2h0M485.6 110.7h0M487.8 144.6h0M487 142.9h0M488.9 154.2h0M489.1 126.6h0M489.3 139.8h0M488.4 121.8h0M487.6 184.3h0M488.2 112.3h0M485.6 144.3h0M491.8 167.4h0M489 113.3h0M489.9 132.4h0M485.5 152.2h0M489.9 150.9h0M489 167.4h0M491.4 142.8h0M484.2 157.8h0M488.1 175.1h0M487.1 167.7h0M490.3 137.7h0M488.7 141.2h0M488.1 139.4h0M491.1 109.9h0M487.9 167.1h0M490.6 110.7h0M488.5 130.3h0M487.5 130.7h0M487.3 93.1h0M485.5 125.6h0M488.6 139.5h0M488.5 170.2h0M488 136.9h0M488.1 121.6h0M486.6 147.2h0M487.3 132.3h0M486.2 147.5h0M485.5 130.5h0M488.9 148.3h0M487.4 127h0M485.2 154.7h0M491.2 134.6h0M488.2 137.1h0M488 120.7h0M488.8 154.7h0M487.4 171.5h0M490.1 128.6h0M486.1 119.2h0M488.3 156.9h0M485.6 137.6h0M484.5 106.9h0M489.3 116.3h0M487 125.1h0M489.2 146.4h0M488.4 156.4h0M489.3 127h0M488.8 136.6h0M488 175.6h0M489 146.5h0M488.5 127h0M491.4 137.1h0M489.5 127.1h0M490.6 129.3h0M488 137.8h0M490.9 197.3h0M486 156.7h0M486.1 130.9h0M485.4 167.5h0M489.7 117.5h0M489.3 157.4h0M487.8 142.7h0M485.9 143.5h0M485.8 128.5h0M484.6 177.8h0M487.1 106.6h0M490.9 175.6h0M487.8 123.7h0M488 162.4h0M488.5 111.4h0M488.2 150.1h0M489.5 149.2h0M487.4 90.3h0" stroke="#e5381a" stroke-opacity="0.46" stroke-width="2.9" stroke-linecap="round" fill="none"/><path d="M484.7 148.8h0M483.7 160h0M488.5 150.2h0M485.1 171.5h0M484.3 166.8h0M490.1 156.9h0M490.2 125.7h0M489.9 120.8h0M489.4 184.2h0M490.6 129.1h0M487 122.4h0M487.5 123.4h0M489.9 167.5h0M486.4 126.9h0M488.2 153.4h0M487.9 126.4h0M488.6 118.6h0M488.4 128.2h0M487.7 169h0M488.4 113.5h0M490.8 191.3h0M489.3 126h0M486.1 95.1h0M490.9 155.4h0M487.2 134.1h0M489.3 137.2h0M489 118.5h0M488.8 150.2h0M489.4 134.1h0M486.2 108.4h0M488.3 161h0M489.3 125.2h0M488.3 118h0M488.7 137.4h0M487.7 153.2h0M487.3 156.1h0M489.9 146.9h0M488.1 129.4h0M487.3 136.8h0M486.6 122.7h0M486.6 139.1h0M488.5 150.5h0M485.1 157.4h0M488.8 127h0M487.4 139.1h0M487.3 162.3h0M489.9 139.9h0M487.3 135h0M490.1 140.8h0M488.6 151.4h0M488.7 153.5h0M485.1 123.4h0M489.2 151.4h0M488.5 151.1h0M487.8 110.7h0M485.6 164.4h0M488.5 119h0M490.7 138.9h0M486.5 149.7h0M487.4 127.7h0M485.6 146.9h0M487.1 157h0M487.4 96.1h0M485.3 134.6h0M490.8 152.8h0M486.3 132.9h0M487.8 138.6h0M490.7 162.6h0M484.5 158h0M484.7 156.3h0M490.3 119.5h0M486.8 154h0M491.5 152.8h0M488.4 134.4h0M489.1 140.7h0M488.8 138.8h0M486.6 178.6h0M489.4 128.2h0M489.5 128.9h0M489.4 144.7h0M485.5 144.6h0M488.7 106h0M491.7 159.4h0M489.4 86.7h0" stroke="#e5381a" stroke-opacity="0.46" stroke-width="2.9" stroke-linecap="round" fill="none"/><path d="M490 142.4h0M488.7 141.9h0M488.8 116.3h0M487.3 118.8h0M489.8 135.6h0M488.1 145.9h0M488.6 104.1h0M489.5 130.3h0M484.4 130.1h0M486.3 141.9h0M485.6 164.2h0M486.9 157.8h0M486.5 142.2h0M487.1 139.5h0M490.8 134.5h0M485.8 142h0M487.8 112.4h0M489.7 177.1h0M485.8 159.3h0M487.3 166.2h0M487.6 155.4h0M488 151.6h0M487.2 147.5h0M488.6 157.1h0M489 163.3h0M487.1 133.3h0M491.3 100.7h0M487.2 127.4h0M485.9 142.7h0M486 139.5h0M486.8 165.6h0M487.7 156.2h0M489.3 140.4h0M487.8 139.1h0M490 124.3h0M488.8 142.9h0M485.2 154h0M489.9 117.2h0M486 185.1h0M487.4 151.5h0M491.4 182.1h0M486.7 162.2h0M488.4 147.5h0M485.2 132.5h0M488.9 127.3h0M491.6 146.8h0M489.6 136.5h0M487.8 138h0M488.6 148.5h0M488.5 186.7h0M484.5 111.9h0M488.6 117.7h0M486.1 121.7h0M489.6 139.7h0M483.9 126.7h0M484.7 160.4h0M487 170.4h0M487.6 140.8h0M486.4 119.4h0M491.3 154.4h0M488.1 132.9h0M485.9 103.5h0M486.3 146h0M484.5 144.4h0M486.5 170.6h0M486.5 140.8h0M486.7 124.7h0M490.6 153.7h0M488.8 184.1h0M491.1 132.6h0M486.1 126.8h0M484.2 129.4h0M487.6 154.3h0M489.1 132.9h0M486.5 136.1h0M490.2 172.3h0M487 138.7h0M488.8 128h0M488.2 154.6h0M489.3 127.1h0M485.5 94.7h0M486.8 167.7h0M485 90.4h0M487.2 85h0" stroke="#e5381a" stroke-opacity="0.46" stroke-width="2.9" stroke-linecap="round" fill="none"/><path d="M487.8 129.2V92.2M487.8 155.4V196.1" stroke="#e0302a" stroke-width="1.0"/><rect x="483.7" y="129.2" width="8.2" height="26.2" fill="#fff4ea" fill-opacity="0.5" stroke="#e0302a" stroke-width="1.25"/><path d="M483.7 141.2H491.9" stroke="#e0302a" stroke-width="1.6"/><path d="M501.7 133.9h0M498.2 153h0M500.6 131.9h0M495.7 114.4h0M499.7 109.3h0M501.8 157.4h0M501.2 147.4h0M495.5 154h0M499.7 143.9h0" stroke="#4462bd" stroke-opacity="0.46" stroke-width="2.9" stroke-linecap="round" fill="none"/><path d="M500 128.5h0M498.4 139h0M499.6 99.4h0M499.5 165.1h0M500 102.6h0M498.8 119.7h0M498.9 165.4h0M496.1 158.9h0M499.3 102.3h0" stroke="#4462bd" stroke-opacity="0.46" stroke-width="2.9" stroke-linecap="round" fill="none"/><path d="M499.3 135.2h0M501 162h0M497.6 115.3h0M498.7 110.3h0M501.3 132.8h0M500 152.5h0M500.1 165.1h0M501.1 96.5h0M495.8 170.6h0" stroke="#4462bd" stroke-opacity="0.46" stroke-width="2.9" stroke-linecap="round" fill="none"/><path d="M502.2 150.7h0M499.1 164.2h0M496.9 120.9h0M497.3 134.9h0M500.1 94.5h0M499.4 145.7h0M498.9 140.8h0M501.5 107.5h0M501.3 161.9h0" stroke="#4462bd" stroke-opacity="0.46" stroke-width="2.9" stroke-linecap="round" fill="none"/><path d="M495.8 161.8h0M498.2 140.4h0M501.9 137.3h0M499.2 170h0M498.2 106.8h0M500.1 121.1h0M498.8 98.3h0M499.1 165.1h0" stroke="#4462bd" stroke-opacity="0.46" stroke-width="2.9" stroke-linecap="round" fill="none"/><path d="M498.3 132.3h0M499 135.7h0M497.6 111h0M499.6 149.3h0M501.8 168.8h0M499.9 137.2h0M500.6 132.5h0M496.6 111.5h0" stroke="#4462bd" stroke-opacity="0.46" stroke-width="2.9" stroke-linecap="round" fill="none"/><path d="M499.5 111.6V89.3M499.5 147.8V171.8" stroke="#2d53a8" stroke-width="1.0"/><rect x="495.4" y="111.6" width="8.2" height="36.2" fill="#ffffff" fill-opacity="0.5" stroke="#2d53a8" stroke-width="1.25"/><path d="M495.4 130.9H503.6" stroke="#2d53a8" stroke-width="1.6"/><path d="M510.8 163.4h0M509.5 173.5h0M510.7 165.7h0M512.6 190h0M512.8 156.9h0M511.3 182.8h0M512.1 194.5h0M512.4 161.2h0M511.7 129.6h0M511.7 171.1h0M513.5 190.6h0M511.6 194.7h0M513.4 118.9h0M512.2 169.9h0M509.1 144.4h0M513 144.7h0M511.2 160.3h0M514.8 172.4h0M514.6 176.7h0M509.6 154.6h0M512 154.7h0M509.1 164.9h0M510.9 132.7h0M513.7 190.6h0M509.2 156.4h0M512 147.2h0M510.7 148.3h0M511 156h0" stroke="#e5381a" stroke-opacity="0.46" stroke-width="2.9" stroke-linecap="round" fill="none"/><path d="M509.5 158.1h0M510.1 199.5h0M509.5 163.6h0M509.5 150.2h0M514.4 171.3h0M510.3 145.8h0M512.6 152.1h0M511.6 150.9h0M511.8 187h0M510.5 164.1h0M510.1 143.6h0M508.4 184.7h0M509.5 161.6h0M513.8 151.9h0M512.5 163.3h0M513 193.9h0M512.1 170.8h0M510.4 137h0M509.5 183.5h0M513.1 167.9h0M511.1 161.5h0M514.3 143.5h0M509.2 167.2h0M510.3 158.2h0M510.3 163.3h0M510.5 181.1h0M510.3 163h0M514.2 162.2h0" stroke="#e5381a" stroke-opacity="0.46" stroke-width="2.9" stroke-linecap="round" fill="none"/><path d="M513.9 133h0M509.4 181.5h0M511.1 149.9h0M509.7 156.4h0M508.2 159.7h0M511.1 166.9h0M508.7 146.2h0M510.1 133.7h0M509.7 174.5h0M512.2 153.5h0M509.6 167.8h0M513.9 130h0M510.3 193.3h0M513.4 158.3h0M509.8 169.6h0M510.6 143h0M510.9 196.1h0M509.8 192.6h0M511.8 159.7h0M513.7 154.8h0M511.4 182h0M511.9 164.4h0M509.6 175.3h0M509.7 160h0M510 168.4h0M510.6 166.5h0M510.9 186.4h0M509.7 176.8h0" stroke="#e5381a" stroke-opacity="0.46" stroke-width="2.9" stroke-linecap="round" fill="none"/><path d="M511.3 165.6h0M511.1 185.6h0M509.1 145.8h0M511.6 171.7h0M513.6 180.8h0M510.9 186.8h0M510.2 131.6h0M507.6 150.8h0M513.3 175.7h0M509.5 152.5h0M515.1 160h0M511.1 170.6h0M512.5 172.5h0M512 159.5h0M510.2 116h0M511 157.6h0M510.5 145.2h0M509.4 146.4h0M513.2 153.9h0M513.2 164.6h0M508.9 203.3h0M512.1 165.7h0M513.5 145.2h0M510.4 168.7h0M514 134.3h0M508 179.6h0M510.9 155.1h0M512.7 151h0" stroke="#e5381a" stroke-opacity="0.46" stroke-width="2.9" stroke-linecap="round" fill="none"/><path d="M512 179h0M511.4 167h0M510.2 136.7h0M511.1 149.3h0M511 129.4h0M511.6 147.2h0M509.8 155h0M510.2 174.8h0M509.2 140.6h0M509.9 185h0M509.4 163.1h0M510.8 154.6h0M509 157.6h0M508.7 171.1h0M511.1 152.1h0M510.4 172.4h0M511.3 192.4h0M509.4 155.4h0M512.5 145.7h0M510.5 163.8h0M512.7 146.5h0M508.1 171.5h0M510.7 148.1h0M509.5 155.5h0M511.2 163.8h0M512 166.2h0M512.2 181.9h0" stroke="#e5381a" stroke-opacity="0.46" stroke-width="2.9" stroke-linecap="round" fill="none"/><path d="M510.7 186.9h0M508.8 189.9h0M509.3 168.2h0M511.4 129.8h0M510.6 186.5h0M512.7 143.5h0M510.4 150.3h0M511.8 164.4h0M510.1 179.9h0M509.8 185h0M510 191.6h0M512.7 182.6h0M510.3 146.1h0M512.4 156.7h0M511.9 191.1h0M514.3 176.4h0M515.2 166.5h0M508.8 190.4h0M512.5 177.4h0M511.7 169.8h0M511.8 150.5h0M508.2 141.7h0M510.4 152.4h0M513.9 166.1h0M511.8 152.7h0M511.7 185.3h0M509.9 190.3h0" stroke="#e5381a" stroke-opacity="0.46" stroke-width="2.9" stroke-linecap="round" fill="none"/><path d="M511.3 152.2V116.2M511.3 176.2V208.8" stroke="#e0302a" stroke-width="1.0"/><rect x="507.2" y="152.2" width="8.2" height="24" fill="#fff4ea" fill-opacity="0.5" stroke="#e0302a" stroke-width="1.25"/><path d="M507.2 163.5H515.4" stroke="#e0302a" stroke-width="1.6"/><path d="M520.1 139.3h0M520.8 133.4h0" stroke="#4462bd" stroke-opacity="0.46" stroke-width="2.9" stroke-linecap="round" fill="none"/><path d="M523.6 143.3h0M524.9 142.7h0" stroke="#4462bd" stroke-opacity="0.46" stroke-width="2.9" stroke-linecap="round" fill="none"/><path d="M523.2 154.1h0M521.9 130.3h0" stroke="#4462bd" stroke-opacity="0.46" stroke-width="2.9" stroke-linecap="round" fill="none"/><path d="M523.7 154.8h0M523.1 129.7h0" stroke="#4462bd" stroke-opacity="0.46" stroke-width="2.9" stroke-linecap="round" fill="none"/><path d="M522.1 133.7h0" stroke="#4462bd" stroke-opacity="0.46" stroke-width="2.9" stroke-linecap="round" fill="none"/><path d="M521.3 130.3h0" stroke="#4462bd" stroke-opacity="0.46" stroke-width="2.9" stroke-linecap="round" fill="none"/><path d="M523 134.4V116.2M523 150V166.7" stroke="#2d53a8" stroke-width="1.0"/><rect x="518.9" y="134.4" width="8.2" height="15.7" fill="#ffffff" fill-opacity="0.5" stroke="#2d53a8" stroke-width="1.25"/><path d="M518.9 137.1H527.1" stroke="#2d53a8" stroke-width="1.6"/><path d="M535.7 114.9h0M531.6 78.5h0M532.5 85.2h0M537 115.4h0M532.5 76.3h0M535.5 117.1h0M533.7 133.4h0M536.6 108.7h0M532.4 139.8h0M533.2 106.2h0M533.8 70.1h0M536.4 81.4h0M537.2 67.1h0M534.6 88.4h0M535.5 161.3h0M532.7 133.6h0M537 169.3h0M533.5 75.4h0M535.5 111.4h0M537.4 124.8h0M534 109h0M536.8 80.9h0M534 76.2h0M536.2 93.5h0M536.9 175.6h0M534.5 106.1h0M537.7 158.5h0M534 101.7h0M534.6 128.7h0M533 124.1h0M536.4 135.3h0M534.5 141.3h0M537.9 89.4h0M536.2 153h0M535.5 111.6h0M534.2 154.1h0M533 83.2h0M538.4 93.5h0M534.4 141.5h0M532.2 108.5h0M534.4 112.1h0M533.8 102.3h0M533.5 95.3h0M532.2 118.3h0" stroke="#e5381a" stroke-opacity="0.46" stroke-width="2.9" stroke-linecap="round" fill="none"/><path d="M531.7 89h0M533.4 74h0M535.3 58.8h0M537.9 87.2h0M534.6 145h0M534.9 125.7h0M535 106.8h0M534.3 150.6h0M530.7 105.3h0M533.1 130.4h0M533.1 132.1h0M537.5 149.4h0M532.9 88.6h0M536 133.7h0M534.8 98.6h0M535 121.1h0M538.6 118.1h0M534.2 94.1h0M533.7 101.3h0M537.1 130h0M537.9 58.8h0M530.7 108.1h0M537 179h0M536.9 90.6h0M531.8 110.1h0M537.2 140.3h0M535.5 97.7h0M533.7 133.5h0M534.6 119.5h0M535.5 106.9h0M533.7 88.4h0M533.8 116.5h0M534.4 179.2h0M533.3 121.5h0M532.6 120.3h0M534.7 101.3h0M535.6 96.7h0M533.8 96.7h0M532.6 140.7h0M536.2 95h0M532.7 115.6h0M535.8 78.2h0M534.9 121.9h0" stroke="#e5381a" stroke-opacity="0.46" stroke-width="2.9" stroke-linecap="round" fill="none"/><path d="M531.9 145.3h0M538.3 180.8h0M536.7 117.6h0M536.9 74.1h0M538.6 143.4h0M536.2 121.1h0M536.2 153.3h0M535.1 169.5h0M536.6 127.7h0M536.1 90.3h0M533.5 63.7h0M533.3 72h0M532.6 103.6h0M534.6 97.7h0M532.4 140.8h0M535.3 83.9h0M532 69.5h0M536.2 166.9h0M533.9 115.3h0M533.2 82.6h0M534.7 82.6h0M532.4 156.9h0M534.5 130.7h0M536.4 76.3h0M533.1 140.8h0M534 143.3h0M536.9 131.6h0M532.6 97h0M535.8 126.3h0M532.1 120.5h0M534.9 139.5h0M533.6 125.1h0M537.8 177h0M536 81.3h0M536.1 119.7h0M533.9 160.6h0M535.3 78.8h0M535.2 65.2h0M535.7 140.4h0M536.1 90h0M533.2 133.9h0M534.9 106.4h0M534.1 155.2h0" stroke="#e5381a" stroke-opacity="0.46" stroke-width="2.9" stroke-linecap="round" fill="none"/><path d="M533.3 154.4h0M537 103.1h0M538.3 115.7h0M533 130.9h0M537 163.2h0M533.8 130.7h0M532.7 163h0M533.3 164.4h0M532.7 108.8h0M533 171.4h0M535.9 80.2h0M536.2 171.6h0M534.6 172.4h0M532.6 145.6h0M534.4 133.5h0M531.8 115.1h0M535.5 97.2h0M538.3 187.2h0M535.6 117.7h0M535.4 84.9h0M534.2 137.7h0M535.6 128.7h0M535.3 82.3h0M537 126.9h0M536.3 114.6h0M534.4 85.8h0M537.9 88.8h0M538.3 164.7h0M532.1 139.4h0M534 143.1h0M534.8 122.9h0M535.9 54.2h0M536.5 88.3h0M532.5 57.4h0M532.5 120.3h0M531.9 66.8h0M533.6 74.7h0M533.2 83.1h0M537.6 67.6h0M533.8 111h0M532.6 122.2h0M537.1 79.2h0M538.2 106h0" stroke="#e5381a" stroke-opacity="0.46" stroke-width="2.9" stroke-linecap="round" fill="none"/><path d="M537.3 91.2h0M531.6 105.8h0M533.8 92.7h0M537.6 76.9h0M534.6 123.2h0M534.2 126.6h0M534.1 90.9h0M533.3 146.2h0M536 159.1h0M533.7 140.4h0M537.4 146.5h0M534.2 74.7h0M536.1 64.2h0M533.3 112.9h0M536.6 90.5h0M535.1 93.1h0M535.5 128.6h0M534.7 59.7h0M533.5 114.4h0M536 126.6h0M535.5 72.6h0M532.1 119.2h0M534.5 97.4h0M536.7 98h0M533.8 97h0M533.3 94.3h0M536.4 139.2h0M536.4 76.6h0M532.9 106.2h0M534.8 90.4h0M537.7 153.8h0M535.1 145.6h0M535.8 156.7h0M535.4 135.3h0M536.4 168.9h0M534.2 153.6h0M532.3 121.5h0M531.8 96.8h0M530.8 109.6h0M531.9 118.1h0M533.8 76.9h0M534.4 110.8h0M533.2 105.8h0" stroke="#e5381a" stroke-opacity="0.46" stroke-width="2.9" stroke-linecap="round" fill="none"/><path d="M535.6 103.1h0M533.7 107.8h0M535 90.2h0M536.7 140.5h0M537.6 113.2h0M536.3 107.2h0M533.5 142.6h0M533.9 77.3h0M536 82.9h0M534.2 102.3h0M535.9 97.7h0M534 80.8h0M535.4 93.5h0M535.3 95.8h0M535.6 167.7h0M532.6 154h0M533.8 136.1h0M534.3 106.6h0M534.6 188.3h0M531.9 117h0M532.4 147.8h0M536.3 82.4h0M532.6 97.1h0M537.5 136.4h0M535.4 114.4h0M533.8 122.4h0M533.3 106.4h0M537.5 128.5h0M534.6 136.3h0M537.9 59.9h0M534.9 134.6h0M537.8 94.9h0M535.6 124.2h0M533.3 72.5h0M535.7 114.2h0M537 123.7h0M533.7 130.9h0M537.7 121.9h0M534.8 120.8h0M534 139.9h0M534 88.9h0M535.9 71.6h0M535.7 151.5h0" stroke="#e5381a" stroke-opacity="0.46" stroke-width="2.9" stroke-linecap="round" fill="none"/><path d="M534.8 90V46.2M534.8 134.4V189.2" stroke="#e0302a" stroke-width="1.0"/><rect x="530.7" y="90" width="8.2" height="44.3" fill="#fff4ea" fill-opacity="0.5" stroke="#e0302a" stroke-width="1.25"/><path d="M530.7 108.2H538.9" stroke="#e0302a" stroke-width="1.6"/><path d="M543 176.4h0M546.4 135.9h0M545.1 133.1h0M544.9 181.9h0M547.3 200.4h0M548.3 173.5h0M544 180.6h0M546.8 176.8h0M544.3 193.2h0M543.4 167.4h0M547.5 199h0M545.8 153.3h0M549.5 160.3h0M544 174.7h0M548.7 145.8h0M544.8 176.4h0M547.2 171.5h0M546.2 137.7h0" stroke="#e5381a" stroke-opacity="0.46" stroke-width="2.9" stroke-linecap="round" fill="none"/><path d="M546.5 197.8h0M546.4 148.3h0M546.6 180.8h0M542.3 184.2h0M545.5 153.1h0M546.2 179.2h0M544.6 188.2h0M547 184h0M547.2 162.2h0M547.6 164.8h0M546.9 183.4h0M544 136.5h0M545.7 160.5h0M546.9 135h0M546.3 139.5h0M547.8 171.1h0M549.3 186.9h0" stroke="#e5381a" stroke-opacity="0.46" stroke-width="2.9" stroke-linecap="round" fill="none"/><path d="M545.6 172.2h0M545.5 158.1h0M545 178h0M549.1 168.4h0M547.7 174.8h0M549.8 164.7h0M544.3 153.4h0M547.7 148h0M548.7 178.5h0M544.1 157.6h0M546.3 181.4h0M545.7 190.7h0M547.2 176.4h0M544.7 132.1h0M542.9 166.1h0M547.8 163.1h0M549.3 157.9h0" stroke="#e5381a" stroke-opacity="0.46" stroke-width="2.9" stroke-linecap="round" fill="none"/><path d="M546.2 147h0M547.4 190.4h0M548.4 151.5h0M545.7 164.5h0M544.6 175.6h0M548.3 173.9h0M543.7 149.9h0M549.9 174.7h0M548.6 165.6h0M547.1 172.5h0M550.7 178.6h0M547.4 170h0M545.1 205.4h0M547.7 167.2h0M545.3 187.6h0M547.1 182.8h0M547.8 169.2h0" stroke="#e5381a" stroke-opacity="0.46" stroke-width="2.9" stroke-linecap="round" fill="none"/><path d="M544.3 150.9h0M546 160.9h0M544 152.2h0M546.8 156.5h0M549.1 155.6h0M546 160.8h0M546.5 171.5h0M550 148.1h0M549.1 161.8h0M543.3 167h0M545.3 170h0M548.4 164.8h0M544.7 177.3h0M547.2 177.9h0M544.1 144.4h0M548.2 169.6h0M545.7 189.4h0" stroke="#e5381a" stroke-opacity="0.46" stroke-width="2.9" stroke-linecap="round" fill="none"/><path d="M544 185.2h0M544.9 156.1h0M548.6 157h0M544.8 185.6h0M548.8 197.9h0M546.4 195.3h0M546.9 160.3h0M547.8 129.1h0M549.6 187.7h0M549.2 177.9h0M544.1 168.6h0M545.6 177.1h0M546.5 137.4h0M545.1 159.9h0M545.5 204h0M548.4 155.6h0M546.7 184.8h0" stroke="#e5381a" stroke-opacity="0.46" stroke-width="2.9" stroke-linecap="round" fill="none"/><path d="M546.5 160.8V125.8M546.5 185.5V206.1" stroke="#e0302a" stroke-width="1.0"/><rect x="542.4" y="160.8" width="8.2" height="24.7" fill="#fff4ea" fill-opacity="0.5" stroke="#e0302a" stroke-width="1.25"/><path d="M542.4 173.5H550.6" stroke="#e0302a" stroke-width="1.6"/><path d="M557.5 180.7h0M559 160.4h0M556.7 172.2h0M558.6 155.5h0M560.9 111.2h0M556.2 184.2h0M558.3 146h0M558.5 164.1h0M556.2 97.1h0M558.8 164.8h0M561.4 128h0M556.4 204.3h0M557.9 142.9h0M556.9 171.6h0M555.3 126.6h0M559.1 123.3h0M561.2 145.7h0M559 142.3h0M558.1 170.7h0M559 148.8h0M560.6 160.7h0M558.4 184.7h0M558.2 135.7h0M561.3 192.6h0M556.7 152.7h0M558.9 156.1h0M557 177.9h0M559.2 153.7h0M558.9 163.1h0M557.8 101.8h0M558.6 145.2h0M555 192.6h0M557.5 143.8h0M557.4 164.5h0M557.6 166.1h0M557.7 192.3h0M557.8 143.6h0M561.7 104.4h0M555.3 148.6h0M557.2 124.4h0M557.9 137.3h0M558.1 173.1h0M558.7 140.2h0M555.7 162.1h0M558.7 137.2h0M557.2 120.9h0M558.9 175.5h0M559.7 184h0M555.1 149.5h0M558.8 173.2h0M558.8 194.6h0M558.4 175.8h0M555.6 158.8h0M558.4 134.7h0M556.5 149.2h0M560.5 181.7h0M560.9 173.9h0M556.6 141.4h0M557.4 156.8h0M555.1 159.4h0M558.9 114.6h0M558.2 175.1h0M555.5 63.9h0" stroke="#7a52ae" stroke-opacity="0.46" stroke-width="2.9" stroke-linecap="round" fill="none"/><path d="M558.8 162.8h0M561.8 162.3h0M559.7 110h0M559.5 165.2h0M558.1 134.9h0M557.5 184.3h0M558.3 161.2h0M558.3 141.4h0M557.4 153.3h0M559.8 169.3h0M561.6 154.6h0M557.9 166.3h0M556.7 148.4h0M561 160.4h0M557.7 138.6h0M560.4 171.4h0M559.4 176.3h0M560.6 117.7h0M559.7 155.1h0M560.1 166.7h0M560.5 187.4h0M555.9 129.3h0M559.2 204.8h0M557.1 140.1h0M556.9 108.3h0M556.3 112.3h0M555.1 152.1h0M559.6 171.4h0M555.8 147.9h0M562.3 172.4h0M555.2 201.4h0M559.5 183.5h0M561.4 168.9h0M560.1 173.8h0M561.4 165.3h0M554.8 168.2h0M560.9 153.3h0M557.1 156.1h0M558.9 157.2h0M560 164.3h0M560.5 184h0M559.2 165.9h0M560.3 152.2h0M558.9 162.6h0M560.1 159.6h0M559.3 149.4h0M558.7 150.1h0M556.1 190.1h0M559.1 155.3h0M558.3 180.9h0M559.6 153.6h0M556.1 161.1h0M558.3 151.3h0M560.7 152h0M556.9 158.7h0M558.9 192.7h0M557.9 107.1h0M557 152.6h0M559.4 160.7h0M561.6 137.8h0M562.2 162.6h0M561.7 144.7h0M556.6 95h0" stroke="#7a52ae" stroke-opacity="0.46" stroke-width="2.9" stroke-linecap="round" fill="none"/><path d="M558.3 131.3h0M558.4 120.8h0M557.5 145.3h0M557.4 194.2h0M557.4 126.1h0M558.6 153.1h0M558.2 177.7h0M555.4 167.1h0M556.7 146.7h0M560.4 160.4h0M559.9 137.1h0M559 172h0M555.9 136.1h0M558.2 182.1h0M556.1 142.7h0M560.3 190.6h0M558.6 162.1h0M557.2 154.4h0M555.4 185.7h0M559.8 135.1h0M562.1 131.6h0M558.4 160.5h0M558.5 152.9h0M560 204.9h0M559.5 133.2h0M556.4 144.4h0M559.5 185.8h0M558.2 161.7h0M558.6 140.9h0M557.8 203.4h0M559.1 159.6h0M560.2 128.3h0M557.4 137.1h0M556.4 125.5h0M557.4 179.4h0M558.6 124.8h0M558.6 151h0M559.4 160.5h0M555.4 167h0M557.9 167.7h0M557.9 206.3h0M557.9 141h0M558.2 107.9h0M558.2 159.8h0M556.6 140.2h0M561.3 134.4h0M562.2 183.5h0M557.9 161.1h0M560.6 134.8h0M559.6 139.8h0M559.7 181.6h0M558.6 166.4h0M560.5 144.5h0M562.1 163.6h0M557.7 168.6h0M557.1 145h0M556.8 166.7h0M561.1 176.6h0M559.5 173.7h0M558.9 137.1h0M560.3 196.4h0M557.9 64.3h0" stroke="#7a52ae" stroke-opacity="0.46" stroke-width="2.9" stroke-linecap="round" fill="none"/><path d="M561.4 177.5h0M558.8 178.8h0M555 154.3h0M558.1 145.1h0M558.1 120.5h0M556.1 168.7h0M557.7 166.9h0M559.5 154.3h0M554.8 133.9h0M561 194.7h0M560.5 165.8h0M555.5 174.6h0M557.3 179.3h0M557.9 168.2h0M558.6 121.6h0M557.8 139.3h0M558.8 185.3h0M561.2 166.8h0M558.5 179.3h0M557.3 153.2h0M558.3 138h0M558.5 145.7h0M556.3 160.9h0M558.2 162.9h0M556.3 164.1h0M557.9 162.7h0M555.2 143.6h0M555.2 177.4h0M561.3 148.3h0M556.7 161.5h0M559.6 141.2h0M558.2 124.7h0M558.8 181.3h0M558.1 179h0M555.8 135.2h0M561 136.4h0M558.4 149.2h0M558.4 105.5h0M554.6 141h0M555.7 113.7h0M560.2 170.8h0M558.9 166.8h0M557 140.2h0M557.2 150.4h0M558.6 180.2h0M557.2 115.8h0M560.2 122.2h0M555.6 173.6h0M559.4 143.2h0M558.2 189h0M561 121.6h0M554.9 134.5h0M556.4 169.7h0M558.1 134.8h0M558.8 176.4h0M558.5 185.5h0M560.1 162.7h0M561.9 168.1h0M557.3 155.5h0M558.6 183.7h0M559.3 159.9h0M556.5 73.2h0" stroke="#7a52ae" stroke-opacity="0.46" stroke-width="2.9" stroke-linecap="round" fill="none"/><path d="M557.6 179.1h0M560.6 145.1h0M555.9 128.4h0M557.1 173.7h0M558.5 190.1h0M556.2 121.8h0M557.1 170.5h0M556.6 123.4h0M559.5 142.8h0M561.1 188h0M558.1 153h0M555.9 191.9h0M559.7 147.3h0M554.4 161.2h0M560.4 145.5h0M556.7 166.1h0M557.4 159.6h0M556.5 157.9h0M556.6 155h0M559.5 121.2h0M558.9 129.3h0M558.1 189h0M558.6 146.6h0M558.2 150.7h0M558.7 163.7h0M558.9 187.4h0M561 165.8h0M559.8 150.1h0M561.5 131h0M559.8 199.5h0M557.5 134.2h0M554.6 170.8h0M558.7 147.6h0M557.1 181.2h0M558.3 158.1h0M558.9 150h0M559.6 169.3h0M556 149.2h0M557.7 192.6h0M557.8 162.9h0M556.3 176.8h0M560.6 167.7h0M562 136.8h0M556.2 168.3h0M554.8 176h0M557.4 205.3h0M555.8 171.4h0M554.4 152.8h0M558.3 172.5h0M561.3 175.9h0M556 126.8h0M554.3 204h0M560.9 146.4h0M561.6 177.1h0M556.8 150.1h0M560.1 131.4h0M560.1 163.1h0M560.7 196h0M557.1 177.8h0M561.1 169.7h0M558.7 156h0M558.9 85.1h0" stroke="#7a52ae" stroke-opacity="0.46" stroke-width="2.9" stroke-linecap="round" fill="none"/><path d="M558 145.7h0M556.7 118.8h0M555.6 156.5h0M561.5 181.1h0M555.5 118.5h0M558 169h0M560.9 157.1h0M560.7 149.6h0M559.9 161.2h0M559.2 186.4h0M560 179.1h0M556 147.3h0M559.8 162.2h0M561.9 200.5h0M557 147.1h0M558.6 137.3h0M557.8 164.4h0M558.8 162.5h0M557 139h0M556.5 149h0M557.5 172.7h0M558.3 128.5h0M558.2 187.7h0M558.5 143.8h0M556.2 177h0M560.2 162.4h0M555.3 174.5h0M558.7 198.7h0M558 155.1h0M558.3 194.1h0M557.2 155.8h0M557.2 141.1h0M557.5 147.2h0M557.4 192.7h0M556.1 147.5h0M558.9 134.1h0M558.4 119.6h0M559.6 146.1h0M559.6 134.8h0M558.5 171.6h0M559.1 175.8h0M558.5 166.3h0M559.6 146.3h0M556 176.1h0M559.4 162.2h0M557.7 168h0M559.8 177.6h0M559.1 171.1h0M559.3 131.4h0M556.4 195.2h0M555.3 152.4h0M557.1 164.5h0M557.5 187.7h0M558.6 199.4h0M558.3 140.4h0M560.8 127.9h0M555.2 150.4h0M558.9 184h0M559.8 161.6h0M557.1 200.9h0M557.5 146.9h0M560.9 71h0" stroke="#7a52ae" stroke-opacity="0.46" stroke-width="2.9" stroke-linecap="round" fill="none"/><path d="M558.3 145.1V99.3M558.3 176.2V206.1" stroke="#7448a6" stroke-width="1.0"/><rect x="554.2" y="145.1" width="8.2" height="31.1" fill="#ffffff" fill-opacity="0.5" stroke="#7448a6" stroke-width="1.25"/><path d="M554.2 160.8H562.4" stroke="#7448a6" stroke-width="1.6"/><path d="M569.1 173.4h0M571.5 134.6h0M572 164.3h0M569.8 171.2h0M568.1 128.2h0M571.8 153.2h0M567 140.7h0M572.2 149.4h0M573.9 159.2h0M566.3 137.9h0M569.3 148.7h0M569.9 141.3h0M570.5 137.3h0M569.4 129.5h0M571.8 170h0M570.3 105.9h0M569.4 144.3h0M568.4 162.9h0M570.8 138.5h0M569.4 171.8h0M570.8 109.6h0M571.9 168.6h0M568.8 174h0M573.7 143.6h0M569.1 158.3h0M569.1 148.8h0M573.7 110.5h0M571.8 157.2h0M569.3 132.1h0M569.9 126.3h0M567.4 176.4h0M569 151.3h0M568.9 153.2h0M570.3 161h0M573.7 161.1h0M568.4 164.2h0M571.6 169.4h0M569.9 111.1h0M567.5 127.1h0M568.2 147.7h0M567.4 158.9h0M570.6 125.4h0M569.5 166.7h0M570.7 105.4h0M569.6 118.5h0M568.6 138.6h0M568.5 156.3h0M571.3 141.3h0M569.3 159.2h0M568.4 132h0M572.4 141.3h0M571.3 154.8h0M567.1 131.9h0M571.9 128h0M570.4 125.6h0M570.2 126.6h0M572.9 153h0M571.7 145.3h0M570.5 181.1h0M568.3 151.1h0M573.3 158.8h0M570.5 149h0M567 123.1h0M569.6 138.8h0M568.6 148.4h0M570 147.8h0M572.5 142.2h0M571.4 157.8h0M567.4 140h0M573.4 110.9h0M569.9 92.5h0" stroke="#e5381a" stroke-opacity="0.46" stroke-width="2.9" stroke-linecap="round" fill="none"/><path d="M569.2 131.5h0M566.4 160.7h0M569.6 115.1h0M570.1 146.5h0M566.3 136.4h0M568.4 133.1h0M570.7 142h0M569.3 139.6h0M572 148.6h0M571.1 110.2h0M569.2 152.8h0M570 170.6h0M572.7 168.3h0M569.1 146.3h0M569.2 161.6h0M570.8 121.3h0M567 95.3h0M569.1 132.3h0M570.6 155.2h0M570.5 155.7h0M569.1 154.8h0M569.5 132.1h0M566.5 159.7h0M567.8 180.3h0M566.2 142.9h0M569.9 126.6h0M570.6 116.2h0M573.9 104.5h0M570.5 161.2h0M571.5 162.8h0M571.1 184.2h0M569.8 145.2h0M568.3 135.6h0M571.5 116h0M568.9 150.5h0M572.4 152.6h0M572.7 160.2h0M572.2 182.5h0M569.1 134.3h0M570.5 143h0M570.2 137.6h0M569.3 184.1h0M572.8 137.3h0M570.4 151h0M569.4 134.7h0M567.9 135.7h0M570.6 162.7h0M569.8 165.3h0M567.4 127.2h0M570 153.8h0M573.1 156.8h0M571.8 137.7h0M568.5 152.7h0M570 141.8h0M572.2 133.4h0M570.6 159h0M567.1 138.8h0M569.8 138.2h0M571.7 175.1h0M567.8 175.8h0M570.9 137.6h0M570.2 170.3h0M570.4 150.1h0M572.3 158.1h0M570.1 129.5h0M570.3 155.2h0M573.9 161.3h0M571 147.6h0M569.2 165.9h0M571.4 94.5h0" stroke="#e5381a" stroke-opacity="0.46" stroke-width="2.9" stroke-linecap="round" fill="none"/><path d="M571.5 142.1h0M570.4 161.3h0M567.8 119.6h0M568.4 136.5h0M566 122.2h0M572.5 148.8h0M568.8 162.1h0M570.8 160.6h0M571.9 156.5h0M571.5 150.5h0M571.9 170.6h0M566.3 153.5h0M568.8 189.1h0M567.9 129.8h0M568.7 153.8h0M570.6 172.6h0M571.5 134.7h0M572.9 125.1h0M571.7 99h0M570.3 145.9h0M571.3 162.4h0M571.5 155.9h0M571.3 146.4h0M571.8 156.3h0M567.4 123h0M569.7 159.7h0M569.8 169h0M572.4 136.7h0M568.6 159.4h0M573.3 143.9h0M567.2 131.5h0M566.5 154h0M568.1 114h0M569.4 148.4h0M567.9 166.6h0M568.7 139.4h0M573.7 147.6h0M570.4 175.1h0M567.4 181.5h0M565.8 129.8h0M568.2 156.5h0M568.5 137.3h0M567.3 110.9h0M567.7 150.6h0M572.6 168h0M569.8 108h0M573.1 156.4h0M568.8 159.1h0M567.3 157.4h0M570.4 182.6h0M567.4 169.9h0M570.1 194.7h0M571.1 154.4h0M567.2 154.7h0M569.2 162.8h0M568.7 131.4h0M572.6 156h0M569.8 168.5h0M569.5 132h0M572.5 126.3h0M569.8 132.3h0M568.5 178.5h0M569.7 155.7h0M569.3 169.5h0M571.5 139.9h0M567.3 133.8h0M572.6 127.1h0M572.2 128.6h0M566.2 133.2h0M566.3 94h0" stroke="#e5381a" stroke-opacity="0.46" stroke-width="2.9" stroke-linecap="round" fill="none"/><path d="M570.6 176.5h0M569.9 137h0M569.5 169.1h0M570.4 127.5h0M566.8 167.4h0M569 183.2h0M568.1 167.5h0M567.4 158.8h0M569.1 117.4h0M567.9 171.1h0M572.5 129.3h0M571 140.3h0M573.7 129.5h0M571.7 105.1h0M570 159.6h0M568.6 147.6h0M571.5 137.5h0M569.6 160.1h0M571.8 113.6h0M571.8 166h0M571.7 152.5h0M572.1 173.5h0M571.9 113.1h0M572.4 154h0M570.6 173.6h0M568.8 177.2h0M569 147.8h0M572.5 142.4h0M569.3 103.4h0M570.8 174.4h0M570.1 173.2h0M571.5 105.9h0M568.7 147.3h0M570.6 142.1h0M573.4 99h0M566.6 119.7h0M572.8 185.4h0M569.9 129.8h0M566.8 134.2h0M569.1 147h0M567.7 129.3h0M566.5 157.8h0M569.1 155.6h0M567.5 168.5h0M570.4 186.1h0M571.4 158h0M570.3 132.8h0M567.7 143.5h0M571.3 148.6h0M574.1 111h0M570.3 166.9h0M569.5 168.2h0M570.4 168.5h0M568.4 170.1h0M570.3 152.8h0M572 174.2h0M568.2 154.1h0M571.8 177.3h0M571.3 134h0M570.9 166.6h0M566.5 131.3h0M568.4 179.7h0M568.2 147.7h0M565.9 189.8h0M566.6 153.9h0M571.3 137.9h0M569 158.1h0M570.7 158.2h0M569.2 179.3h0M568.6 91.6h0" stroke="#e5381a" stroke-opacity="0.46" stroke-width="2.9" stroke-linecap="round" fill="none"/><path d="M567 103.7h0M566.4 193.7h0M571 172.9h0M569.1 146h0M570.9 111.9h0M569.8 159.9h0M566.4 155.7h0M568.4 159.3h0M568.1 161.4h0M571.1 130.3h0M571.4 139.9h0M571 131.9h0M570.1 123h0M569.9 119.8h0M570.6 139.4h0M571.1 155.6h0M571.6 123.4h0M572.5 137.8h0M572 132.2h0M571.8 123.4h0M570.2 135.4h0M572.7 169.9h0M567.6 189.5h0M568.2 134.8h0M570.2 146.5h0M569.9 152h0M572.2 180.1h0M571.4 122.2h0M570.8 133.7h0M571.9 122.6h0M569.8 174.3h0M570.4 171.1h0M569.3 129.5h0M570.8 132h0M572.4 144.2h0M569.4 141.2h0M568.2 158.2h0M571.2 196.8h0M568.7 167h0M570.5 122h0M569.3 155.4h0M568.3 131.9h0M570 130.4h0M567.9 130.6h0M571.1 142.2h0M568.8 151.4h0M570.8 163.3h0M570.6 142.6h0M570.6 150.7h0M569.9 153.1h0M571.8 160.2h0M567 146.2h0M570.3 152.2h0M570.7 139h0M570.8 108.7h0M566.5 134.1h0M566.6 143.3h0M569.2 138.7h0M567.9 154.5h0M572.4 164.3h0M570.6 149.1h0M570 126.4h0M572.3 112.8h0M567.1 167.8h0M568.1 110.3h0M569.3 148.8h0M566.4 160.7h0M569.1 158.5h0M571.9 118.8h0M567.3 94.9h0" stroke="#e5381a" stroke-opacity="0.46" stroke-width="2.9" stroke-linecap="round" fill="none"/><path d="M571.9 155.9h0M572.1 122.8h0M571.8 118.9h0M570.3 162.8h0M567.4 135.1h0M566.7 139.3h0M566.8 143.1h0M567.8 153.1h0M571.3 165.9h0M570.6 168h0M570.3 150.6h0M568.8 183.7h0M571.6 167.9h0M570 143.8h0M568.2 133.9h0M570.3 182.1h0M570 161.4h0M571.9 124.2h0M569.2 149.8h0M568.8 171.5h0M568.6 123.1h0M572.9 119.7h0M572.3 144h0M570.3 153.8h0M568.9 152.1h0M567.9 173.2h0M572.6 151.3h0M571.2 155.6h0M569.7 162.5h0M569.5 162.4h0M568.9 147.6h0M569.3 161.6h0M572.3 138.5h0M567.5 118.9h0M566.6 149h0M567.9 144.7h0M569.5 147.2h0M572.1 96.6h0M570.3 152.2h0M570.7 140.8h0M573.1 154.6h0M569.1 133.6h0M568.7 152.2h0M571.6 133.2h0M567.6 114.6h0M569 126.2h0M568.3 154.8h0M569.8 163.5h0M570.9 161.2h0M567.5 145.1h0M567.9 133h0M569.3 170.7h0M570.4 177.9h0M573.7 165.4h0M571.8 134.6h0M572.5 127.1h0M568.1 138.9h0M568.9 195.8h0M568.7 155.3h0M567.5 144.6h0M569.3 165.6h0M569.9 176.2h0M568.8 176.7h0M571.9 167.8h0M572.4 160.8h0M570.2 134.8h0M566.9 132.1h0M570.3 125.9h0M569.8 119.5h0M573.4 92.9h0" stroke="#e5381a" stroke-opacity="0.46" stroke-width="2.9" stroke-linecap="round" fill="none"/><path d="M570 132.4V97.4M570 160.3V198.5" stroke="#e0302a" stroke-width="1.0"/><rect x="565.9" y="132.4" width="8.2" height="27.9" fill="#fff4ea" fill-opacity="0.5" stroke="#e0302a" stroke-width="1.25"/><path d="M565.9 147.3H574.1" stroke="#e0302a" stroke-width="1.6"/><path d="M578.9 123.3h0M580.7 121.6h0M581.1 146.4h0M579.3 139.6h0M581.6 136.6h0M581.9 154.7h0" stroke="#4462bd" stroke-opacity="0.46" stroke-width="2.9" stroke-linecap="round" fill="none"/><path d="M580.5 135.3h0M583.4 141.4h0M578.8 134.5h0M583.5 161.3h0M579.3 136.1h0M584 157.7h0" stroke="#4462bd" stroke-opacity="0.46" stroke-width="2.9" stroke-linecap="round" fill="none"/><path d="M578.8 147.1h0M585.4 161.5h0M581 144h0M582.1 176.4h0M581.8 159.5h0M582.2 166.7h0" stroke="#4462bd" stroke-opacity="0.46" stroke-width="2.9" stroke-linecap="round" fill="none"/><path d="M582.3 171.8h0M581.8 122.4h0M580.7 127.7h0M578.2 139.9h0M579.4 141.7h0M581.7 133.3h0" stroke="#4462bd" stroke-opacity="0.46" stroke-width="2.9" stroke-linecap="round" fill="none"/><path d="M578.7 173.1h0M585 115.7h0M583.8 166.6h0M583.3 131.5h0M583.5 168.4h0M582.5 141.9h0" stroke="#4462bd" stroke-opacity="0.46" stroke-width="2.9" stroke-linecap="round" fill="none"/><path d="M584.2 152.3h0M580.2 135.1h0M584.2 112h0M585.1 154.7h0M584.8 151.5h0" stroke="#4462bd" stroke-opacity="0.46" stroke-width="2.9" stroke-linecap="round" fill="none"/><path d="M581.8 124.3V107.7M581.8 155.9V183.8" stroke="#2d53a8" stroke-width="1.0"/><rect x="577.7" y="124.3" width="8.2" height="31.6" fill="#ffffff" fill-opacity="0.5" stroke="#2d53a8" stroke-width="1.25"/><path d="M577.7 140H585.9" stroke="#2d53a8" stroke-width="1.6"/><path d="M597.2 137.6h0M596.8 163.2h0M596.6 132.4h0M593.8 135.7h0M591.6 180.9h0M590.7 149.8h0M594.6 157.8h0M593 155.7h0M592.4 135.4h0M591.8 122.4h0M592.5 161.9h0M594.3 156.3h0M594.1 182h0M594 163.2h0M590.7 129.2h0M594 133.5h0M594.3 143.1h0M593.4 138.6h0M595 185.7h0M592.2 176.6h0M595.2 127h0M593.6 89.4h0M597.2 146.3h0M592.3 108.3h0M597.2 168.5h0" stroke="#e5381a" stroke-opacity="0.46" stroke-width="2.9" stroke-linecap="round" fill="none"/><path d="M596.2 171.9h0M593.2 144.6h0M590.8 172.4h0M592.7 151.3h0M595.4 127.4h0M592.2 129.6h0M593.6 162h0M591.6 173.9h0M596.3 161.1h0M595.7 141.6h0M595 88h0M592.7 107.3h0M596.3 165.3h0M594.9 179.1h0M592.2 136.8h0M592 168.1h0M591.7 88.4h0M594.4 183.1h0M595.5 153.2h0M596 143.5h0M596.5 122.1h0M594.4 97.9h0M593.7 191.3h0M592.6 174.7h0M596 145.8h0" stroke="#e5381a" stroke-opacity="0.46" stroke-width="2.9" stroke-linecap="round" fill="none"/><path d="M593.6 164.8h0M594.2 146.1h0M591.7 99.6h0M592.7 132.4h0M593.8 111.4h0M591.3 146.5h0M592 172.6h0M593 161h0M590.9 172.3h0M595.4 163.9h0M593.5 103.9h0M591.9 164.9h0M594.4 141h0M596.2 137.2h0M592.4 178.4h0M594 174.6h0M594.1 166.9h0M594.2 158.7h0M595.5 167.2h0M590.8 120.6h0M594.3 137.3h0M591.2 109.9h0M592.6 150.8h0M595.1 161.9h0M593.1 175.9h0" stroke="#e5381a" stroke-opacity="0.46" stroke-width="2.9" stroke-linecap="round" fill="none"/><path d="M593.5 109.5h0M594.7 173.9h0M593.2 103.7h0M591.2 110.9h0M594.6 178.8h0M594.4 125.4h0M592.7 192.3h0M590.5 115.6h0M593.8 189.6h0M593 99.2h0M594.3 170.3h0M594.7 146.3h0M593.6 166.6h0M596.1 88.6h0M594.5 132h0M594.4 169.7h0M592 116.3h0M592.3 131.7h0M590.5 162.4h0M596.1 178.3h0M594.6 132.3h0M589.6 174.4h0M592 181.4h0M592.9 154.6h0M592.8 152.8h0" stroke="#e5381a" stroke-opacity="0.46" stroke-width="2.9" stroke-linecap="round" fill="none"/><path d="M591.7 135.1h0M595.7 189h0M594.9 168.3h0M592.3 164.4h0M591.6 138.4h0M592.7 152.9h0M593.1 154h0M591.9 144.2h0M596.7 165.7h0M591.8 137.3h0M592 105.8h0M593.3 103.9h0M593.7 149h0M592.3 153h0M593.8 128.6h0M594.4 108.6h0M593.6 160.2h0M593.2 158.3h0M596.8 165.7h0M593.5 136.1h0M596.4 155.3h0M596.4 150.2h0M592 176.3h0M594.3 160h0M596.2 150.5h0" stroke="#e5381a" stroke-opacity="0.46" stroke-width="2.9" stroke-linecap="round" fill="none"/><path d="M592.6 152.2h0M592.1 111.4h0M593.2 167.5h0M597.2 140.3h0M591.1 188.2h0M592.6 111.5h0M595.9 150.2h0M591.4 106.8h0M592 142.6h0M595.8 143.6h0M597.4 140.4h0M594.7 142.4h0M589.6 124.1h0M593.8 133.4h0M596.4 167.7h0M592 115.9h0M596.9 119h0M596 121.1h0M594.8 187.7h0M591.3 160h0M591.8 168.4h0M595.3 124.2h0M596.8 130.2h0M597.2 156.5h0M592.8 156.7h0" stroke="#e5381a" stroke-opacity="0.46" stroke-width="2.9" stroke-linecap="round" fill="none"/><path d="M593.5 125.8V74.4M593.5 166.2V194.6" stroke="#e0302a" stroke-width="1.0"/><rect x="589.4" y="125.8" width="8.2" height="40.4" fill="#fff4ea" fill-opacity="0.5" stroke="#e0302a" stroke-width="1.25"/><path d="M589.4 150.5H597.6" stroke="#e0302a" stroke-width="1.6"/><path d="M603.3 116.6h0M605.2 132.9h0M602.2 137.6h0M606.9 133.8h0M605.2 132.5h0M606.3 117.6h0M603 134h0M605 140.6h0M608.1 108.6h0M606.9 114.9h0M602.7 103.9h0M605.2 123h0M604.2 106.9h0M607.5 119.3h0M602.1 118.2h0M603.4 133.3h0M605.1 105.2h0M603.8 138.1h0M604.3 126.3h0M603.8 122.1h0M604.3 135.1h0M602.5 124.6h0M602.8 111.3h0M605 120.6h0M601.3 129.1h0M603.3 116h0M608.8 71.6h0M604.9 106.7h0M603.8 78h0M605.4 113.5h0M604.2 106h0M605.2 130.6h0M605.6 116.7h0M603.2 130.4h0M603 109.5h0M604.6 89.5h0M604.9 109.4h0M604.8 107.6h0M605.8 90h0M605.8 92.5h0M607.8 136.7h0M603.8 98h0M605.7 110.3h0M603 140.3h0M604.9 94.5h0M606.3 139.6h0M602.9 84.2h0M604.5 92.9h0M607.8 85.7h0M607.9 84.8h0M605.7 97.2h0M607.3 105.8h0M606.3 140.9h0M603.2 151.4h0M605.5 103.2h0M604.5 115.2h0M605.3 102.5h0M604.4 119h0M605.1 88.4h0M603.6 110.8h0M606.1 113.6h0M606.4 102.7h0M606.8 123.5h0M604.8 113.1h0M608.1 122.4h0M604.2 128.8h0M607 114.4h0M604.3 116.7h0M603.4 82.5h0M604 130.9h0M608 143h0M604.2 85.9h0M603.3 138.7h0M605.8 99.6h0M603.7 120.3h0M603.9 77.2h0M604 116.4h0M606.6 78.8h0M604.2 112.8h0M604.7 150.8h0M604.1 132.9h0M602.7 99.2h0M607.3 85.8h0M604 117.9h0M606.3 181.3h0" stroke="#e5381a" stroke-opacity="0.46" stroke-width="2.9" stroke-linecap="round" fill="none"/><path d="M601.3 124.9h0M606.2 129.7h0M606 120.4h0M607.8 114.9h0M604 136.1h0M607.5 77.3h0M603.1 140.2h0M607.6 82.6h0M605.5 155.8h0M606.2 94.3h0M606.6 112.5h0M604.8 119.9h0M608.8 117.1h0M608 146.3h0M607.3 114.2h0M604.5 131.1h0M603.8 78.9h0M607.5 121.9h0M605.4 131.6h0M603 132.1h0M606.3 97.5h0M604 135.3h0M605 85.9h0M607.4 87.1h0M601.7 114.7h0M608.8 109.9h0M604.1 86.6h0M607.3 111.5h0M606.9 106.9h0M606.9 110.9h0M604.6 126.3h0M603.2 102.7h0M607.2 120.9h0M603 87.8h0M607.1 81h0M605.5 86.3h0M602.6 103.7h0M608.3 109.7h0M603.1 113.8h0M603.2 152.8h0M605.7 143.3h0M605.5 122.8h0M607.3 119.6h0M606.6 101.3h0M605.6 129h0M605.7 121.5h0M606.5 95.2h0M606.5 107.9h0M606.3 130.3h0M606 101.1h0M606.1 79.9h0M605.1 131.9h0M608.5 137.3h0M605.2 71.2h0M608.9 102.3h0M605.1 148.7h0M604.3 96.1h0M606.6 116.3h0M601.9 141.8h0M606.3 131.8h0M603.8 114.7h0M604.6 90.3h0M603.9 126.3h0M606 116.1h0M605.5 93h0M604.8 108.8h0M605.1 100.4h0M605.5 104.6h0M606.2 141.7h0M606.3 92.5h0M606.3 83h0M601.8 107.8h0M608.5 83.8h0M605.2 117.1h0M606.5 146.8h0M605.9 119.7h0M607.2 102.6h0M602.2 93.4h0M604.5 148.7h0M605.8 149.7h0M605.8 110.2h0M607.5 106.5h0M604.5 120.1h0M605.7 105.8h0M604.7 174.5h0" stroke="#e5381a" stroke-opacity="0.46" stroke-width="2.9" stroke-linecap="round" fill="none"/><path d="M601.6 120.8h0M608.3 114.3h0M605 131.2h0M606.2 100.3h0M601.8 108.9h0M607.6 119.7h0M603.7 133.4h0M602.8 104h0M602.5 145.2h0M603.9 112.2h0M602.9 104.9h0M605.3 84.5h0M602.4 90.6h0M607.3 106.9h0M605.4 129.5h0M605.5 127h0M607.6 151.6h0M607.1 123.8h0M602.6 111.5h0M605.4 70.2h0M602.6 104.7h0M608.7 132.6h0M604.5 136.1h0M604.1 116.5h0M604.3 124.5h0M607.3 88h0M606.1 84.6h0M607.8 102h0M605.8 127.1h0M606.2 130.4h0M604.1 118.3h0M608.7 104.5h0M604.8 91.5h0M607.6 85.4h0M604.9 118h0M605.2 101.4h0M604.4 82.6h0M606.4 120.9h0M607.8 110.9h0M607.7 133.9h0M604.7 91.3h0M603.7 84.7h0M605.5 77.5h0M601.4 98.5h0M606.4 112.7h0M605.4 91.6h0M602.3 103.9h0M601.9 92h0M608 135.2h0M604.9 110.9h0M605.5 130.4h0M605.8 100.6h0M605.3 135.3h0M607.4 103.5h0M603.6 73.7h0M607.6 143.8h0M605.3 131.1h0M605.8 119.8h0M601.1 103.8h0M603.1 128.7h0M608.1 117.8h0M603.9 142h0M607 79.5h0M606 117.7h0M602.5 106.3h0M608 97.3h0M606.3 106.6h0M607 136h0M605.6 107.5h0M605.2 107.2h0M603.2 90.8h0M603.1 106.8h0M605.9 91.2h0M605.6 86.7h0M604.8 140.6h0M604.3 124.7h0M606.9 125.9h0M604.9 110.1h0M607.7 115.6h0M602.9 113.3h0M601.6 93h0M605.9 124.8h0M604.3 109h0M606.4 148.5h0M605.6 182.9h0" stroke="#e5381a" stroke-opacity="0.46" stroke-width="2.9" stroke-linecap="round" fill="none"/><path d="M606.5 79h0M604.1 143.1h0M604.7 110.2h0M604.2 119.6h0M605.1 113.7h0M604 107.8h0M606.9 98.1h0M603.1 133.5h0M605.2 100.3h0M609.5 119.6h0M605.9 136.1h0M609.4 85.8h0M605.1 147.4h0M606.8 136.7h0M603.1 115.1h0M606.5 83.3h0M604.2 147.2h0M606.8 100h0M607.7 115.4h0M604.2 130.3h0M602.4 129.5h0M605.5 104.2h0M605.2 138.6h0M606.8 126.9h0M606.5 104.6h0M603.4 114.4h0M606.5 142.2h0M605.6 155h0M607.1 134.4h0M605.3 80.9h0M605.5 148.7h0M605.1 99.1h0M604.1 137.4h0M606.9 123h0M605.7 93.9h0M603.5 115.1h0M607.6 133.4h0M604.2 107.6h0M604.2 119.5h0M605.7 90.4h0M605.5 109.8h0M603.8 117.5h0M606.7 86.7h0M603.9 112.8h0M605.2 108.5h0M605.6 115.5h0M605.2 101h0M604.7 141.4h0M605.7 91.1h0M603.8 85.8h0M603.4 71.6h0M605 113.3h0M605.3 113.7h0M604.2 168.9h0M606.9 67.8h0M604 92.2h0M604.4 81.7h0M603.6 91.6h0M603.4 141.7h0M607.2 138.5h0M605 111.3h0M607.2 129.5h0M606.7 107h0M606.1 87h0M604.5 119h0M604.9 97.1h0M603 89.1h0M603.2 86h0M608.2 100.8h0M605.3 117.3h0M604.3 140.8h0M604.7 109.3h0M604.5 112.9h0M603.7 119.6h0M604.4 92.1h0M608.1 89.8h0M604.6 136.3h0M609.4 114.9h0M602.4 151.8h0M604.9 102.4h0M603.3 92.9h0M602.6 135.9h0M608.3 79.9h0M601.8 179.2h0M605.1 178.9h0" stroke="#e5381a" stroke-opacity="0.46" stroke-width="2.9" stroke-linecap="round" fill="none"/><path d="M607.6 104.1h0M608.1 119h0M607.3 79.6h0M602.5 143.9h0M607.1 130.8h0M604.9 120.6h0M605.8 95.9h0M606 118.7h0M607.4 102.2h0M606.4 149.6h0M607.3 164.5h0M604 106.5h0M604.7 96.7h0M602.7 138.8h0M607.1 78.3h0M604.9 103.2h0M603.3 109.4h0M604.9 131.7h0M605 96.7h0M605 101h0M608.1 146h0M607.8 130.4h0M608.2 85.9h0M603.1 113.4h0M608.8 108h0M604.6 130.7h0M605.1 72.4h0M604.8 92.5h0M606.2 118.6h0M602.4 119.2h0M606.9 147.6h0M605.8 99.9h0M603.5 133.2h0M605.8 144.2h0M602.9 96.9h0M607.9 88h0M608.9 117.3h0M606.4 115.5h0M604.4 130.7h0M603.7 83.9h0M606.6 115.6h0M606.5 96h0M601.7 133.7h0M607.1 134h0M601.7 126.6h0M608 118.9h0M604.7 92.2h0M602.7 135.3h0M608.9 117.8h0M608.8 147.9h0M603.1 139.6h0M607.3 126.6h0M606.2 144.9h0M604.2 99.8h0M606 107.1h0M608.2 117.4h0M604.7 131.4h0M603.1 94.9h0M607.9 95.9h0M604.3 116h0M602.9 99.1h0M604.1 120.9h0M605.2 81.1h0M604.4 109.6h0M607.7 95.7h0M608.3 116.4h0M605.4 120.3h0M607.8 118.6h0M605.4 113.5h0M605.8 165.6h0M606 144.3h0M604.1 77.5h0M602.2 116h0M604.8 116.6h0M606.8 128.9h0M606.1 100.4h0M603.5 134.3h0M605.3 115.8h0M605.9 123.1h0M605.2 103.3h0M608.4 111.6h0M607.5 124.4h0M606.4 142.4h0M606.5 177.2h0M604 179.4h0" stroke="#e5381a" stroke-opacity="0.46" stroke-width="2.9" stroke-linecap="round" fill="none"/><path d="M602.8 121h0M605.1 118.5h0M603.9 74.2h0M603 127.3h0M606 79.7h0M601.8 117.9h0M603.7 95.4h0M608.3 115.5h0M606 133.3h0M605.3 136.8h0M603.9 126.8h0M604.3 111.9h0M608.1 106.1h0M602.4 116.5h0M605 114h0M605.1 83.7h0M605.6 103.1h0M608.5 136.6h0M605.9 126.1h0M606.8 102.4h0M607 122.1h0M609.5 136.6h0M606.9 157.9h0M607.8 100h0M607.1 128.2h0M604.3 111.7h0M607.3 102.8h0M605.2 142.2h0M604.9 81.4h0M602.3 127.3h0M608.8 102.3h0M608.4 91.1h0M604.5 140.4h0M607.2 129.7h0M603.3 143.9h0M607.8 101.3h0M605.2 123.1h0M602.6 86.4h0M606.2 103.8h0M603.9 132.4h0M605.9 130.6h0M605.3 102.2h0M604.8 78.3h0M603.5 132.4h0M605.5 135.5h0M605.7 77.4h0M605.9 106.8h0M603.3 82.1h0M603.9 111.1h0M606.7 125.9h0M607.8 100.5h0M602.1 143.7h0M607.4 128.7h0M601.4 107.5h0M607.9 155.2h0M605.1 121.2h0M603.1 98.9h0M607.4 112.6h0M608.2 115.8h0M604.9 109.5h0M608.4 131.1h0M606.1 135.6h0M606.8 116.5h0M607.2 157.1h0M604.7 106.9h0M603.4 125.1h0M605.9 113.8h0M605.1 83.5h0M605.2 100.6h0M605.6 96.1h0M607.6 103.9h0M604.8 101.5h0M609.1 82h0M605.8 149.4h0M606.3 93.2h0M603.4 80.8h0M606.5 133.2h0M603.1 86.4h0M606 130.4h0M606.2 132h0M607.2 133.5h0M602.1 89h0M604.9 123.7h0M605.9 172.1h0" stroke="#e5381a" stroke-opacity="0.46" stroke-width="2.9" stroke-linecap="round" fill="none"/><path d="M605.3 98.8V61.4M605.3 127V171.1" stroke="#e0302a" stroke-width="1.0"/><rect x="601.2" y="98.8" width="8.2" height="28.2" fill="#fff4ea" fill-opacity="0.5" stroke="#e0302a" stroke-width="1.25"/><path d="M601.2 112.8H609.4" stroke="#e0302a" stroke-width="1.6"/><path d="M618.5 116h0M617.9 112h0M617.5 109.9h0M618.4 90.2h0M617.3 113.1h0M618.6 112.8h0M615.7 102.2h0M616.3 102.7h0M617.9 109.9h0M616.6 103.8h0M620.3 135.1h0" stroke="#4462bd" stroke-opacity="0.46" stroke-width="2.9" stroke-linecap="round" fill="none"/><path d="M614.6 100.4h0M618.8 99.2h0M619.3 118.4h0M617.3 106.8h0M616.1 95.1h0M617.6 102.7h0M617.2 113h0M617.3 106.2h0M615.5 112.7h0M616.9 118.9h0" stroke="#4462bd" stroke-opacity="0.46" stroke-width="2.9" stroke-linecap="round" fill="none"/><path d="M618.7 118.8h0M616.4 102.5h0M616.4 95.8h0M617.9 100.2h0M617.4 112.2h0M618.4 103.7h0M617.9 112.4h0M616.5 106.8h0M614.6 104.7h0M619.4 104.7h0" stroke="#4462bd" stroke-opacity="0.46" stroke-width="2.9" stroke-linecap="round" fill="none"/><path d="M618 106h0M615.2 112h0M618.7 94.9h0M617.1 99.9h0M618.7 104.1h0M618 116.6h0M617.2 119.3h0M618.9 105.8h0M618.3 117.1h0M616.7 101.2h0" stroke="#4462bd" stroke-opacity="0.46" stroke-width="2.9" stroke-linecap="round" fill="none"/><path d="M615 93.1h0M615 102.4h0M615.4 110.5h0M619.2 110.8h0M615.8 108h0M617.4 102.8h0M614.1 117.4h0M615.4 98.1h0M617.9 113.2h0M618.1 105.3h0" stroke="#4462bd" stroke-opacity="0.46" stroke-width="2.9" stroke-linecap="round" fill="none"/><path d="M617.5 98.9h0M617.6 117.5h0M619.4 104.2h0M620 125.5h0M614.6 96.4h0M616.7 95.7h0M613.7 126.7h0M616.4 119.1h0M615.5 113.3h0M619.5 144.5h0" stroke="#4462bd" stroke-opacity="0.46" stroke-width="2.9" stroke-linecap="round" fill="none"/><path d="M617.1 98.8V90.8M617.1 112.8V133.9" stroke="#2d53a8" stroke-width="1.0"/><rect x="613" y="98.8" width="8.2" height="14" fill="#ffffff" fill-opacity="0.5" stroke="#2d53a8" stroke-width="1.25"/><path d="M613 106.2H621.2" stroke="#2d53a8" stroke-width="1.6"/><path d="M626.3 158.7h0M629.2 168h0M627.8 139.2h0M628.1 188.3h0M628.9 171.6h0M629.5 184.1h0M632.5 131.6h0M628.9 149.4h0M625 100.9h0M630.4 127.2h0M629.2 180.6h0M629.6 145.4h0M627.2 198.4h0M629.7 139.2h0M626.7 165.3h0M629.7 148.7h0M628.6 152.2h0M630.4 122.7h0M626.3 129.7h0M626.6 152.3h0" stroke="#e5381a" stroke-opacity="0.46" stroke-width="2.9" stroke-linecap="round" fill="none"/><path d="M631.9 156.3h0M627.6 130.3h0M628.4 176.5h0M630 146.5h0M631 177.8h0M627.7 182.8h0M628 137.7h0M630.3 126.6h0M628 181.1h0M631.8 141.1h0M629.2 154.4h0M629.1 166h0M625.8 174.7h0M630.7 190.7h0M630.5 123.5h0M629.1 149.9h0M628.6 170.4h0M628.2 148.2h0M626.8 168.2h0M629.8 132.3h0" stroke="#e5381a" stroke-opacity="0.46" stroke-width="2.9" stroke-linecap="round" fill="none"/><path d="M629 147.9h0M630.6 150.6h0M630.2 156.3h0M627.1 154.7h0M628.1 146.7h0M629.5 172.9h0M630.9 167.1h0M629.8 139.5h0M628 127.3h0M628.6 174.2h0M630.5 164.8h0M626.9 183.9h0M628.4 165.2h0M630.2 167.1h0M628.3 192.9h0M627.5 139.5h0M628.7 157h0M629.4 163.2h0M628 199.3h0M629.4 153.3h0" stroke="#e5381a" stroke-opacity="0.46" stroke-width="2.9" stroke-linecap="round" fill="none"/><path d="M628 122h0M627.6 118h0M627.1 161.3h0M629.2 153h0M628.4 148h0M627.3 110.1h0M629.1 139.3h0M629.9 195.6h0M629.1 189.7h0M627.2 178.3h0M626.4 143.6h0M627.7 199.9h0M630.3 116.6h0M629.8 166h0M627.6 132.8h0M628.8 166.1h0M626.4 162.8h0M630.6 133.6h0M629 179.8h0M625.3 150.2h0" stroke="#e5381a" stroke-opacity="0.46" stroke-width="2.9" stroke-linecap="round" fill="none"/><path d="M629.3 132.1h0M629.4 167.4h0M631.2 167.3h0M627.1 159.3h0M632 143.4h0M630.8 141.6h0M630.9 152.3h0M630.8 170.3h0M630.3 124.9h0M627.3 184.4h0M627.3 167h0M628.1 139.7h0M630.5 129.9h0M626.5 187.4h0M630.1 136.1h0M628.2 177.1h0M628.1 196.9h0M627.6 203.2h0M630.4 143.9h0M626.4 130.4h0" stroke="#e5381a" stroke-opacity="0.46" stroke-width="2.9" stroke-linecap="round" fill="none"/><path d="M626 107.6h0M629.3 137.7h0M629 172.3h0M631.3 148.4h0M629.1 146.5h0M631.3 181.7h0M629.7 156.4h0M627.8 121.9h0M630.8 161.9h0M626.4 197.4h0M625.2 140.2h0M629.1 157.5h0M630.4 161.3h0M629.4 125.3h0M631.2 180.6h0M629.2 179.8h0M630.8 152.8h0M627.3 168.7h0M624.8 142.9h0M624.7 197.7h0" stroke="#e5381a" stroke-opacity="0.46" stroke-width="2.9" stroke-linecap="round" fill="none"/><path d="M628.8 139.3V94.2M628.8 172.1V205.4" stroke="#e0302a" stroke-width="1.0"/><rect x="624.7" y="139.3" width="8.2" height="32.8" fill="#fff4ea" fill-opacity="0.5" stroke="#e0302a" stroke-width="1.25"/><path d="M624.7 156.6H632.9" stroke="#e0302a" stroke-width="1.6"/><path d="M640.2 124.7h0M643.4 181.4h0M639.4 137.2h0M641.2 140.8h0M639.5 180.2h0M644 168.7h0M638.4 189.8h0M642 157h0M640.5 158h0M641.2 119.6h0M640.3 182.6h0M637.2 148.8h0M641.5 144.8h0M641.5 127.2h0M641.3 176.2h0M638.5 165.5h0M641.9 173.9h0M639.1 149.6h0M640.9 144.8h0M639.7 161.6h0M640.9 156.9h0M643.3 134.3h0M640.3 159.1h0M638.8 149.4h0M637.8 148.1h0M641.3 128.2h0M641 137.3h0M640.9 122.7h0M636.9 143.5h0M639 99.6h0M639.3 148.4h0M638.2 167.5h0M640.3 187.2h0M638.7 102.7h0M641.3 137.6h0M638.8 179h0M640.4 195.9h0M641.1 157.3h0M641.9 126.5h0M638.9 167.5h0M636.8 183.1h0M643.4 157.7h0M641.9 164.7h0M641.4 136.7h0M641.1 136.7h0M644.5 177h0M642 146.5h0M641.9 165.9h0M638.5 120.9h0M638.7 155.6h0M642.9 114.4h0M642.6 160.9h0M639.2 190.8h0M641 162.9h0M642.6 124.3h0M639.9 153.3h0M638.7 156h0M643.2 160.8h0M638.2 129.8h0M641.3 163.5h0M640.2 159.2h0M638.2 152.1h0M640.9 145.1h0M640.4 145.5h0M640 126.3h0M640.8 139.1h0M642.1 154.8h0M640.9 171.3h0M639.7 176.8h0M638.2 105.4h0M638.2 174.4h0M640.1 141.3h0M639.5 143.5h0M643 131.1h0M641.5 128h0M639.5 126.7h0M641.6 160.6h0M642.3 194.9h0M638.2 130.6h0M642.5 121.7h0M637.6 200.5h0M637.5 138.4h0M638.9 138.2h0M642.5 177.9h0M640.6 146.8h0M639.6 146.8h0M643.3 99h0M642.2 164.3h0M638.8 169.9h0M640.6 162.4h0M639.3 153.7h0" stroke="#e5381a" stroke-opacity="0.46" stroke-width="2.9" stroke-linecap="round" fill="none"/><path d="M640.3 136.6h0M640.5 172.3h0M638.5 160.9h0M638 170.2h0M643.1 160.8h0M639.6 133.6h0M640.5 140h0M641.1 161.6h0M639.7 175.9h0M641.2 142.3h0M641.8 130.7h0M642.1 115.7h0M637 119.9h0M642.1 142.9h0M638.9 122.2h0M641.2 203.4h0M640.3 184.7h0M643 170.7h0M642.1 149.7h0M637.6 113.1h0M639.8 152.2h0M640.9 155.6h0M640.8 119.5h0M640.5 155.1h0M640.5 127.4h0M639.3 142.1h0M639 145.4h0M640.7 142.4h0M639.3 113.5h0M644 177.2h0M638.5 149.1h0M641.6 169.7h0M643.4 149h0M639.2 149.4h0M636.7 144.6h0M643.2 175.8h0M643.3 188.6h0M642.3 152.9h0M638.8 134.8h0M639.5 139.9h0M641.3 128.3h0M642.6 157.9h0M639.4 105.7h0M642.2 132.8h0M640.8 92.4h0M644.4 111h0M636.5 201.7h0M644.4 131.9h0M640.5 191.9h0M636.7 146.3h0M637.7 130h0M637.9 157.6h0M644.5 167.2h0M641.7 128.4h0M640.1 177.9h0M638.4 153.8h0M641 124.9h0M640.5 147.5h0M640.5 196.8h0M641.2 140.4h0M639.9 150.5h0M639.7 144.5h0M641.3 157.7h0M641.3 124.7h0M640.7 151.6h0M639.4 135.9h0M641.7 160.4h0M642.8 175.7h0M639.1 192.3h0M639 145.1h0M639.2 176.5h0M641.2 150.5h0M642.7 135.1h0M642.7 186.3h0M640.5 165h0M642.8 153.3h0M640.3 141.3h0M640.7 138h0M643.8 124.1h0M640.7 167.1h0M638.1 177.6h0M643.8 123.8h0M638.5 152.1h0M638.4 109.9h0M641.3 113.7h0M642.7 162.1h0M641 134.9h0M638.7 160.5h0M641.9 168.7h0M638.4 147.1h0M638 165.4h0" stroke="#e5381a" stroke-opacity="0.46" stroke-width="2.9" stroke-linecap="round" fill="none"/><path d="M641.1 114.2h0M638.2 123.8h0M641.7 165.1h0M641.3 153.4h0M643.5 130.8h0M641.6 152h0M640.8 128.2h0M638.4 161.9h0M639.8 142.8h0M642.4 178.3h0M639.5 172.2h0M641.2 153.2h0M641.5 120.1h0M639.2 170.3h0M641.9 154.9h0M639.9 183.1h0M643.9 151.1h0M639.4 161.5h0M642.4 151.5h0M638.1 142.9h0M639.3 116.4h0M641.6 167.5h0M643.5 155.5h0M640.3 114.8h0M639.5 163h0M637 121.7h0M642.7 154.2h0M641.2 117.4h0M639 182.8h0M638.9 169.9h0M638.4 164.1h0M640.3 177.3h0M638 138.4h0M640.2 168h0M643.7 154.5h0M638.9 141.9h0M637.3 117.7h0M640.9 196.4h0M639.7 162h0M643.8 140.9h0M640 155.3h0M641.4 118.7h0M642.9 111.4h0M641.1 133.6h0M641 147h0M639.8 124.8h0M641.9 179.3h0M642.5 155.8h0M639.7 158h0M642.3 134.5h0M641.5 182.6h0M642.5 134.1h0M642.9 188.5h0M638.8 185h0M638.6 136.8h0M641.7 149.5h0M643.5 158.6h0M641.9 140.6h0M641.6 156.1h0M643.7 159.6h0M641.8 133.5h0M640.9 175.3h0M637.4 140.6h0M637.4 159.7h0M643.4 140.6h0M638.8 169.5h0M639.5 124.6h0M641.6 169.9h0M642.5 144.6h0M640.6 182.5h0M639.8 161.6h0M644.6 171.7h0M639.1 133.7h0M639.9 195.9h0M638.8 143.1h0M641.1 171.1h0M640.8 124.3h0M639.7 95.8h0M641.3 177.4h0M637.5 156.3h0M637 176.7h0M640.6 147.1h0M641.6 176.9h0M638.2 165.9h0M642.3 130.8h0M640.5 152.1h0M640.3 131.3h0M639.2 171.5h0M637 133.9h0M641 134.3h0M642.4 111.8h0" stroke="#e5381a" stroke-opacity="0.46" stroke-width="2.9" stroke-linecap="round" fill="none"/><path d="M642.1 162.3h0M640.3 164.9h0M641.2 154.4h0M640.5 180.9h0M642.7 144.5h0M639.7 142.1h0M639.5 149.4h0M640.3 138.7h0M641.4 180.9h0M643.6 153.3h0M641.2 192.8h0M639 112.8h0M638.6 121h0M641.8 135.3h0M640.3 131.7h0M643 102.1h0M637.8 166.5h0M641.3 168.6h0M640.1 158.2h0M640.1 162.9h0M641.4 182.3h0M641.2 141.6h0M640.8 152.1h0M636.7 150.6h0M639.2 105.7h0M641.9 116.6h0M642.4 139.7h0M643.9 200.7h0M636.5 152.1h0M639.5 191.9h0M642 160.6h0M642.7 126.7h0M640.4 128.3h0M643.2 140.3h0M638.5 157.1h0M641.8 158.7h0M639.5 174.3h0M641.2 178.7h0M638.8 148.1h0M641.6 119h0M640.6 165.4h0M639.9 156.2h0M640.4 202.8h0M636.9 139.8h0M640.2 185.9h0M643.7 152.6h0M641.4 114.8h0M643.7 148.3h0M640.2 183.7h0M643.8 197.4h0M640.1 167.8h0M636.5 125.9h0M641.4 169.4h0M637.7 139.8h0M640.9 154h0M640.6 155.9h0M640.4 170.7h0M639.6 183.9h0M641 182.8h0M641.7 132.3h0M641.7 124h0M642 166.4h0M640.8 166.7h0M640.6 172.7h0M640.4 134.3h0M640.4 164.6h0M640.4 139.2h0M639.9 120.8h0M643.4 157.7h0M638.2 166.9h0M641.1 162.5h0M637.9 148.1h0M640.4 197.8h0M640.7 172.7h0M641.8 173h0M643.1 162.3h0M638.5 113.2h0M638.9 135h0M640.3 160.6h0M640.3 168.1h0M640.6 138.5h0M643.2 136.8h0M642.6 157.8h0M641.9 183.1h0M637.7 142.4h0M641.6 134.2h0M642.7 133.1h0M640.7 133.5h0M641.4 145.6h0M641.3 137.2h0M638.1 185.8h0" stroke="#e5381a" stroke-opacity="0.46" stroke-width="2.9" stroke-linecap="round" fill="none"/><path d="M639.5 164.5h0M643.3 165.9h0M640.1 147.5h0M640.5 162.2h0M641.4 155.8h0M640.7 134.7h0M641.2 131.8h0M643.3 161.4h0M640.4 130.9h0M640.6 153h0M639.2 155.1h0M638.5 104.7h0M640.7 149.7h0M640.2 139.4h0M640.7 156.6h0M640.5 169h0M640 97.4h0M640.8 172.6h0M641 113.9h0M637.4 169.2h0M643.7 147.1h0M638.6 134.8h0M643.6 118.7h0M638.8 117.7h0M639.4 167.2h0M643.1 175.9h0M639.7 168.4h0M637.7 176.4h0M639.5 119.3h0M643.6 138.1h0M637.1 159.5h0M642.6 118.9h0M642.7 150.7h0M637.4 123.9h0M640.7 142.9h0M641 157h0M643.9 159.9h0M639.7 145.2h0M641.5 165.9h0M638.7 171.8h0M640.1 175.8h0M637.8 150h0M638.4 155.5h0M638.8 115.2h0M643.7 116.6h0M638.5 143.6h0M638.6 145.2h0M640 155.1h0M637.6 156h0M639.5 149.8h0M643.4 131.2h0M639.9 161.4h0M642.3 125.2h0M640.3 164.3h0M641.8 157.2h0M641.5 177.4h0M641.1 123.2h0M639.8 163.2h0M642 153.8h0M642.2 145.2h0M644.5 156.4h0M640.7 133.5h0M639.7 113h0M641.3 163.5h0M642.7 144h0M636.8 167.2h0M640.5 159h0M643.1 150.7h0M640 195h0M640.7 168.9h0M640.5 147.9h0M637.7 146h0M639.7 155.7h0M639.9 109.6h0M642.8 155.6h0M638.7 188.8h0M642.2 152.4h0M637.2 116.1h0M643.4 118.7h0M641.2 128.2h0M638.5 142h0M640.2 150.8h0M639.8 177.5h0M641.5 157.2h0M643.2 164.9h0M642.3 142.7h0M638.9 137.2h0M638.6 180.6h0M639.2 128.3h0M641.5 119.5h0M641.3 171.2h0" stroke="#e5381a" stroke-opacity="0.46" stroke-width="2.9" stroke-linecap="round" fill="none"/><path d="M643.2 159.4h0M637.8 120.9h0M641.7 125.8h0M640.9 112.3h0M640.2 166.7h0M644 183.2h0M640.2 185h0M642.2 126.9h0M637.6 167.3h0M639.7 137.1h0M642.4 168.2h0M639.1 105.5h0M638.1 120.2h0M640.9 182.1h0M643.6 179.8h0M642 145.5h0M641.3 155.9h0M642.6 189.2h0M641.3 166.6h0M637.4 161.3h0M640.6 134.8h0M639.8 152.5h0M643.5 149.4h0M638.9 131.7h0M640.8 141.6h0M638.8 156.7h0M639.5 162.1h0M640.4 179.8h0M639 174.8h0M642.8 189.8h0M640.5 141.6h0M643 138.1h0M638.8 169.3h0M640.8 158h0M642.1 152.7h0M639.5 152.2h0M643.3 138.7h0M640.7 146.4h0M641.7 136.1h0M642 150.4h0M643.2 168.6h0M640.1 197.7h0M641.3 181.1h0M642.5 152.1h0M637.1 146.5h0M643.4 192h0M638.7 193h0M638.3 179.2h0M638.5 151.5h0M639.7 122.9h0M637.9 124.2h0M638.6 174.9h0M639.6 141.5h0M638.1 141.3h0M637.9 189.6h0M639.4 118.1h0M640.6 125.2h0M640.3 199.4h0M643.2 157.3h0M642.7 177.7h0M639.6 144.6h0M642 123.1h0M641.2 183.3h0M641 146.3h0M639.2 137.2h0M638.8 108.2h0M642.4 125.8h0M638.2 124.4h0M638.2 145.6h0M643.1 196.5h0M639.4 140.1h0M639.6 158.8h0M639.3 185.3h0M640.5 129.3h0M640.6 125.9h0M640.8 190.3h0M640.2 135.1h0M641.7 131.6h0M637.6 166h0M643.9 142.5h0M637.3 193.6h0M638.1 159.4h0M643.1 112h0M642.6 113.2h0M641 130.6h0M640.5 121.5h0M640.3 152.4h0M640.7 152.2h0M637.1 170.7h0M640.5 179.4h0" stroke="#e5381a" stroke-opacity="0.46" stroke-width="2.9" stroke-linecap="round" fill="none"/><path d="M640.6 134.4V92M640.6 165.5V202.7" stroke="#e0302a" stroke-width="1.0"/><rect x="636.5" y="134.4" width="8.2" height="31.1" fill="#fff4ea" fill-opacity="0.5" stroke="#e0302a" stroke-width="1.25"/><path d="M636.5 149.5H644.7" stroke="#e0302a" stroke-width="1.6"/><path d="M653 81.6h0M651.5 84.6h0M654.7 67.6h0M651.4 57.5h0M655.1 48.5h0M651 62.4h0" stroke="#4462bd" stroke-opacity="0.46" stroke-width="2.9" stroke-linecap="round" fill="none"/><path d="M652.4 81.1h0M652.2 91.1h0M655.2 106.9h0M650 60h0M654.1 52.4h0M654 63.1h0" stroke="#4462bd" stroke-opacity="0.46" stroke-width="2.9" stroke-linecap="round" fill="none"/><path d="M652.8 51h0M652.6 66.1h0M652 82.9h0M651.2 89.1h0M654.4 36.4h0M649.6 52.2h0" stroke="#4462bd" stroke-opacity="0.46" stroke-width="2.9" stroke-linecap="round" fill="none"/><path d="M650.6 70.9h0M655.2 72.2h0M650.2 56.5h0M652 71.9h0M655.1 60.9h0M652.8 69.1h0" stroke="#4462bd" stroke-opacity="0.46" stroke-width="2.9" stroke-linecap="round" fill="none"/><path d="M652.2 54.9h0M651 35.9h0M651.8 118.2h0M653.6 87.1h0M654.4 76.1h0M655.9 89.7h0" stroke="#4462bd" stroke-opacity="0.46" stroke-width="2.9" stroke-linecap="round" fill="none"/><path d="M650.5 58.6h0M653.6 61.6h0M651.6 115.4h0M654.4 73.9h0M651.3 46.5h0" stroke="#4462bd" stroke-opacity="0.46" stroke-width="2.9" stroke-linecap="round" fill="none"/><path d="M652.3 55.5V32.7M652.3 94.7V149.3" stroke="#2d53a8" stroke-width="1.0"/><rect x="648.2" y="55.5" width="8.2" height="39.2" fill="#ffffff" fill-opacity="0.5" stroke="#2d53a8" stroke-width="1.25"/><path d="M648.2 71.2H656.4" stroke="#2d53a8" stroke-width="1.6"/><path d="M661.4 107.4h0M660.5 115.1h0M664.9 96.8h0M661.3 113.5h0M665.5 127.1h0M665.1 129.4h0M660.8 132.1h0M663.7 119.3h0M665.3 124.5h0M662.5 122.3h0" stroke="#e5381a" stroke-opacity="0.46" stroke-width="2.9" stroke-linecap="round" fill="none"/><path d="M666.8 107.4h0M663.3 93.3h0M660.8 142.5h0M661.1 63.6h0M666.5 112.1h0M661.8 102.6h0M666.1 94.4h0M660.7 102.3h0M663.4 150.8h0M660.6 112.4h0" stroke="#e5381a" stroke-opacity="0.46" stroke-width="2.9" stroke-linecap="round" fill="none"/><path d="M664.5 100.2h0M663.4 99.7h0M663.1 153.4h0M663.8 188.7h0M664.5 128.8h0M662.3 89.7h0M662.6 148h0M664 161.7h0M663.1 142h0M663.7 163.9h0" stroke="#e5381a" stroke-opacity="0.46" stroke-width="2.9" stroke-linecap="round" fill="none"/><path d="M664.7 123.9h0M662.8 103.8h0M666.1 111.2h0M667.3 112.9h0M663 140.4h0M665.9 159.9h0M664.7 86.4h0M661.5 189h0M666.9 146h0" stroke="#e5381a" stroke-opacity="0.46" stroke-width="2.9" stroke-linecap="round" fill="none"/><path d="M666 113.5h0M666.2 135.8h0M663.6 105.2h0M665.1 117.8h0M664.7 102.3h0M662.9 136.9h0M664.1 63h0M662.9 124.8h0M660.9 123.1h0" stroke="#e5381a" stroke-opacity="0.46" stroke-width="2.9" stroke-linecap="round" fill="none"/><path d="M666.7 95.6h0M663.7 103.9h0M663.1 149.4h0M661.9 122.9h0M662.8 67h0M661.3 149.8h0M665.6 150h0M664.6 154.4h0M663.6 99h0" stroke="#e5381a" stroke-opacity="0.46" stroke-width="2.9" stroke-linecap="round" fill="none"/><path d="M664.1 108.2V57.7M664.1 150.5V195.3" stroke="#e0302a" stroke-width="1.0"/><rect x="660" y="108.2" width="8.2" height="42.4" fill="#fff4ea" fill-opacity="0.5" stroke="#e0302a" stroke-width="1.25"/><path d="M660 128.5H668.2" stroke="#e0302a" stroke-width="1.6"/><path d="M676.2 119.8h0M676.9 175.9h0M675.8 150.3h0M674.5 202.5h0M674.2 154h0M674.9 190.5h0M674.9 178.2h0M674.4 199.7h0M675.8 173.9h0M677.3 171.4h0M673.2 154.3h0M677.2 178.7h0M677.1 153h0M677 187.9h0" stroke="#e5381a" stroke-opacity="0.46" stroke-width="2.9" stroke-linecap="round" fill="none"/><path d="M678.3 187.4h0M676 169.5h0M675.4 146.3h0M674.4 147.4h0M675.5 175.7h0M675.8 168.1h0M675.6 188.9h0M675.6 165.7h0M672.9 158.3h0M675.7 176.9h0M678.7 150h0M673.8 202h0M679 160.5h0M673.6 156.4h0" stroke="#e5381a" stroke-opacity="0.46" stroke-width="2.9" stroke-linecap="round" fill="none"/><path d="M677.9 173.8h0M673.8 182.5h0M675.5 191h0M673 161.5h0M678 133.8h0M674.7 168.7h0M680 162.4h0M676.4 142.4h0M677.1 177h0M678.6 185.8h0M677.2 127.7h0M674.5 185.8h0M675.9 126.4h0" stroke="#e5381a" stroke-opacity="0.46" stroke-width="2.9" stroke-linecap="round" fill="none"/><path d="M673.8 191.4h0M676.1 160.3h0M675.7 195h0M676.7 157h0M676.2 153.8h0M676.9 161h0M677.7 180.3h0M674.5 142.3h0M675.7 145.8h0M677.8 164.6h0M677.8 165.7h0M676.6 200.2h0M673 151.4h0" stroke="#e5381a" stroke-opacity="0.46" stroke-width="2.9" stroke-linecap="round" fill="none"/><path d="M676 151h0M676.4 193.1h0M674.8 123.5h0M677.1 134.1h0M675.8 139.5h0M676.5 182.4h0M676.9 138.4h0M676.3 181.6h0M675.3 155.8h0M673 188.7h0M679 156.6h0M675.7 166.7h0M674.5 127.6h0" stroke="#e5381a" stroke-opacity="0.46" stroke-width="2.9" stroke-linecap="round" fill="none"/><path d="M674.2 183.8h0M676.8 170.3h0M676.3 148.3h0M673.4 170.2h0M677.8 157.4h0M675.5 177.9h0M676.2 177.6h0M675 175.4h0M674.4 188.4h0M672.5 171.2h0M675.3 155.8h0M676.5 135.1h0M676.5 175.2h0" stroke="#e5381a" stroke-opacity="0.46" stroke-width="2.9" stroke-linecap="round" fill="none"/><path d="M675.8 152V121.6M675.8 178.4V203.9" stroke="#e0302a" stroke-width="1.0"/><rect x="671.7" y="152" width="8.2" height="26.4" fill="#fff4ea" fill-opacity="0.5" stroke="#e0302a" stroke-width="1.25"/><path d="M671.7 166.7H679.9" stroke="#e0302a" stroke-width="1.6"/><polygon points="42.5,26.8 43.1,28.4 44.8,28.5 43.4,29.5 43.9,31.1 42.5,30.2 41.1,31.1 41.5,29.5 40.2,28.5 41.9,28.4" fill="#111"/><polygon points="47.1,26.8 47.7,28.4 49.4,28.5 48.0,29.5 48.5,31.1 47.1,30.2 45.7,31.1 46.1,29.5 44.8,28.5 46.5,28.4" fill="#111"/><polygon points="51.7,26.8 52.3,28.4 54.0,28.5 52.6,29.5 53.1,31.1 51.7,30.2 50.3,31.1 50.7,29.5 49.4,28.5 51.1,28.4" fill="#111"/><polygon points="66.0,26.8 66.6,28.4 68.3,28.5 66.9,29.5 67.4,31.1 66.0,30.2 64.6,31.1 65.0,29.5 63.7,28.5 65.4,28.4" fill="#111"/><polygon points="70.6,26.8 71.2,28.4 72.9,28.5 71.5,29.5 72.0,31.1 70.6,30.2 69.2,31.1 69.6,29.5 68.3,28.5 70.0,28.4" fill="#111"/><polygon points="75.2,26.8 75.8,28.4 77.5,28.5 76.1,29.5 76.6,31.1 75.2,30.2 73.8,31.1 74.2,29.5 72.9,28.5 74.6,28.4" fill="#111"/><polygon points="160.0,26.8 160.6,28.4 162.3,28.5 161.0,29.5 161.4,31.1 160.0,30.2 158.6,31.1 159.0,29.5 157.7,28.5 159.4,28.4" fill="#111"/><polygon points="164.6,26.8 165.2,28.4 166.9,28.5 165.6,29.5 166.0,31.1 164.6,30.2 163.2,31.1 163.6,29.5 162.3,28.5 164.0,28.4" fill="#111"/><polygon points="169.2,26.8 169.8,28.4 171.5,28.5 170.2,29.5 170.6,31.1 169.2,30.2 167.8,31.1 168.2,29.5 166.9,28.5 168.6,28.4" fill="#111"/><polygon points="277.5,26.8 278.1,28.4 279.8,28.5 278.5,29.5 278.9,31.1 277.5,30.2 276.1,31.1 276.6,29.5 275.2,28.5 276.9,28.4" fill="#111"/><polygon points="282.1,26.8 282.7,28.4 284.4,28.5 283.1,29.5 283.5,31.1 282.1,30.2 280.7,31.1 281.2,29.5 279.8,28.5 281.5,28.4" fill="#111"/><polygon points="286.7,26.8 287.3,28.4 289.0,28.5 287.7,29.5 288.1,31.1 286.7,30.2 285.3,31.1 285.8,29.5 284.4,28.5 286.1,28.4" fill="#111"/><polygon points="301.0,26.8 301.6,28.4 303.3,28.5 302.0,29.5 302.4,31.1 301.0,30.2 299.6,31.1 300.1,29.5 298.7,28.5 300.4,28.4" fill="#111"/><polygon points="305.6,26.8 306.2,28.4 307.9,28.5 306.6,29.5 307.0,31.1 305.6,30.2 304.2,31.1 304.7,29.5 303.3,28.5 305.0,28.4" fill="#111"/><polygon points="310.2,26.8 310.8,28.4 312.5,28.5 311.2,29.5 311.6,31.1 310.2,30.2 308.8,31.1 309.3,29.5 307.9,28.5 309.6,28.4" fill="#111"/><polygon points="324.5,26.8 325.1,28.4 326.8,28.5 325.5,29.5 325.9,31.1 324.5,30.2 323.1,31.1 323.6,29.5 322.2,28.5 323.9,28.4" fill="#111"/><polygon points="329.1,26.8 329.7,28.4 331.4,28.5 330.1,29.5 330.5,31.1 329.1,30.2 327.7,31.1 328.2,29.5 326.8,28.5 328.5,28.4" fill="#111"/><polygon points="333.7,26.8 334.3,28.4 336.0,28.5 334.7,29.5 335.1,31.1 333.7,30.2 332.3,31.1 332.8,29.5 331.4,28.5 333.1,28.4" fill="#111"/><polygon points="371.5,26.8 372.1,28.4 373.8,28.5 372.5,29.5 372.9,31.1 371.5,30.2 370.1,31.1 370.6,29.5 369.3,28.5 370.9,28.4" fill="#111"/><polygon points="376.1,26.8 376.7,28.4 378.4,28.5 377.1,29.5 377.5,31.1 376.1,30.2 374.7,31.1 375.2,29.5 373.9,28.5 375.5,28.4" fill="#111"/><polygon points="380.7,26.8 381.3,28.4 383.0,28.5 381.7,29.5 382.1,31.1 380.7,30.2 379.3,31.1 379.8,29.5 378.5,28.5 380.1,28.4" fill="#111"/><polygon points="395.0,26.8 395.6,28.4 397.3,28.5 396.0,29.5 396.4,31.1 395.0,30.2 393.6,31.1 394.1,29.5 392.8,28.5 394.4,28.4" fill="#111"/><polygon points="399.6,26.8 400.2,28.4 401.9,28.5 400.6,29.5 401.0,31.1 399.6,30.2 398.2,31.1 398.7,29.5 397.4,28.5 399.0,28.4" fill="#111"/><polygon points="404.2,26.8 404.8,28.4 406.5,28.5 405.2,29.5 405.6,31.1 404.2,30.2 402.8,31.1 403.3,29.5 402.0,28.5 403.6,28.4" fill="#111"/><polygon points="418.5,26.8 419.1,28.4 420.8,28.5 419.5,29.5 420.0,31.1 418.5,30.2 417.1,31.1 417.6,29.5 416.3,28.5 417.9,28.4" fill="#111"/><polygon points="423.1,26.8 423.7,28.4 425.4,28.5 424.1,29.5 424.6,31.1 423.1,30.2 421.7,31.1 422.2,29.5 420.9,28.5 422.5,28.4" fill="#111"/><polygon points="427.7,26.8 428.3,28.4 430.0,28.5 428.7,29.5 429.2,31.1 427.7,30.2 426.3,31.1 426.8,29.5 425.5,28.5 427.1,28.4" fill="#111"/><polygon points="489.1,26.8 489.6,28.4 491.3,28.5 490.0,29.5 490.5,31.1 489.1,30.2 487.6,31.1 488.1,29.5 486.8,28.5 488.5,28.4" fill="#111"/><polygon points="493.7,26.8 494.2,28.4 495.9,28.5 494.6,29.5 495.1,31.1 493.7,30.2 492.2,31.1 492.7,29.5 491.4,28.5 493.1,28.4" fill="#111"/><polygon points="498.3,26.8 498.8,28.4 500.5,28.5 499.2,29.5 499.7,31.1 498.3,30.2 496.8,31.1 497.3,29.5 496.0,28.5 497.7,28.4" fill="#111"/><polygon points="512.6,26.8 513.2,28.4 514.8,28.5 513.5,29.5 514.0,31.1 512.6,30.2 511.1,31.1 511.6,29.5 510.3,28.5 512.0,28.4" fill="#111"/><polygon points="517.2,26.8 517.8,28.4 519.4,28.5 518.1,29.5 518.6,31.1 517.2,30.2 515.7,31.1 516.2,29.5 514.9,28.5 516.6,28.4" fill="#111"/><polygon points="521.8,26.8 522.4,28.4 524.0,28.5 522.7,29.5 523.2,31.1 521.8,30.2 520.3,31.1 520.8,29.5 519.5,28.5 521.2,28.4" fill="#111"/><polygon points="547.8,26.8 548.4,28.4 550.1,28.5 548.8,29.5 549.2,31.1 547.8,30.2 546.4,31.1 546.9,29.5 545.5,28.5 547.2,28.4" fill="#111"/><polygon points="552.4,26.8 553.0,28.4 554.7,28.5 553.4,29.5 553.8,31.1 552.4,30.2 551.0,31.1 551.5,29.5 550.1,28.5 551.8,28.4" fill="#111"/><polygon points="557.0,26.8 557.6,28.4 559.3,28.5 558.0,29.5 558.4,31.1 557.0,30.2 555.6,31.1 556.1,29.5 554.7,28.5 556.4,28.4" fill="#111"/><circle cx="576.5" cy="31.2" r="0.65" fill="#111"/><polygon points="611.2,26.8 611.8,28.4 613.5,28.5 612.1,29.5 612.6,31.1 611.2,30.2 609.8,31.1 610.2,29.5 608.9,28.5 610.6,28.4" fill="#111"/><polygon points="641.8,26.8 642.4,28.4 644.1,28.5 642.8,29.5 643.2,31.1 641.8,30.2 640.4,31.1 640.9,29.5 639.5,28.5 641.2,28.4" fill="#111"/><polygon points="646.4,26.8 647.0,28.4 648.7,28.5 647.4,29.5 647.8,31.1 646.4,30.2 645.0,31.1 645.5,29.5 644.1,28.5 645.8,28.4" fill="#111"/><polygon points="651.0,26.8 651.6,28.4 653.3,28.5 652.0,29.5 652.4,31.1 651.0,30.2 649.6,31.1 650.1,29.5 648.7,28.5 650.4,28.4" fill="#111"/><path d="M23 19H682.2V225.2" stroke="#a0a0a0" stroke-width="1.2" fill="none"/><path d="M23 19V225.2H682.2" stroke="#7a7a7a" stroke-width="1.2" fill="none"/><text x="18.2" y="219.5" font-family='"Liberation Sans", sans-serif' font-size="8.6" fill="#4d4d4d" text-anchor="end">0</text><text x="18.2" y="170.5" font-family='"Liberation Sans", sans-serif' font-size="8.6" fill="#4d4d4d" text-anchor="end">2</text><text x="18.2" y="121.5" font-family='"Liberation Sans", sans-serif' font-size="8.6" fill="#4d4d4d" text-anchor="end">4</text><text x="18.2" y="72.6" font-family='"Liberation Sans", sans-serif' font-size="8.6" fill="#4d4d4d" text-anchor="end">6</text><text x="18.2" y="23.6" font-family='"Liberation Sans", sans-serif' font-size="8.6" fill="#4d4d4d" text-anchor="end">8</text><path d="M20 216.4H23M20 167.4H23M20 118.4H23M20 69.5H23M20 20.5H23M29.4 225.2V227.8M41.2 225.2V227.8M53 225.2V227.8M64.7 225.2V227.8M76.5 225.2V227.8M88.2 225.2V227.8M100 225.2V227.8M111.7 225.2V227.8M123.5 225.2V227.8M135.2 225.2V227.8M147 225.2V227.8M158.7 225.2V227.8M170.5 225.2V227.8M182.2 225.2V227.8M194 225.2V227.8M205.7 225.2V227.8M217.5 225.2V227.8M229.2 225.2V227.8M241 225.2V227.8M252.7 225.2V227.8M264.5 225.2V227.8M276.2 225.2V227.8M288 225.2V227.8M299.7 225.2V227.8M311.5 225.2V227.8M323.2 225.2V227.8M335 225.2V227.8M346.8 225.2V227.8M358.5 225.2V227.8M370.3 225.2V227.8M382 225.2V227.8M393.8 225.2V227.8M405.5 225.2V227.8M417.3 225.2V227.8M429 225.2V227.8M440.8 225.2V227.8M452.5 225.2V227.8M464.3 225.2V227.8M476 225.2V227.8M487.8 225.2V227.8M499.5 225.2V227.8M511.3 225.2V227.8M523 225.2V227.8M534.8 225.2V227.8M546.5 225.2V227.8M558.3 225.2V227.8M570 225.2V227.8M581.8 225.2V227.8M593.5 225.2V227.8M605.3 225.2V227.8M617.1 225.2V227.8M628.8 225.2V227.8M640.6 225.2V227.8M652.3 225.2V227.8M664.1 225.2V227.8M675.8 225.2V227.8" stroke="#333" stroke-width="1" fill="none"/><text transform="translate(32.9 230) rotate(-90)" font-family='"Liberation Sans", sans-serif' font-size="8.2" fill="#2a2a2a" text-anchor="end">ACC.Tumor</text><text transform="translate(44.6 230) rotate(-90)" font-family='"Liberation Sans", sans-serif' font-size="8.2" fill="#2a2a2a" text-anchor="end">BLCA.Tumor</text><text transform="translate(56.4 230) rotate(-90)" font-family='"Liberation Sans", sans-serif' font-size="8.2" fill="#2a2a2a" text-anchor="end">BLCA.Normal</text><text transform="translate(68.1 230) rotate(-90)" font-family='"Liberation Sans", sans-serif' font-size="8.2" fill="#2a2a2a" text-anchor="end">BRCA.Tumor</text><text transform="translate(79.9 230) rotate(-90)" font-family='"Liberation Sans", sans-serif' font-size="8.2" fill="#2a2a2a" text-anchor="end">BRCA.Normal</text><text transform="translate(91.6 230) rotate(-90)" font-family='"Liberation Sans", sans-serif' font-size="8.2" fill="#2a2a2a" text-anchor="end">BRCA−Basal.Tumor</text><text transform="translate(103.4 230) rotate(-90)" font-family='"Liberation Sans", sans-serif' font-size="8.2" fill="#2a2a2a" text-anchor="end">BRCA−Her2.Tumor</text><text transform="translate(115.1 230) rotate(-90)" font-family='"Liberation Sans", sans-serif' font-size="8.2" fill="#2a2a2a" text-anchor="end">BRCA−Luminal.Tumor</text><text transform="translate(126.9 230) rotate(-90)" font-family='"Liberation Sans", sans-serif' font-size="8.2" fill="#2a2a2a" text-anchor="end">CESC.Tumor</text><text transform="translate(138.6 230) rotate(-90)" font-family='"Liberation Sans", sans-serif' font-size="8.2" fill="#2a2a2a" text-anchor="end">CHOL.Tumor</text><text transform="translate(150.4 230) rotate(-90)" font-family='"Liberation Sans", sans-serif' font-size="8.2" fill="#2a2a2a" text-anchor="end">CHOL.Normal</text><text transform="translate(162.1 230) rotate(-90)" font-family='"Liberation Sans", sans-serif' font-size="8.2" fill="#2a2a2a" text-anchor="end">COAD.Tumor</text><text transform="translate(173.9 230) rotate(-90)" font-family='"Liberation Sans", sans-serif' font-size="8.2" fill="#2a2a2a" text-anchor="end">COAD.Normal</text><text transform="translate(185.6 230) rotate(-90)" font-family='"Liberation Sans", sans-serif' font-size="8.2" fill="#2a2a2a" text-anchor="end">DLBC.Tumor</text><text transform="translate(197.4 230) rotate(-90)" font-family='"Liberation Sans", sans-serif' font-size="8.2" fill="#2a2a2a" text-anchor="end">ESCA.Tumor</text><text transform="translate(209.1 230) rotate(-90)" font-family='"Liberation Sans", sans-serif' font-size="8.2" fill="#2a2a2a" text-anchor="end">ESCA.Normal</text><text transform="translate(220.9 230) rotate(-90)" font-family='"Liberation Sans", sans-serif' font-size="8.2" fill="#2a2a2a" text-anchor="end">GBM.Tumor</text><text transform="translate(232.6 230) rotate(-90)" font-family='"Liberation Sans", sans-serif' font-size="8.2" fill="#2a2a2a" text-anchor="end">HNSC.Tumor</text><text transform="translate(244.4 230) rotate(-90)" font-family='"Liberation Sans", sans-serif' font-size="8.2" fill="#2a2a2a" text-anchor="end">HNSC.Normal</text><text transform="translate(256.1 230) rotate(-90)" font-family='"Liberation Sans", sans-serif' font-size="8.2" fill="#2a2a2a" text-anchor="end">HNSC−HPVpos.Tumor</text><text transform="translate(267.9 230) rotate(-90)" font-family='"Liberation Sans", sans-serif' font-size="8.2" fill="#2a2a2a" text-anchor="end">HNSC−HPVneg.Tumor</text><text transform="translate(279.6 230) rotate(-90)" font-family='"Liberation Sans", sans-serif' font-size="8.2" fill="#2a2a2a" text-anchor="end">KICH.Tumor</text><text transform="translate(291.4 230) rotate(-90)" font-family='"Liberation Sans", sans-serif' font-size="8.2" fill="#2a2a2a" text-anchor="end">KICH.Normal</text><text transform="translate(303.1 230) rotate(-90)" font-family='"Liberation Sans", sans-serif' font-size="8.2" fill="#2a2a2a" text-anchor="end">KIRC.Tumor</text><text transform="translate(314.9 230) rotate(-90)" font-family='"Liberation Sans", sans-serif' font-size="8.2" fill="#2a2a2a" text-anchor="end">KIRC.Normal</text><text transform="translate(326.6 230) rotate(-90)" font-family='"Liberation Sans", sans-serif' font-size="8.2" fill="#2a2a2a" text-anchor="end">KIRP.Tumor</text><text transform="translate(338.4 230) rotate(-90)" font-family='"Liberation Sans", sans-serif' font-size="8.2" fill="#2a2a2a" text-anchor="end">KIRP.Normal</text><text transform="translate(350.2 230) rotate(-90)" font-family='"Liberation Sans", sans-serif' font-size="8.2" fill="#2a2a2a" text-anchor="end">LAML.Tumor</text><text transform="translate(361.9 230) rotate(-90)" font-family='"Liberation Sans", sans-serif' font-size="8.2" fill="#2a2a2a" text-anchor="end">LGG.Tumor</text><text transform="translate(373.7 230) rotate(-90)" font-family='"Liberation Sans", sans-serif' font-size="8.2" fill="#2a2a2a" text-anchor="end">LIHC.Tumor</text><text transform="translate(385.4 230) rotate(-90)" font-family='"Liberation Sans", sans-serif' font-size="8.2" fill="#2a2a2a" text-anchor="end">LIHC.Normal</text><text transform="translate(397.2 230) rotate(-90)" font-family='"Liberation Sans", sans-serif' font-size="8.2" fill="#2a2a2a" text-anchor="end">LUAD.Tumor</text><text transform="translate(408.9 230) rotate(-90)" font-family='"Liberation Sans", sans-serif' font-size="8.2" fill="#2a2a2a" text-anchor="end">LUAD.Normal</text><text transform="translate(420.7 230) rotate(-90)" font-family='"Liberation Sans", sans-serif' font-size="8.2" fill="#2a2a2a" text-anchor="end">LUSC.Tumor</text><text transform="translate(432.4 230) rotate(-90)" font-family='"Liberation Sans", sans-serif' font-size="8.2" fill="#2a2a2a" text-anchor="end">LUSC.Normal</text><text transform="translate(444.2 230) rotate(-90)" font-family='"Liberation Sans", sans-serif' font-size="8.2" fill="#2a2a2a" text-anchor="end">MESO.Tumor</text><text transform="translate(455.9 230) rotate(-90)" font-family='"Liberation Sans", sans-serif' font-size="8.2" fill="#2a2a2a" text-anchor="end">OV.Tumor</text><text transform="translate(467.7 230) rotate(-90)" font-family='"Liberation Sans", sans-serif' font-size="8.2" fill="#2a2a2a" text-anchor="end">PAAD.Tumor</text><text transform="translate(479.4 230) rotate(-90)" font-family='"Liberation Sans", sans-serif' font-size="8.2" fill="#2a2a2a" text-anchor="end">PCPG.Tumor</text><text transform="translate(491.2 230) rotate(-90)" font-family='"Liberation Sans", sans-serif' font-size="8.2" fill="#2a2a2a" text-anchor="end">PRAD.Tumor</text><text transform="translate(502.9 230) rotate(-90)" font-family='"Liberation Sans", sans-serif' font-size="8.2" fill="#2a2a2a" text-anchor="end">PRAD.Normal</text><text transform="translate(514.7 230) rotate(-90)" font-family='"Liberation Sans", sans-serif' font-size="8.2" fill="#2a2a2a" text-anchor="end">READ.Tumor</text><text transform="translate(526.4 230) rotate(-90)" font-family='"Liberation Sans", sans-serif' font-size="8.2" fill="#2a2a2a" text-anchor="end">READ.Normal</text><text transform="translate(538.2 230) rotate(-90)" font-family='"Liberation Sans", sans-serif' font-size="8.2" fill="#2a2a2a" text-anchor="end">SARC.Tumor</text><text transform="translate(549.9 230) rotate(-90)" font-family='"Liberation Sans", sans-serif' font-size="8.2" fill="#2a2a2a" text-anchor="end">SKCM.Tumor</text><text transform="translate(561.7 230) rotate(-90)" font-family='"Liberation Sans", sans-serif' font-size="8.2" fill="#2a2a2a" text-anchor="end">SKCM.Metastasis</text><text transform="translate(573.4 230) rotate(-90)" font-family='"Liberation Sans", sans-serif' font-size="8.2" fill="#2a2a2a" text-anchor="end">STAD.Tumor</text><text transform="translate(585.2 230) rotate(-90)" font-family='"Liberation Sans", sans-serif' font-size="8.2" fill="#2a2a2a" text-anchor="end">STAD.Normal</text><text transform="translate(596.9 230) rotate(-90)" font-family='"Liberation Sans", sans-serif' font-size="8.2" fill="#2a2a2a" text-anchor="end">TGCT.Tumor</text><text transform="translate(608.7 230) rotate(-90)" font-family='"Liberation Sans", sans-serif' font-size="8.2" fill="#2a2a2a" text-anchor="end">THCA.Tumor</text><text transform="translate(620.5 230) rotate(-90)" font-family='"Liberation Sans", sans-serif' font-size="8.2" fill="#2a2a2a" text-anchor="end">THCA.Normal</text><text transform="translate(632.2 230) rotate(-90)" font-family='"Liberation Sans", sans-serif' font-size="8.2" fill="#2a2a2a" text-anchor="end">THYM.Tumor</text><text transform="translate(644 230) rotate(-90)" font-family='"Liberation Sans", sans-serif' font-size="8.2" fill="#2a2a2a" text-anchor="end">UCEC.Tumor</text><text transform="translate(655.7 230) rotate(-90)" font-family='"Liberation Sans", sans-serif' font-size="8.2" fill="#2a2a2a" text-anchor="end">UCEC.Normal</text><text transform="translate(667.5 230) rotate(-90)" font-family='"Liberation Sans", sans-serif' font-size="8.2" fill="#2a2a2a" text-anchor="end">UCS.Tumor</text><text transform="translate(679.2 230) rotate(-90)" font-family='"Liberation Sans", sans-serif' font-size="8.2" fill="#2a2a2a" text-anchor="end">UVM.Tumor</text><text transform="translate(9.4 121.5) rotate(-90)" font-family='"Liberation Sans", sans-serif' font-size="10" fill="#111" text-anchor="middle">LDB2 Expression Level (log2 TPM)</text><text x="3" y="13.9" font-family='"Liberation Serif", serif' font-size="19" fill="#231f20">A</text><text x="12.6" y="341" font-family='"Liberation Serif", serif' font-size="20" fill="#231f20">B</text><rect x="40.5" y="347.5" width="280" height="237.5" fill="#fff" stroke="#3a3a3a" stroke-width="1"/><path d="M37.7 575.2H40.5" stroke="#333" stroke-width="1"/><text transform="translate(36.9 578.3) scale(0.9 1)" font-family='"Liberation Sans", sans-serif' font-size="8.8" fill="#222" text-anchor="end">0</text><path d="M37.7 515.1H40.5" stroke="#333" stroke-width="1"/><text transform="translate(36.9 518.2) scale(0.9 1)" font-family='"Liberation Sans", sans-serif' font-size="8.8" fill="#222" text-anchor="end">1000</text><path d="M37.7 455H40.5" stroke="#333" stroke-width="1"/><text transform="translate(36.9 458.1) scale(0.9 1)" font-family='"Liberation Sans", sans-serif' font-size="8.8" fill="#222" text-anchor="end">2000</text><path d="M37.7 394.8H40.5" stroke="#333" stroke-width="1"/><text transform="translate(36.9 397.9) scale(0.9 1)" font-family='"Liberation Sans", sans-serif' font-size="8.8" fill="#222" text-anchor="end">3000</text><text transform="translate(17 463.5) rotate(-90)" font-family='"Liberation Serif", serif' font-size="10" fill="#111" text-anchor="middle">LDB2 Expression</text><path d="M116.6 585V587.6" stroke="#333" stroke-width="1"/><path d="M244 585V587.6" stroke="#333" stroke-width="1"/><text x="117.8" y="602.3" font-family='"Liberation Serif", serif' font-size="15.2" fill="#111" text-anchor="middle">Normal(n=19)</text><text x="245" y="602.3" font-family='"Liberation Serif", serif' font-size="15.2" fill="#111" text-anchor="middle">Tumor(n=412)</text><path d="M116.5 364.7V358.5H244.5V364.7" stroke="#555" stroke-width="1" fill="none"/><text x="176.7" y="359.3" font-family='"Liberation Sans", sans-serif' font-size="12" fill="#333" text-anchor="middle">****</text><path d="M117 489.1V461.4M117 537V560.6" stroke="#3b62b0" stroke-width="1.0"/><rect x="72.2" y="489.1" width="89.6" height="47.9" fill="none" stroke="#3b62b0" stroke-width="1.0"/><path d="M72.2 510H161.8" stroke="#3b62b0" stroke-width="1.6"/><path d="M244.7 547.4V519.6M244.7 565V574" stroke="#d9282a" stroke-width="1.0"/><rect x="199.8" y="547.4" width="89.8" height="17.6" fill="none" stroke="#d9282a" stroke-width="1.0"/><path d="M199.8 557.6H289.6" stroke="#d9282a" stroke-width="1.6"/><path d="M117.9 486.6h0M101.2 492.8h0M119.4 496.6h0M107.2 503.7h0M118.4 504.7h0M109.9 510.2h0M111.7 524.8h0M103.2 532.8h0M106.7 536.7h0M111.7 537.2h0M124 539.2h0M132 533.5h0M141.4 542.7h0M115.4 554.9h0M98.8 561.1h0M93.8 466.4h0M93.3 468.4h0M108.7 461.4h0M133 466.9h0" stroke="#1f4e9e" stroke-width="3.5" stroke-linecap="round" fill="none"/><path d="M231.5 554h0M247.9 530.8h0M240.7 568.3h0M219.3 565.7h0M237.6 553.8h0M262.3 566.1h0M259.1 546.7h0M234.2 546.1h0M245.9 560.5h0M266.7 563.9h0M240 561.8h0M230.5 567h0M263.2 528.7h0M252.6 558h0M253.6 531.2h0M243.4 567.7h0M246.1 563.6h0M248.3 559.8h0M233.9 550.3h0M266.8 541.4h0M256.2 532.4h0M229.7 556.7h0M224.9 567.9h0M250.5 530.4h0M267.8 560.1h0M267 568.8h0M242.5 569.5h0M237.6 563.2h0M223.3 572.6h0M222.2 562h0M220.7 564.4h0M235.7 532.9h0M258.7 547.3h0M250 560.7h0M229.7 572.9h0M230.2 568.9h0M260.4 563.9h0M265.9 550.1h0M221.8 571.4h0M263.8 562.8h0M247 570.4h0M228.4 535.4h0M246.6 563.9h0M236.4 568.1h0M253.8 557.1h0M232.6 566.5h0M222.9 564.4h0M250.4 557.9h0M262.8 565.2h0M257.2 565.4h0M242.5 529.7h0M238.9 558.2h0M246.5 565.5h0M220.1 531.1h0M257.4 552.2h0M229.5 536h0M250.5 565.2h0M226.3 560.4h0M223.2 552.3h0M256.2 549h0M245.8 563.1h0M264 568.6h0M223.4 550.7h0M253.2 561.3h0M244.1 561.5h0M243.7 560h0M267.7 565.6h0M240.5 571.7h0M230.3 541.2h0M258.4 554.3h0M248.9 552.7h0M250.8 548.5h0M246.2 566.2h0M249.3 562.3h0M248.7 547.5h0M251.6 561.6h0M229.3 555.6h0M241.4 569.4h0M259.5 564.7h0M262.7 547.2h0M260.1 553.5h0M219.8 573.1h0M233.5 539.3h0M233 529.2h0M226.9 528.1h0M220.1 567.1h0M248.1 557.4h0M223.5 567.3h0M230.2 551.1h0M255.1 561.7h0M267.1 551.8h0M219.3 564.1h0M226 556.5h0M258 566.9h0M245.2 564.5h0M243.1 566.3h0M243.9 561.5h0M249.9 552.4h0M244.3 541.1h0M220.9 567.1h0M244.6 547.1h0M268.3 567h0M224 533h0M264.3 558.5h0M228.2 567h0M227.3 560.2h0M233.3 547h0M247.8 557.9h0M268.2 551.8h0M262.2 558.6h0M237.4 542.5h0M241.2 554.7h0M246.7 552.8h0M243.1 553.4h0M251.9 555.2h0M219.4 567.6h0M239.2 543.3h0M222.6 564.8h0M225.7 560.2h0M249.2 566.8h0M250.9 542.3h0M243.2 563.5h0M236.5 570.4h0M258.2 565.5h0M243.6 565.1h0M253.5 560h0M221.1 562.6h0M248.5 563.4h0M251.6 561.2h0M261.9 541.6h0M238.5 547.4h0M245.6 566.6h0M231.6 557.6h0M255.7 563.6h0M242.7 540.8h0M227.4 570.3h0M244.1 551.1h0M255.7 548.6h0M254.9 562.8h0M244.6 563.9h0M258.3 554h0M255.3 570.5h0M260.4 566h0M245 570.2h0M234.8 552.8h0M229.7 568.1h0M237.2 562.7h0M230.7 572.4h0M253.5 565.1h0M220.1 543.3h0M226.9 553.4h0M226.7 536.6h0M267.3 573.6h0M261.4 573.6h0M219.7 525h0M229.4 553h0M252.7 569.9h0M239.9 546.3h0M253.4 552.1h0M251 553.2h0M259.5 551.6h0M222.3 545.6h0M239.9 549.7h0M243.2 554.6h0M242.3 551.4h0M261.1 554.7h0M252.2 556.8h0M228 557.5h0M239.4 561.6h0M261.9 555.7h0M257.9 548.4h0M220.3 559.6h0M220.4 559.5h0M249.3 525.3h0M264.5 521.7h0M236.3 556.3h0M226.9 565.8h0M243.7 532.6h0M248.6 570.6h0M260.3 529.9h0M225.4 536.9h0M222.8 563.8h0M264.9 559.8h0M267.8 568.1h0M255 555.8h0M226.6 568.5h0M234.6 570h0M246.7 556h0M219.7 565.2h0M226.3 559.8h0M239.5 562h0M260.7 566.4h0M250.9 555.9h0M248 567.6h0M264.9 552.5h0M231.6 564.8h0M253.6 539.5h0M257.7 564.1h0M258.1 549.7h0M227.4 545.9h0M235.4 559.9h0M264.8 569.4h0M240.8 548.7h0M239.4 569.7h0M267.1 553.6h0M246 570.6h0M264.4 563.6h0M241.9 560.4h0M253.5 565.3h0M236.5 556h0M237.9 551.5h0M248.2 557.1h0M267.8 556.3h0M255.7 536.6h0M250.5 548.6h0M235.6 554h0M262.9 564.8h0M230.6 568.9h0M250.6 565.5h0M261.2 545.8h0M227.6 557.3h0M261.8 549.2h0M250.8 570.1h0M241.3 571.8h0M226.9 557.2h0M229.3 573.3h0M268 562.7h0M221.1 571.1h0M256.2 557.8h0M255.3 553.6h0M231.4 569.8h0M239 542.6h0M235.8 555h0M249.7 561.3h0M262.5 568.3h0M255.1 567.9h0M244.4 562.9h0M236 546.8h0M261.3 560.5h0M258.3 571.4h0M247.9 571.5h0M239.6 556.2h0M228.2 562.6h0M222.3 547.3h0M254.8 552.5h0M242.3 547h0M267.3 540.8h0M229.6 546.6h0M219.3 554.8h0M258.2 572.1h0M256.7 549.4h0M233.5 546.3h0M261.7 551.6h0M225.6 569.3h0M259.1 552.7h0M227.3 542.8h0M222.6 552.9h0M245.6 562.8h0M261.9 572.3h0M254.3 567.1h0M244 522.7h0M267 557.4h0M235.2 543.6h0M228.5 560.8h0M243.9 568.8h0M268.6 536.5h0M268.4 551.8h0M241.4 538.9h0M244.8 557h0M252 568.9h0M234.4 532.7h0M235.2 562.1h0M265.9 554h0M221.5 554.2h0M258.5 545.6h0M237.7 552h0M237.9 534.7h0M248.8 559.7h0M240.2 541.8h0M260.1 529.2h0M246 561.5h0M257.6 568.5h0M221.9 559.5h0M268.9 537h0M230.7 554.3h0M267.2 542.9h0M245.3 558h0M255.6 571.7h0M234.7 567.1h0M226.1 570h0M253.4 571.8h0M257.8 561.8h0M222.8 541.5h0M269.1 550.8h0M219.7 553h0M258.3 552h0M262 562.4h0M268.9 528.3h0M234.2 547.2h0M219.3 549.9h0M226.5 572.5h0M223.7 543.1h0M250.9 540.2h0M246.9 559.1h0M221.9 571.1h0M249.5 544.6h0M254.6 563.6h0M223.1 562h0M254 562.7h0M244.6 561.6h0M249.8 568.3h0M266 553.8h0M268.4 537.6h0M237.4 559h0M226.6 568.9h0M237.3 562.9h0M222.4 561h0M233.5 561.5h0M219.7 554.5h0M261.3 560h0M232.7 558.6h0M225.3 557.9h0M250.7 569.2h0M242.4 553.4h0M254.3 544.5h0M245.6 554.7h0M241.3 556.6h0M256.1 553.6h0M251.7 566.4h0M237.5 567h0M266.1 570.4h0M221.6 568.4h0M260.8 567.7h0M229.1 559.6h0M245.4 555.9h0M259.6 562.8h0M246.8 558.3h0M248 566.1h0M231 567.7h0M234.9 568.3h0M266.5 563.6h0M222.6 537.9h0M262.9 573.1h0M266.1 549.7h0M226.9 549.3h0M267.4 563.6h0M219.7 551.1h0M221.4 534.4h0M242.3 566.2h0M236.9 555.2h0M255.9 564.2h0M266.3 562h0M221.7 559.3h0M252.8 559.3h0M233.8 565.6h0M255.9 564.4h0M248.5 540.2h0M230.4 530.9h0M258.4 554.1h0M227.8 545.9h0M230.6 562.5h0M264.7 563.8h0M227.1 555.7h0M240 540.5h0M221.5 555.4h0M261.1 569.7h0M242.7 544.5h0M236.7 553.5h0M220.1 571.1h0M234.7 555.5h0M232.9 561.5h0M254.2 553.2h0M232.4 561.7h0M235.2 552.5h0M222.3 572.4h0M227.7 566.3h0M230 562.9h0M230.1 552.1h0M255.8 556.8h0M219.2 566.9h0M247 562.4h0M231 569.2h0M253.2 567.3h0M262.2 564.7h0M244.9 554.6h0M220.6 445.8h0M230 446.8h0M247.7 447h0M240.7 455.2h0M234 466.2h0M223.3 476.6h0M233.5 476.3h0M238.2 478.1h0M268.8 479.8h0M252.9 490.3h0M240.2 498h0M220.4 500.8h0M261.3 500.3h0M267.3 501.5h0M268.5 505.2h0M225.8 505.5h0M229.6 507.7h0M252.9 509.2h0M245.7 512.2h0M227.8 514.2h0M263 518.6h0M259.3 519.1h0M228.3 518.6h0M235 522.1h0M269.3 525.1h0M250.1 368.4h0" stroke="#e31a1c" stroke-width="3.5" stroke-linecap="round" fill="none"/><text x="369.6" y="339.7" font-family='"Liberation Serif", serif' font-size="20" fill="#231f20">C</text><rect x="392.5" y="350.5" width="266" height="232" fill="#fff" stroke="#3a3a3a" stroke-width="1"/><path d="M389.7 577.5H392.5" stroke="#333" stroke-width="1"/><text transform="translate(388.9 580.6) scale(0.9 1)" font-family='"Liberation Sans", sans-serif' font-size="8.6" fill="#4d4d4d" text-anchor="end">0.0</text><path d="M389.7 524.7H392.5" stroke="#333" stroke-width="1"/><text transform="translate(388.9 527.8) scale(0.9 1)" font-family='"Liberation Sans", sans-serif' font-size="8.6" fill="#4d4d4d" text-anchor="end">2.5</text><path d="M389.7 471.9H392.5" stroke="#333" stroke-width="1"/><text transform="translate(388.9 475) scale(0.9 1)" font-family='"Liberation Sans", sans-serif' font-size="8.6" fill="#4d4d4d" text-anchor="end">5.0</text><path d="M389.7 419.1H392.5" stroke="#333" stroke-width="1"/><text transform="translate(388.9 422.2) scale(0.9 1)" font-family='"Liberation Sans", sans-serif' font-size="8.6" fill="#4d4d4d" text-anchor="end">7.5</text><path d="M389.7 366.3H392.5" stroke="#333" stroke-width="1"/><text transform="translate(388.9 369.4) scale(0.9 1)" font-family='"Liberation Sans", sans-serif' font-size="8.6" fill="#4d4d4d" text-anchor="end">10.0</text><path d="M465.3 582.5V585.1" stroke="#333" stroke-width="1"/><path d="M585.6 582.5V585.1" stroke="#333" stroke-width="1"/><path d="M465.3 389.5L586 524.3M465.3 447.6L586 562.9M465.3 496.2L586 565.9M465.3 501.9L586 568.6M465.3 506.7L586 570.7M465.3 512L586 572.4" stroke="#c2c2c2" stroke-width="1.5" fill="none"/><circle cx="465.3" cy="389.5" r="4.2" fill="#1f52a3"/><circle cx="465.3" cy="447.6" r="4.2" fill="#1f52a3"/><circle cx="465.3" cy="496.2" r="4.2" fill="#1f52a3"/><circle cx="465.3" cy="501.9" r="4.2" fill="#1f52a3"/><circle cx="465.3" cy="506.7" r="4.2" fill="#1f52a3"/><circle cx="465.3" cy="512" r="4.2" fill="#1f52a3"/><rect x="582" y="520.3" width="8" height="8" fill="#e31a1c"/><rect x="582" y="558.9" width="8" height="8" fill="#e31a1c"/><rect x="582" y="561.9" width="8" height="8" fill="#e31a1c"/><rect x="582" y="564.6" width="8" height="8" fill="#e31a1c"/><rect x="582" y="566.7" width="8" height="8" fill="#e31a1c"/><rect x="582" y="568.4" width="8" height="8" fill="#e31a1c"/><path d="M465.5 371V365.5H585.5V371" stroke="#555" stroke-width="1" fill="none"/><text x="523" y="366.8" font-family='"Liberation Sans", sans-serif' font-size="14" fill="#333" text-anchor="middle">***</text><text x="465.3" y="602.8" font-family='"Liberation Serif", serif' font-size="16.8" fill="#4d4d4d" text-anchor="middle">Normal (n=6)</text><text x="585.6" y="602.8" font-family='"Liberation Serif", serif' font-size="16.8" fill="#4d4d4d" text-anchor="middle">Tumor (n=6)</text><text x="11.8" y="638.5" font-family='"Liberation Serif", serif' font-size="20" fill="#231f20">D</text><path d="M47.1 653.4V899.8H344.4" stroke="#3a3a3a" stroke-width="1.2" fill="none"/><path d="M44.3 851.8H47.1" stroke="#333" stroke-width="1"/><text transform="translate(43.5 854.9) scale(0.9 1)" font-family='"Liberation Sans", sans-serif' font-size="8.8" fill="#222" text-anchor="end">9</text><path d="M44.3 786.1H47.1" stroke="#333" stroke-width="1"/><text transform="translate(43.5 789.2) scale(0.9 1)" font-family='"Liberation Sans", sans-serif' font-size="8.8" fill="#222" text-anchor="end">10</text><path d="M44.3 720.4H47.1" stroke="#333" stroke-width="1"/><text transform="translate(43.5 723.5) scale(0.9 1)" font-family='"Liberation Sans", sans-serif' font-size="8.8" fill="#222" text-anchor="end">11</text><path d="M44.3 654.7H47.1" stroke="#333" stroke-width="1"/><text transform="translate(43.5 657.8) scale(0.9 1)" font-family='"Liberation Sans", sans-serif' font-size="8.8" fill="#222" text-anchor="end">12</text><text transform="translate(31 773.5) rotate(-90)" font-family='"Liberation Serif", serif' font-size="10" fill="#111" text-anchor="middle">LDB2 Expression</text><path d="M128.3 899.8V902.4" stroke="#333" stroke-width="1"/><path d="M263.3 899.8V902.4" stroke="#333" stroke-width="1"/><text x="54.6" y="668.3" font-family='"Liberation Serif", serif' font-size="14" fill="#111">GSE37815</text><path d="M128.5 671.5V665.5H263.5V671.5" stroke="#555" stroke-width="1" fill="none"/><text x="191.7" y="666.4" font-family='"Liberation Sans", sans-serif' font-size="12" fill="#333" text-anchor="middle">****</text><path d="M128.6 683.4V676.3M128.6 705.5V707.3" stroke="#3b62b0" stroke-width="1.0"/><rect x="81.4" y="683.4" width="94.3" height="22.1" fill="none" stroke="#3b62b0" stroke-width="1.0"/><path d="M81.4 698.1H175.7" stroke="#3b62b0" stroke-width="1.6"/><path d="M263.3 779.1V717.2M263.3 829.2V888.5" stroke="#d9282a" stroke-width="1.0"/><rect x="215.9" y="779.1" width="94.8" height="50.1" fill="none" stroke="#d9282a" stroke-width="1.0"/><path d="M215.9 794.5H310.7" stroke="#d9282a" stroke-width="1.6"/><path d="M103.7 707.3h0M116.6 701.8h0M143.7 694.4h0M148.9 680.2h0M152.1 676.3h0M123.3 770.5h0" stroke="#1f4e9e" stroke-width="3.5" stroke-linecap="round" fill="none"/><path d="M289.9 717.2h0M287.6 723.2h0M238.5 752.7h0M266 769.2h0M270.5 781.3h0M273.5 779.1h0M241.7 790.3h0M264.5 788h0M253.9 795h0M284.6 794.5h0M284.1 801.2h0M288.1 801.2h0M260.8 824h0M249.4 831.5h0M260.8 832.7h0M284.4 840.1h0M272.7 854.8h0M267 888.8h0" stroke="#e31a1c" stroke-width="3.5" stroke-linecap="round" fill="none"/><text x="128.3" y="916.8" font-family='"Liberation Serif", serif' font-size="15.5" fill="#111" text-anchor="middle">Normal(n=6)</text><text x="264" y="916.8" font-family='"Liberation Serif", serif' font-size="15.6" fill="#111" text-anchor="middle">Tumor(n=18)</text><text x="371.6" y="646" font-family='"Liberation Serif", serif' font-size="20" fill="#231f20">E</text><path d="M392.6 653.0V901.2H683.7" stroke="#3a3a3a" stroke-width="1.2" fill="none"/><path d="M389.8 888.9H392.6" stroke="#333" stroke-width="1"/><text transform="translate(389 892) scale(0.9 1)" font-family='"Liberation Sans", sans-serif' font-size="8.8" fill="#222" text-anchor="end">8</text><path d="M389.8 842.9H392.6" stroke="#333" stroke-width="1"/><text transform="translate(389 846) scale(0.9 1)" font-family='"Liberation Sans", sans-serif' font-size="8.8" fill="#222" text-anchor="end">9</text><path d="M389.8 796.9H392.6" stroke="#333" stroke-width="1"/><text transform="translate(389 800) scale(0.9 1)" font-family='"Liberation Sans", sans-serif' font-size="8.8" fill="#222" text-anchor="end">10</text><path d="M389.8 750.9H392.6" stroke="#333" stroke-width="1"/><text transform="translate(389 754) scale(0.9 1)" font-family='"Liberation Sans", sans-serif' font-size="8.8" fill="#222" text-anchor="end">11</text><path d="M389.8 704.9H392.6" stroke="#333" stroke-width="1"/><text transform="translate(389 708) scale(0.9 1)" font-family='"Liberation Sans", sans-serif' font-size="8.8" fill="#222" text-anchor="end">12</text><path d="M389.8 658.9H392.6" stroke="#333" stroke-width="1"/><text transform="translate(389 662) scale(0.9 1)" font-family='"Liberation Sans", sans-serif' font-size="8.8" fill="#222" text-anchor="end">13</text><text transform="translate(378.2 773.8) rotate(-90)" font-family='"Liberation Serif", serif' font-size="10" fill="#111" text-anchor="middle">LDB2 Expression</text><path d="M472.2 901.2V903.8" stroke="#333" stroke-width="1"/><path d="M604.5 901.2V903.8" stroke="#333" stroke-width="1"/><text x="399" y="667.3" font-family='"Liberation Serif", serif' font-size="14" fill="#111">GSE13507</text><path d="M472.5 670.8V664.5H604.5V670.8" stroke="#555" stroke-width="1" fill="none"/><text x="529.5" y="664.7" font-family='"Liberation Sans", sans-serif' font-size="12" fill="#333" text-anchor="middle">**</text><path d="M472.3 745.2V688.2M472.3 794.2V868.7" stroke="#3b62b0" stroke-width="1.0"/><rect x="425.6" y="745.2" width="93.4" height="49" fill="none" stroke="#3b62b0" stroke-width="1.0"/><path d="M425.6 769.5H519" stroke="#3b62b0" stroke-width="1.6"/><path d="M604.9 789.9V719.9M604.9 837.1V890.3" stroke="#d9282a" stroke-width="1.0"/><rect x="558.5" y="789.9" width="92.8" height="47.2" fill="none" stroke="#d9282a" stroke-width="1.0"/><path d="M558.5 813.6H651.3" stroke="#d9282a" stroke-width="1.6"/><path d="M452.1 687.2h0M473.6 690.2h0M485.8 690.1h0M493.1 719.7h0M448 722.7h0M448 725.3h0M492.4 725.3h0M460.9 726.4h0M467.4 730.6h0M467.4 733h0M475.3 734.3h0M488.5 734.3h0M492.8 734.3h0M487.4 738.1h0M474.9 741.5h0M481.5 742.8h0M482.6 742.8h0M456.5 746.6h0M460.2 747.9h0M469.7 746.4h0M450.6 749h0M485.4 750.3h0M488.7 753.2h0M462.5 753.2h0M457.9 755.3h0M476 757.9h0M493.1 757.9h0M465.2 759.1h0M469 759.5h0M453.3 762.8h0M480.8 763.7h0M482.6 767.4h0M491.1 767h0M498.3 768.3h0M446.8 771.6h0M452.6 772.2h0M448 775.5h0M477.3 775.9h0M470.5 778.8h0M467.8 781h0M469.4 782.1h0M470.7 781.8h0M474.4 781.4h0M487.8 778.8h0M493.5 780.5h0M487.8 783.8h0M495.4 785.8h0M496.4 789h0M457.2 787.3h0M453.4 789.7h0M479.5 793h0M463.1 800.5h0M496.7 804.2h0M459.8 807.7h0M483.2 808.6h0M493.3 809.3h0M453 813.2h0M451 815.3h0M458 817.3h0M461.1 819.8h0M469.7 819.5h0M496.6 818.2h0M453.7 823.2h0M465.5 824.8h0M488.5 825.2h0M465.9 837.3h0M480.3 844.5h0M458.6 869.2h0" stroke="#1f4e9e" stroke-width="3.5" stroke-linecap="round" fill="none"/><path d="M606.8 705.8h0M592.2 719.6h0M599.3 722.3h0M604.7 727.6h0M599.9 735.3h0M616.7 739h0M624.9 741.6h0M589.6 748.7h0M619.8 748h0M629.3 751.8h0M612.6 751.8h0M597.9 752.8h0M594.5 755.5h0M580.9 758.5h0M596.4 759.1h0M599.6 760.8h0M607.8 760.5h0M615.7 762.3h0M616.7 765.7h0M589.6 768.5h0M592.5 767.4h0M601.5 768.7h0M606.3 769h0M622.3 769.3h0M587.2 674.6h0M616.7 766h0M585.5 773h0M591.7 774.5h0M598.9 774.4h0M603.2 773.2h0M617.5 773.2h0M614.7 776.2h0M613.4 777.8h0M603.2 777.3h0M606 779.3h0M628.5 779h0M593.5 781h0M587.4 782.7h0M599.1 782.7h0M616.5 784.9h0M613.9 787.7h0M580.7 788h0M582.8 788.5h0M589.9 790.5h0M592 790h0M597.6 789.5h0M600.7 791.1h0M591.3 793.6h0M605.3 793.4h0M609 794.8h0M620.6 794.6h0M625.9 793.6h0M609.6 798.7h0M625.2 798.5h0M581.2 800.3h0M590.4 800h0M601.5 801.1h0M597.4 804.3h0M606.6 803.8h0M609.9 803.6h0M613.9 802.8h0M617.2 802.6h0M623.1 803.6h0M627.2 803h0M620.1 805.9h0M622.8 807.2h0M630.3 806.9h0M585.8 806.4h0M586.6 807.9h0M590.9 809.1h0M608.3 808.9h0M610.9 807.9h0M610.4 811h0M612.9 811.5h0M595.3 811h0M578.7 812.5h0M584.3 813h0M592.3 814.6h0M597.6 812h0M600.1 813.5h0M603.7 812.5h0M611.4 812.2h0M617 814.6h0M622.6 813.5h0M621.9 815.3h0M630.3 816.6h0M610.4 818.1h0M608.3 820.2h0M619.6 818.6h0M629.3 820.2h0M626.7 821.7h0M581.4 822.9h0M585.8 823.5h0M589.7 821.7h0M588.4 825.3h0M583.3 826.8h0M599.6 824.1h0M607.3 824h0M610.4 825.3h0M612.9 825.3h0M617.5 823h0M620.1 821.7h0M628.8 825.3h0M586.3 828.9h0M589.9 829.4h0M594 827.8h0M597.1 828.4h0M601.7 828.4h0M593 831.4h0M596.8 831.4h0M599.6 831.9h0M625.2 829.7h0M604.2 834.3h0M625.7 834.5h0M604.7 834.6h0M625.2 835.6h0M626.7 834.6h0M628.8 837.2h0M630.5 838.2h0M624 838.2h0M578.2 839h0M591.2 840.9h0M597.1 841.2h0M598.9 840.2h0M596.8 842.8h0M615.5 839.7h0M621.8 841.8h0M603.7 844.3h0M605.8 846.3h0M608.8 847.4h0M611.4 844.3h0M614.7 845.1h0M611.4 848.4h0M582.3 852.3h0M594.5 850.2h0M599.1 852h0M602.9 850.2h0M605.3 852.7h0M603.7 854.3h0M610.9 854.3h0M613.4 854.3h0M625.5 851.5h0M587.2 856.3h0M591.5 855.5h0M595 854.5h0M595 856.8h0M591.5 858.6h0M593 861.4h0M598.1 862.2h0M601.2 861.5h0M616.5 857.4h0M620.3 857.4h0M626.7 861.9h0M628 862.7h0M582.8 863.9h0M610.9 868.6h0M612.7 870.9h0M630.3 870.6h0M594.5 873.2h0M589.7 889.3h0M625.4 890.3h0" stroke="#e31a1c" stroke-width="3.5" stroke-linecap="round" fill="none"/><text x="471.5" y="920.3" font-family='"Liberation Serif", serif' font-size="15.3" fill="#111" text-anchor="middle">Normal(n=68)</text><text x="605" y="920.3" font-family='"Liberation Serif", serif' font-size="15.3" fill="#111" text-anchor="middle">Tumor(n=188)</text></svg></body></html>
